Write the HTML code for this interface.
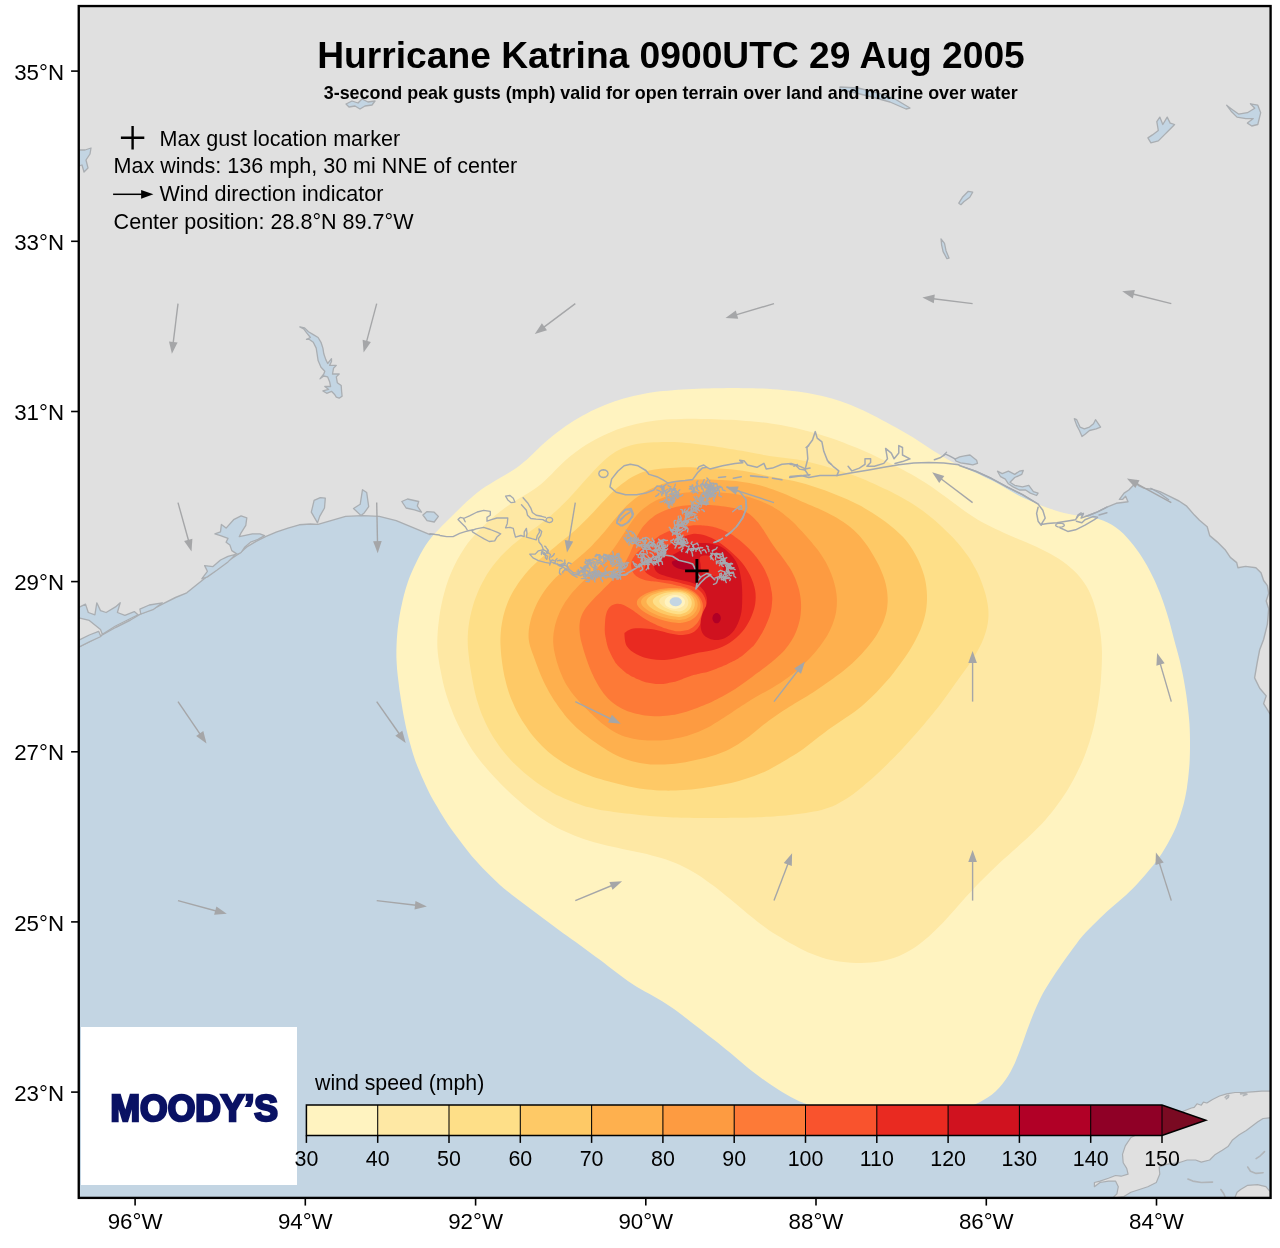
<!DOCTYPE html>
<html lang="en"><head><meta charset="utf-8"><title>Hurricane Katrina 0900UTC 29 Aug 2005</title>
<style>
html,body{margin:0;padding:0;background:#fff}
svg{display:block}
text{font-family:'Liberation Sans', Arial, Helvetica, sans-serif;fill:#000}
.tk{font-size:22.3px}
.lg{font-size:21.55px}
.cb{font-size:21.4px}
</style></head><body>
<svg width="1280" height="1248" viewBox="0 0 1280 1248">
<defs><clipPath id="ax"><rect x="79" y="6" width="1192" height="1192"/></clipPath></defs>
<rect x="0" y="0" width="1280" height="1248" fill="#fff"/>
<g clip-path="url(#ax)">
<rect x="79" y="6" width="1192" height="1192" fill="#c3d5e3"/>

<path d="M70.0,0.0L70.0,648.0L77.1,648.1L79.9,646.3L89.3,641.6L100.5,635.9L115.5,627.5L130.5,620.0L139.9,614.4L153.0,608.8L164.3,603.1L175.5,597.5L186.8,592.8L196.1,585.3L205.5,577.8L216.8,569.4L228.0,560.9L239.3,553.4L246.8,546.9L256.1,541.3L265.5,536.6L276.8,531.9L288.0,528.1L299.3,524.8L310.5,524.0L318.0,524.4L345.6,516.4L362.5,515.6L379.3,516.4L396.2,520.6L413.1,527.6L430.0,534.7L430.0,533.9L439.4,535.0L450.3,536.2L458.1,533.9L465.9,530.8L480.0,520.0L560.0,520.0L640.0,505.0L720.0,490.0L780.0,478.0L790.0,476.6L801.3,475.6L808.8,477.5L820.0,475.6L836.9,475.6L851.9,472.8L868.8,470.0L883.8,467.2L898.8,464.8L913.8,463.1L928.8,462.5L943.8,463.1L960.0,465.8L975.6,471.2L991.2,478.3L1006.9,486.9L1022.5,494.7L1030.3,499.4L1038.1,504.1L1042.8,510.3L1045.2,518.1L1041.2,524.4L1047.5,523.6L1056.9,522.8L1066.2,521.2L1075.6,519.7L1078.8,515.0L1083.4,513.4L1081.1,518.1L1089.7,515.0L1097.5,511.9L1106.9,507.2L1116.2,503.3L1122.5,502.5L1128.0,501.7L1125.6,496.2L1122.5,499.4L1119.4,499.4L1124.1,493.1L1128.8,490.0L1133.4,485.3L1136.6,480.6L1138.1,485.3L1144.4,488.4L1152.2,489.2L1160.0,491.6L1168.7,495.9L1179.0,501.0L1186.7,506.2L1194.4,515.1L1199.5,520.3L1207.2,526.7L1209.7,535.6L1217.4,542.1L1225.1,549.7L1230.3,557.4L1236.7,562.6L1237.9,567.7L1245.6,566.4L1255.9,567.7L1261.0,572.8L1263.6,580.5L1267.4,585.6L1268.7,593.3L1266.2,601.0L1268.7,608.7L1267.4,624.1L1263.6,639.5L1259.7,649.7L1257.2,662.6L1254.6,677.9L1259.7,688.2L1266.2,695.9L1263.6,703.6L1270.0,713.8L1276.4,719.0L1290.0,720.0L1290.0,0.0Z" fill="#e0e0e0" stroke="#aaaeb2" stroke-width="1.4" stroke-linejoin="round"/>
<path d="M1282.8,1091.1L1269.5,1091.1L1261.7,1091.1L1251.9,1091.8L1243.4,1092.5L1235.0,1092.5L1226.6,1093.9L1219.5,1096.0L1212.5,1099.5L1206.9,1103.0L1203.4,1102.1L1201.3,1105.2L1197.0,1103.8L1194.2,1107.3L1191.4,1108.0L1184.4,1110.8L1173.1,1116.4L1159.1,1124.8L1142.2,1131.9L1130.9,1137.5L1125.3,1145.9L1122.5,1154.4L1123.2,1162.8L1126.7,1168.4L1128.1,1174.1L1121.1,1176.2L1115.5,1175.5L1108.4,1178.3L1100.0,1181.1L1094.4,1182.5L1094.4,1186.7L1100.0,1182.5L1108.4,1181.1L1115.5,1181.1L1118.3,1186.7L1116.9,1193.8L1112.7,1198.0L1123.9,1196.6L1130.9,1192.3L1139.4,1189.5L1147.8,1186.7L1156.3,1182.5L1159.8,1174.1L1159.1,1167.0L1167.5,1164.2L1178.8,1162.8L1187.2,1160.0L1195.6,1160.0L1201.3,1162.1L1209.7,1160.0L1215.3,1154.4L1222.3,1150.2L1228.0,1146.6L1232.2,1140.3L1239.2,1134.7L1246.3,1130.5L1251.9,1126.3L1257.5,1122.0L1263.1,1118.5L1269.5,1117.8L1282.8,1117.8Z" fill="#e0e0e0" stroke="#aaaeb2" stroke-width="1.2" stroke-linejoin="round"/>
<path d="M1235.0,1197.3L1237.1,1192.3L1240.6,1189.5L1247.7,1185.3L1257.5,1184.6L1265.9,1186.7L1269.5,1190.9L1282.8,1192.3L1282.8,1199.4L1235.0,1199.4Z" fill="#e0e0e0" stroke="#aaaeb2" stroke-width="1.2" stroke-linejoin="round"/>
<path d="M220.5,535.6L214.9,533.8L220.5,531.9L221.4,524.4L226.1,528.1L233.6,519.7L241.1,515.9L246.8,517.8L245.8,525.3L241.1,532.8L239.3,536.6L252.4,533.8L259.9,533.8L264.6,535.6L258.0,539.4L250.5,542.2L244.9,546.9L241.1,552.5L237.4,554.4L231.8,550.6L229.9,545.0L226.1,542.2L228.0,538.4Z" fill="#c3d5e3" stroke="#aaaeb2" stroke-width="1.3" stroke-linejoin="round"/>
<path d="M201.8,578.8L207.4,571.3L204.6,565.6L213.0,566.6L220.5,560.0L228.0,556.3L235.5,554.4L228.0,561.9L216.8,570.3L207.4,576.9Z" fill="#c3d5e3" stroke="#aaaeb2" stroke-width="1.3" stroke-linejoin="round"/>
<path d="M77.1,607.8L79.9,606.9L85.5,604.1L88.3,612.5L94.9,614.8L96.8,602.8L100.5,610.6L106.1,612.5L115.5,606.9L120.2,602.8L117.4,612.5L124.9,615.3L134.3,611.6L138.0,614.8L130.5,618.5L115.5,626.0L102.4,634.4L100.5,629.4L89.3,620.4L79.9,618.1L77.1,617.8Z" fill="#c3d5e3" stroke="#aaaeb2" stroke-width="1.3" stroke-linejoin="round"/>
<path d="M139.9,609.1L149.3,605.0L162.4,602.8L153.0,609.7L140.8,614.0Z" fill="#c3d5e3" stroke="#aaaeb2" stroke-width="1.3" stroke-linejoin="round"/>
<path d="M77.1,640.3L79.9,639.7L89.3,635.0L98.6,631.3L100.9,636.5L89.3,641.9L79.9,646.6L77.1,648.1Z" fill="#c3d5e3" stroke="#aaaeb2" stroke-width="1.3" stroke-linejoin="round"/>
<path d="M317.5,522.9L311.3,512.2L314.1,500.4L320.3,497.6L325.3,498.1L324.5,508.0L319.7,516.4Z" fill="#c3d5e3" stroke="#aaaeb2" stroke-width="1.3" stroke-linejoin="round"/>
<path d="M361.1,515.6L353.5,508.5L360.2,504.3L362.5,489.7L366.7,492.5L368.7,506.6L364.4,512.7Z" fill="#c3d5e3" stroke="#aaaeb2" stroke-width="1.3" stroke-linejoin="round"/>
<path d="M401.8,501.5L407.5,499.0L418.7,501.5L417.3,506.0L421.5,512.2L414.5,509.9L406.1,508.0Z" fill="#c3d5e3" stroke="#aaaeb2" stroke-width="1.3" stroke-linejoin="round"/>
<path d="M422.9,515.0L427.1,511.6L434.2,512.2L438.4,516.4L434.2,522.0L427.1,520.6Z" fill="#c3d5e3" stroke="#aaaeb2" stroke-width="1.3" stroke-linejoin="round"/>
<path d="M299.8,326.9L304.6,327.9L308.5,331.7L313.3,334.6L318.1,337.5L321.0,342.3L322.9,348.1L323.8,353.8L325.8,359.6L327.7,363.5L331.5,358.7L331.5,361.5L329.6,365.4L336.3,365.4L333.5,368.3L332.5,374.0L339.2,374.0L336.3,376.9L337.3,382.7L341.2,385.6L341.6,391.3L342.1,396.2L339.2,398.1L336.3,397.1L334.4,394.2L331.5,391.3L326.7,393.3L322.9,390.9L328.7,389.4L324.8,386.5L330.6,386.5L329.6,381.7L327.7,376.9L323.8,376.0L320.0,378.8L323.8,374.0L324.8,371.2L321.0,367.3L318.1,360.6L317.1,353.8L316.2,348.1L313.3,342.3L309.4,339.4L306.5,339.4L310.4,337.5L306.5,332.7L303.7,328.8Z" fill="#c3d5e3" stroke="#aaaeb2" stroke-width="1.3" stroke-linejoin="round"/>
<path d="M1147.9,137.9L1152.4,134.9L1158.3,130.5L1156.8,121.6L1159.8,117.1L1162.8,124.5L1167.2,117.1L1170.2,123.1L1174.6,124.5L1168.7,130.5L1164.3,134.9L1158.3,140.9L1150.9,142.9Z" fill="#c3d5e3" stroke="#aaaeb2" stroke-width="1.3" stroke-linejoin="round"/>
<path d="M1226.6,105.2L1232.5,109.7L1238.5,114.1L1247.4,112.7L1254.8,108.2L1250.4,103.8L1257.8,105.2L1260.7,112.7L1257.8,124.5L1251.8,126.0L1247.4,123.1L1253.3,118.6L1245.9,118.6L1237.0,117.1L1231.1,111.2Z" fill="#c3d5e3" stroke="#aaaeb2" stroke-width="1.3" stroke-linejoin="round"/>
<path d="M958.8,203.2L962.4,197.3L968.3,191.3L972.7,192.2L969.8,197.3L963.8,201.7L960.9,204.7Z" fill="#c3d5e3" stroke="#aaaeb2" stroke-width="1.3" stroke-linejoin="round"/>
<path d="M941.0,238.8L944.5,243.3L946.0,250.7L949.0,258.1L946.9,258.7L943.1,251.6L941.6,244.8Z" fill="#c3d5e3" stroke="#aaaeb2" stroke-width="1.3" stroke-linejoin="round"/>
<path d="M840.0,87.0L858.0,88.0L878.0,93.0L895.0,99.0L910.0,108.0L906.0,109.0L890.0,102.0L872.0,97.0L852.0,92.0L840.0,90.0Z" fill="#c3d5e3" stroke="#aaaeb2" stroke-width="1.3" stroke-linejoin="round"/>
<path d="M346.0,104.0L352.0,101.0L358.0,103.0L362.0,99.0L368.0,102.0L375.0,101.0L372.0,105.0L365.0,106.0L360.0,109.0L355.0,106.0L349.0,107.0Z" fill="#c3d5e3" stroke="#aaaeb2" stroke-width="1.3" stroke-linejoin="round"/>
<path d="M79.0,150.0L85.0,150.0L91.0,148.0L90.0,154.0L86.0,160.0L88.0,168.0L84.0,172.0L82.0,165.0L79.0,166.0Z" fill="#c3d5e3" stroke="#aaaeb2" stroke-width="1.3" stroke-linejoin="round"/>
<path d="M955.0,459.1L959.7,456.9L964.4,455.9L970.0,455.0L976.6,460.3L977.5,463.4L972.8,464.8L968.1,464.0L960.6,462.9L955.9,461.0Z" fill="#c3d5e3" stroke="#aaaeb2" stroke-width="1.3" stroke-linejoin="round"/>
<path d="M997.5,471.2L1002.2,473.6L1008.4,471.2L1014.7,474.4L1019.4,471.2L1023.3,470.5L1021.7,474.4L1014.7,477.5L1010.0,482.2L1014.7,485.3L1022.5,486.9L1028.8,485.3L1033.4,491.6L1038.1,493.1L1036.6,495.5L1030.3,493.1L1025.6,490.0L1019.4,490.0L1013.1,486.9L1008.4,483.8L1005.3,479.1L1000.6,476.7Z" fill="#c3d5e3" stroke="#aaaeb2" stroke-width="1.3" stroke-linejoin="round"/>
<path d="M1074.3,418.7L1076.7,425.4L1079.4,430.5L1082.0,436.5L1085.4,433.9L1089.5,430.5L1096.2,428.8L1100.6,427.1L1097.9,423.1L1095.5,419.7L1093.5,423.8L1089.5,427.1L1084.4,428.8L1080.0,427.1L1076.7,419.7Z" fill="#c3d5e3" stroke="#aaaeb2" stroke-width="1.3" stroke-linejoin="round"/>
<path d="M1187.9,1179.0L1192.8,1181.1L1201.3,1182.5L1212.5,1182.1" fill="none" stroke="#b0b4b8" stroke-width="1.6" stroke-linejoin="round" stroke-linecap="round"/>
<path d="M1247.7,1167.0L1250.5,1171.3L1256.1,1173.4L1263.1,1172.7" fill="none" stroke="#b0b4b8" stroke-width="1.6" stroke-linejoin="round" stroke-linecap="round"/>
<path d="M1256.1,1158.6L1260.3,1155.8L1264.5,1151.6" fill="none" stroke="#b0b4b8" stroke-width="1.6" stroke-linejoin="round" stroke-linecap="round"/>
<path d="M1220.9,1189.5L1223.8,1193.8L1225.2,1197.3" fill="none" stroke="#b0b4b8" stroke-width="1.6" stroke-linejoin="round" stroke-linecap="round"/>
<path d="M1225.2,1097.4L1226.6,1096.0L1228.7,1095.3L1228.3,1097.4L1226.3,1098.8" fill="none" stroke="#b0b4b8" stroke-width="1.6" stroke-linejoin="round" stroke-linecap="round"/>
<path d="M1240.6,1093.9L1244.8,1093.2L1247.0,1094.2L1243.4,1095.6" fill="none" stroke="#b0b4b8" stroke-width="1.6" stroke-linejoin="round" stroke-linecap="round"/>
<g>
<path d="M877.9,417.7C880.9,419.3 883.8,420.9 886.7,422.5C889.7,424.1 892.6,425.7 895.5,427.3C898.4,428.9 901.3,430.5 904.2,432.2C907.1,433.8 910.0,435.5 912.8,437.2C915.7,439.0 918.4,440.8 921.2,442.7C924.0,444.5 926.8,446.4 929.5,448.2C932.3,450.0 935.1,451.9 937.9,453.6C940.8,455.4 943.6,457.2 946.5,458.8C949.4,460.5 952.3,462.1 955.3,463.5C958.2,465.0 961.3,466.4 964.3,467.7C967.4,469.1 970.5,470.3 973.5,471.7C976.6,473.0 979.6,474.4 982.6,475.9C985.6,477.3 988.6,478.8 991.5,480.3C994.5,481.9 997.4,483.4 1000.3,485.0C1003.3,486.6 1006.1,488.3 1009.0,490.0C1011.9,491.6 1014.8,493.3 1017.7,494.9C1020.7,496.4 1023.6,497.9 1026.7,499.3C1029.7,500.7 1032.7,502.0 1035.8,503.3C1038.9,504.6 1042.0,505.8 1045.1,507.0C1048.2,508.1 1051.4,509.2 1054.6,510.2C1057.7,511.2 1060.9,512.2 1064.1,513.0C1067.3,513.8 1070.6,514.4 1073.9,515.0C1077.1,515.6 1080.4,515.9 1083.7,516.3C1087.0,516.8 1090.3,517.2 1093.6,517.9C1096.8,518.5 1100.0,519.4 1103.0,520.5C1106.1,521.7 1109.0,523.1 1111.8,524.8C1114.6,526.4 1117.3,528.4 1119.8,530.5C1122.3,532.6 1124.7,535.0 1126.9,537.4C1129.2,539.8 1131.3,542.4 1133.3,545.0C1135.4,547.6 1137.3,550.3 1139.2,553.1C1141.1,555.8 1142.9,558.6 1144.6,561.5C1146.3,564.3 1148.0,567.2 1149.5,570.2C1151.1,573.1 1152.5,576.1 1153.9,579.1C1155.3,582.1 1156.7,585.2 1157.9,588.3C1159.2,591.3 1160.5,594.4 1161.6,597.6C1162.8,600.7 1163.9,603.8 1164.9,607.0C1166.0,610.1 1167.0,613.3 1167.9,616.5C1168.9,619.7 1169.8,622.9 1170.6,626.1C1171.5,629.4 1172.3,632.6 1173.1,635.8C1173.9,639.0 1174.8,642.3 1175.7,645.5C1176.6,648.7 1177.5,651.9 1178.3,655.1C1179.2,658.3 1180.0,661.6 1180.7,664.8C1181.5,668.1 1182.1,671.3 1182.8,674.6C1183.4,677.9 1184.1,681.1 1184.6,684.4C1185.2,687.7 1185.7,691.0 1186.2,694.3C1186.7,697.6 1187.1,700.9 1187.5,704.2C1187.9,707.5 1188.3,710.8 1188.6,714.1C1188.9,717.4 1189.3,720.8 1189.5,724.1C1189.7,727.4 1189.8,730.7 1189.9,734.1C1190.0,737.4 1190.0,740.7 1190.0,744.1C1190.0,747.4 1190.0,750.7 1189.9,754.1C1189.8,757.4 1189.7,760.7 1189.5,764.0C1189.3,767.4 1188.9,770.7 1188.6,774.0C1188.3,777.3 1187.9,780.6 1187.4,783.9C1187.0,787.2 1186.6,790.5 1185.9,793.8C1185.3,797.0 1184.6,800.3 1183.8,803.5C1182.9,806.7 1182.0,809.9 1181.0,813.1C1180.0,816.3 1179.0,819.4 1177.8,822.5C1176.6,825.6 1175.3,828.7 1173.9,831.7C1172.5,834.7 1170.9,837.6 1169.4,840.5C1167.8,843.5 1166.1,846.4 1164.4,849.2C1162.7,852.1 1161.0,854.9 1159.1,857.6C1157.2,860.4 1155.2,863.0 1153.1,865.6C1151.0,868.2 1148.8,870.7 1146.6,873.2C1144.5,875.7 1142.3,878.2 1140.0,880.7C1137.8,883.2 1135.6,885.7 1133.3,888.0C1130.9,890.4 1128.5,892.7 1126.1,895.0C1123.6,897.2 1121.1,899.4 1118.6,901.6C1116.1,903.8 1113.5,905.9 1111.0,908.1C1108.5,910.3 1106.0,912.5 1103.6,914.8C1101.1,917.0 1098.7,919.4 1096.4,921.7C1094.0,924.0 1091.6,926.4 1089.3,928.8C1087.0,931.2 1084.7,933.6 1082.5,936.1C1080.4,938.6 1078.3,941.2 1076.3,943.9C1074.2,946.5 1072.3,949.2 1070.4,951.9C1068.4,954.6 1066.5,957.3 1064.6,960.1C1062.7,962.8 1060.8,965.5 1058.9,968.3C1057.0,971.0 1055.1,973.8 1053.3,976.6C1051.5,979.4 1049.6,982.1 1047.9,985.0C1046.1,987.8 1044.4,990.6 1042.8,993.6C1041.2,996.5 1039.8,999.5 1038.4,1002.5C1037.0,1005.5 1035.7,1008.6 1034.4,1011.6C1033.1,1014.7 1031.8,1017.8 1030.6,1020.9C1029.4,1024.0 1028.2,1027.1 1027.1,1030.3C1026.0,1033.4 1024.9,1036.6 1023.8,1039.7C1022.7,1042.8 1021.5,1046.0 1020.4,1049.1C1019.2,1052.2 1018.0,1055.3 1016.7,1058.4C1015.5,1061.5 1014.2,1064.6 1012.7,1067.5C1011.3,1070.5 1009.7,1073.4 1007.9,1076.2C1006.2,1079.0 1004.2,1081.7 1002.2,1084.2C1000.1,1086.8 997.9,1089.3 995.5,1091.5C993.1,1093.7 990.5,1095.8 987.7,1097.6C985.0,1099.4 982.1,1101.1 979.2,1102.6C976.2,1104.0 973.1,1105.3 970.1,1106.5C967.0,1107.8 963.8,1108.9 960.7,1110.0C957.5,1111.1 954.4,1112.1 951.2,1112.9C948.0,1113.7 944.7,1114.3 941.4,1114.8C938.1,1115.4 934.8,1115.8 931.5,1116.2C928.2,1116.6 924.9,1117.0 921.6,1117.4C918.3,1117.8 915.0,1118.2 911.7,1118.5C908.4,1118.8 905.0,1119.1 901.7,1119.3C898.4,1119.4 895.1,1119.3 891.8,1119.2C888.5,1119.0 885.1,1118.8 881.8,1118.5C878.5,1118.3 875.2,1118.0 871.8,1117.7C868.5,1117.5 865.2,1117.2 861.9,1116.9C858.6,1116.5 855.3,1116.2 852.0,1115.7C848.7,1115.2 845.4,1114.5 842.2,1113.8C839.0,1113.1 835.7,1112.2 832.5,1111.4C829.3,1110.6 826.0,1109.7 822.8,1108.9C819.6,1108.0 816.4,1107.2 813.2,1106.2C810.0,1105.3 806.8,1104.3 803.8,1103.1C800.7,1101.9 797.7,1100.5 794.7,1099.0C791.8,1097.5 788.9,1095.8 786.0,1094.2C783.1,1092.5 780.3,1090.8 777.4,1089.0C774.6,1087.3 771.8,1085.4 769.1,1083.5C766.3,1081.7 763.6,1079.8 760.9,1077.8C758.2,1075.9 755.5,1073.9 752.9,1071.8C750.3,1069.8 747.7,1067.6 745.1,1065.5C742.6,1063.4 740.1,1061.2 737.5,1059.0C735.0,1056.9 732.4,1054.7 729.9,1052.6C727.3,1050.5 724.7,1048.4 722.1,1046.3C719.5,1044.2 716.9,1042.2 714.3,1040.1C711.6,1038.1 709.0,1036.0 706.4,1034.0C703.7,1031.9 701.1,1029.9 698.5,1027.8C695.8,1025.8 693.2,1023.7 690.6,1021.7C687.9,1019.7 685.3,1017.6 682.7,1015.6C680.0,1013.6 677.4,1011.5 674.7,1009.6C672.0,1007.7 669.2,1005.8 666.4,1004.0C663.6,1002.2 660.8,1000.5 657.9,998.8C655.0,997.1 652.1,995.5 649.2,993.8C646.3,992.2 643.4,990.6 640.5,988.9C637.6,987.2 634.8,985.5 632.0,983.7C629.2,981.9 626.5,980.0 623.8,978.0C621.1,976.1 618.5,974.0 615.8,972.0C613.2,970.0 610.5,967.9 607.9,965.9C605.2,963.9 602.6,961.8 599.9,959.8C597.3,957.8 594.6,955.9 591.9,953.9C589.2,951.9 586.5,950.0 583.8,948.0C581.1,946.1 578.4,944.1 575.7,942.1C573.0,940.2 570.3,938.2 567.6,936.3C564.9,934.3 562.2,932.3 559.5,930.4C556.8,928.4 554.2,926.4 551.5,924.4C548.8,922.4 546.1,920.5 543.4,918.5C540.8,916.5 538.1,914.5 535.4,912.5C532.7,910.5 530.1,908.5 527.4,906.5C524.7,904.5 522.1,902.5 519.4,900.5C516.8,898.5 514.1,896.5 511.5,894.4C508.8,892.4 506.2,890.3 503.7,888.2C501.1,886.0 498.7,883.8 496.3,881.5C493.8,879.2 491.5,876.9 489.1,874.5C486.8,872.2 484.4,869.8 482.1,867.4C479.8,865.0 477.5,862.6 475.3,860.1C473.1,857.6 471.0,855.0 468.9,852.4C466.8,849.9 464.8,847.2 462.7,844.6C460.7,841.9 458.7,839.3 456.7,836.6C454.7,834.0 452.7,831.3 450.8,828.5C448.9,825.8 447.1,823.0 445.3,820.2C443.5,817.4 441.8,814.6 440.0,811.7C438.3,808.9 436.6,806.0 434.9,803.1C433.2,800.2 431.6,797.3 430.1,794.4C428.6,791.4 427.2,788.4 425.8,785.4C424.3,782.4 423.0,779.3 421.6,776.3C420.3,773.2 418.9,770.2 417.7,767.1C416.5,764.0 415.3,760.9 414.3,757.7C413.2,754.6 412.3,751.4 411.4,748.2C410.5,745.0 409.6,741.8 408.7,738.5C407.9,735.3 407.1,732.1 406.3,728.8C405.6,725.6 404.9,722.3 404.3,719.1C403.6,715.8 403.1,712.5 402.5,709.2C402.0,705.9 401.4,702.6 400.9,699.3C400.4,696.1 399.9,692.8 399.4,689.5C399.0,686.2 398.6,682.8 398.2,679.5C397.8,676.2 397.4,672.9 397.1,669.6C396.9,666.3 396.6,663.0 396.5,659.6C396.3,656.3 396.4,653.0 396.4,649.7C396.5,646.3 396.6,643.0 396.8,639.7C397.0,636.4 397.3,633.0 397.6,629.7C398.0,626.4 398.4,623.1 398.9,619.8C399.4,616.5 400.0,613.2 400.6,610.0C401.2,606.7 402.0,603.5 402.7,600.2C403.5,597.0 404.3,593.8 405.2,590.6C406.2,587.4 407.1,584.2 408.2,581.0C409.3,577.9 410.6,574.8 411.9,571.8C413.2,568.7 414.6,565.7 416.1,562.7C417.5,559.7 419.0,556.7 420.6,553.8C422.2,550.9 423.8,548.0 425.6,545.2C427.4,542.4 429.4,539.8 431.5,537.2C433.6,534.7 435.9,532.3 438.2,529.9C440.4,527.5 442.8,525.1 445.2,522.8C447.6,520.4 449.9,518.1 452.3,515.7C454.6,513.4 457.0,511.0 459.4,508.7C461.8,506.3 464.1,504.0 466.6,501.8C469.1,499.5 471.6,497.3 474.1,495.2C476.7,493.1 479.3,491.1 482.0,489.1C484.7,487.2 487.5,485.4 490.4,483.7C493.2,481.9 496.1,480.3 499.0,478.6C501.8,476.9 504.8,475.3 507.6,473.6C510.4,471.8 513.3,470.1 516.0,468.2C518.7,466.3 521.3,464.3 523.9,462.1C526.4,460.0 528.8,457.7 531.2,455.4C533.6,453.1 535.9,450.7 538.4,448.4C540.8,446.1 543.2,443.9 545.7,441.7C548.2,439.5 550.8,437.4 553.4,435.3C556.0,433.3 558.7,431.3 561.4,429.3C564.1,427.3 566.8,425.4 569.6,423.6C572.4,421.8 575.2,420.0 578.1,418.3C580.9,416.6 583.8,414.9 586.8,413.4C589.7,411.8 592.7,410.4 595.7,409.0C598.7,407.5 601.8,406.2 604.9,405.0C607.9,403.7 611.1,402.5 614.2,401.4C617.3,400.3 620.5,399.3 623.7,398.4C626.9,397.5 630.1,396.6 633.4,395.9C636.6,395.1 639.9,394.5 643.1,393.9C646.4,393.2 649.7,392.7 653.0,392.3C656.3,391.8 659.6,391.4 662.9,391.1C666.2,390.8 669.6,390.5 672.9,390.2C676.2,389.9 679.5,389.7 682.9,389.5C686.2,389.3 689.5,389.1 692.8,389.0C696.2,388.8 699.5,388.7 702.8,388.6C706.2,388.5 709.5,388.4 712.8,388.3C716.2,388.2 719.5,388.2 722.8,388.2C726.2,388.1 729.5,388.1 732.8,388.1C736.2,388.1 739.5,388.1 742.8,388.2C746.2,388.2 749.5,388.3 752.8,388.3C756.2,388.4 759.5,388.5 762.8,388.6C766.2,388.8 769.5,388.9 772.8,389.2C776.1,389.4 779.5,389.6 782.8,389.9C786.1,390.2 789.4,390.6 792.7,391.0C796.0,391.3 799.3,391.8 802.6,392.3C805.9,392.7 809.2,393.3 812.5,393.9C815.8,394.5 819.0,395.1 822.3,395.9C825.5,396.7 828.7,397.6 831.9,398.5C835.1,399.5 838.3,400.5 841.4,401.6C844.5,402.7 847.7,403.8 850.8,405.1C853.9,406.3 856.9,407.6 860.0,409.0C863.0,410.3 866.0,411.8 869.0,413.2C872.0,414.7 875.0,416.2 877.9,417.7Z" fill="#fff3c0"/>
<path d="M437.7,651.9C437.4,648.6 437.3,645.3 437.3,642.0C437.3,638.7 437.5,635.4 437.7,632.1C437.9,628.7 438.3,625.4 438.7,622.1C439.1,618.8 439.5,615.5 440.0,612.2C440.6,608.9 441.2,605.6 441.9,602.4C442.6,599.1 443.4,595.9 444.3,592.7C445.2,589.5 446.1,586.3 447.2,583.1C448.3,580.0 449.4,576.8 450.7,573.8C452.0,570.7 453.3,567.7 454.8,564.7C456.3,561.7 457.8,558.8 459.5,555.9C461.2,553.0 462.9,550.2 464.8,547.4C466.7,544.7 468.7,542.0 470.8,539.5C472.9,536.9 475.1,534.4 477.4,532.0C479.7,529.6 482.1,527.3 484.5,525.0C486.9,522.7 489.4,520.4 491.9,518.2C494.4,516.1 497.0,513.9 499.6,511.9C502.2,509.8 504.9,507.9 507.6,506.0C510.4,504.1 513.2,502.2 516.0,500.5C518.8,498.7 521.7,497.1 524.5,495.3C527.4,493.6 530.3,492.0 533.0,490.1C535.7,488.3 538.3,486.4 540.9,484.3C543.4,482.2 545.7,479.9 548.1,477.6C550.5,475.3 552.7,472.8 555.0,470.4C557.4,468.1 559.7,465.7 562.1,463.4C564.6,461.1 567.1,458.9 569.6,456.8C572.2,454.7 574.8,452.7 577.5,450.7C580.2,448.8 583.0,446.9 585.8,445.1C588.6,443.3 591.5,441.6 594.4,440.0C597.3,438.4 600.3,436.9 603.3,435.4C606.3,434.0 609.3,432.6 612.4,431.4C615.5,430.2 618.6,429.0 621.8,428.0C624.9,427.0 628.2,426.1 631.4,425.2C634.6,424.4 637.9,423.7 641.1,423.0C644.4,422.4 647.7,421.8 651.0,421.3C654.3,420.8 657.6,420.4 660.9,420.1C664.2,419.8 667.5,419.5 670.9,419.3C674.2,419.1 677.5,419.0 680.9,418.9C684.2,418.8 687.5,418.8 690.9,418.8C694.2,418.8 697.6,418.9 700.9,418.9C704.2,418.9 707.6,419.0 710.9,419.1C714.3,419.2 717.6,419.3 720.9,419.4C724.3,419.5 727.6,419.7 730.9,419.8C734.3,420.0 737.6,420.2 740.9,420.4C744.3,420.7 747.6,420.9 750.9,421.2C754.3,421.5 757.6,421.8 760.9,422.2C764.2,422.6 767.5,423.0 770.8,423.5C774.1,423.9 777.4,424.5 780.7,425.0C784.0,425.6 787.3,426.3 790.5,427.0C793.8,427.7 797.1,428.4 800.3,429.2C803.5,430.0 806.8,430.8 810.0,431.7C813.2,432.6 816.4,433.5 819.6,434.5C822.8,435.5 826.0,436.5 829.2,437.6C832.3,438.6 835.5,439.7 838.6,440.8C841.8,442.0 844.9,443.1 848.0,444.4C851.1,445.6 854.2,446.8 857.3,448.1C860.4,449.4 863.4,450.7 866.5,452.0C869.5,453.4 872.6,454.8 875.6,456.2C878.6,457.7 881.6,459.1 884.6,460.5C887.6,462.0 890.7,463.4 893.6,464.9C896.6,466.4 899.6,468.0 902.5,469.5C905.5,471.1 908.4,472.7 911.3,474.3C914.2,476.0 917.1,477.6 920.0,479.4C922.8,481.1 925.7,482.8 928.5,484.7C931.2,486.5 934.0,488.4 936.7,490.4C939.4,492.3 942.1,494.3 944.8,496.3C947.5,498.3 950.1,500.3 952.8,502.3C955.5,504.3 958.2,506.3 960.9,508.2C963.6,510.2 966.3,512.1 969.0,514.0C971.8,515.9 974.6,517.7 977.4,519.4C980.3,521.1 983.2,522.7 986.1,524.3C989.1,525.9 992.1,527.3 995.1,528.8C998.1,530.2 1001.1,531.6 1004.2,532.9C1007.2,534.3 1010.3,535.6 1013.4,536.9C1016.4,538.2 1019.5,539.5 1022.6,540.8C1025.7,542.1 1028.8,543.4 1031.8,544.7C1034.9,546.1 1037.9,547.4 1040.9,548.9C1043.9,550.3 1046.9,551.8 1049.8,553.5C1052.7,555.1 1055.6,556.8 1058.4,558.6C1061.1,560.4 1063.9,562.3 1066.5,564.3C1069.1,566.3 1071.6,568.5 1074.0,570.8C1076.4,573.1 1078.6,575.5 1080.7,578.0C1082.7,580.6 1084.6,583.3 1086.3,586.1C1088.0,588.9 1089.5,591.9 1090.8,594.9C1092.1,597.9 1093.2,601.0 1094.2,604.2C1095.2,607.4 1096.0,610.6 1096.8,613.8C1097.6,617.0 1098.3,620.3 1098.9,623.6C1099.5,626.9 1100.0,630.2 1100.5,633.5C1100.9,636.8 1101.3,640.1 1101.5,643.4C1101.8,646.7 1101.9,650.0 1102.0,653.4C1102.0,656.7 1101.9,660.0 1101.8,663.4C1101.7,666.7 1101.5,670.0 1101.3,673.4C1101.1,676.7 1100.9,680.0 1100.6,683.4C1100.3,686.7 1100.0,690.0 1099.6,693.3C1099.2,696.6 1098.7,699.9 1098.2,703.2C1097.7,706.5 1097.1,709.8 1096.5,713.1C1095.9,716.4 1095.3,719.6 1094.6,722.9C1093.8,726.2 1093.0,729.4 1092.2,732.6C1091.3,735.8 1090.4,739.0 1089.4,742.2C1088.3,745.4 1087.3,748.5 1086.1,751.7C1085.0,754.8 1083.8,757.9 1082.5,761.0C1081.2,764.0 1079.8,767.0 1078.3,770.1C1076.9,773.1 1075.4,776.0 1073.8,779.0C1072.3,781.9 1070.6,784.8 1068.9,787.7C1067.2,790.6 1065.4,793.4 1063.6,796.1C1061.7,798.9 1059.8,801.6 1057.8,804.3C1055.9,807.0 1053.9,809.7 1051.8,812.3C1049.7,814.9 1047.5,817.4 1045.3,819.9C1043.1,822.3 1040.8,824.8 1038.4,827.2C1036.1,829.5 1033.7,831.9 1031.3,834.2C1028.9,836.5 1026.5,838.8 1024.0,841.1C1021.6,843.3 1019.1,845.5 1016.6,847.8C1014.1,850.0 1011.6,852.1 1009.1,854.4C1006.6,856.6 1004.1,858.8 1001.6,861.0C999.1,863.3 996.7,865.6 994.3,867.9C991.8,870.2 989.5,872.5 987.1,874.9C984.7,877.2 982.4,879.6 980.0,882.0C977.7,884.3 975.4,886.8 973.1,889.2C970.8,891.6 968.6,894.1 966.3,896.6C964.1,899.1 961.9,901.6 959.7,904.1C957.5,906.6 955.3,909.1 953.1,911.6C950.9,914.1 948.6,916.6 946.3,919.0C944.1,921.5 941.8,923.9 939.4,926.2C937.1,928.6 934.7,931.0 932.2,933.2C929.8,935.5 927.3,937.7 924.8,939.8C922.2,942.0 919.6,944.0 916.9,945.9C914.2,947.8 911.4,949.6 908.5,951.3C905.7,952.9 902.7,954.4 899.7,955.7C896.7,957.0 893.6,958.1 890.4,959.0C887.3,959.9 884.0,960.6 880.7,961.2C877.5,961.8 874.2,962.2 870.9,962.5C867.6,962.8 864.3,963.0 860.9,963.1C857.6,963.1 854.3,963.0 851.0,962.8C847.7,962.6 844.4,962.3 841.1,961.8C837.8,961.3 834.5,960.7 831.3,960.0C828.0,959.2 824.8,958.4 821.7,957.4C818.5,956.4 815.4,955.2 812.3,954.0C809.2,952.7 806.2,951.4 803.2,949.9C800.2,948.5 797.3,946.9 794.3,945.3C791.4,943.7 788.5,942.1 785.6,940.4C782.7,938.7 779.9,937.0 777.0,935.3C774.2,933.5 771.4,931.7 768.6,929.9C765.9,928.0 763.2,926.0 760.5,924.0C757.9,922.0 755.3,919.9 752.7,917.8C750.1,915.7 747.5,913.5 745.0,911.4C742.4,909.3 739.8,907.1 737.3,905.0C734.7,902.9 732.1,900.7 729.5,898.6C727.0,896.5 724.4,894.4 721.8,892.3C719.1,890.2 716.5,888.2 713.9,886.1C711.2,884.1 708.5,882.1 705.8,880.2C703.1,878.3 700.3,876.4 697.5,874.6C694.7,872.8 691.8,871.2 688.9,869.6C686.0,868.0 683.0,866.5 680.0,865.1C677.0,863.8 673.9,862.5 670.8,861.3C667.7,860.1 664.5,859.1 661.3,858.1C658.2,857.1 654.9,856.2 651.7,855.4C648.5,854.5 645.2,853.7 642.0,853.0C638.7,852.2 635.5,851.6 632.2,850.9C628.9,850.2 625.7,849.6 622.4,848.9C619.1,848.2 615.8,847.5 612.6,846.8C609.3,846.1 606.1,845.3 602.8,844.5C599.6,843.7 596.4,842.9 593.2,842.0C589.9,841.1 586.8,840.1 583.6,839.0C580.5,838.0 577.3,836.8 574.2,835.6C571.2,834.3 568.1,833.0 565.1,831.6C562.1,830.2 559.1,828.7 556.1,827.2C553.2,825.6 550.3,824.0 547.5,822.2C544.7,820.5 541.9,818.6 539.1,816.7C536.4,814.8 533.7,812.8 531.1,810.8C528.4,808.8 525.8,806.7 523.2,804.6C520.7,802.5 518.2,800.3 515.7,798.1C513.2,795.8 510.7,793.6 508.3,791.3C505.9,789.0 503.5,786.7 501.1,784.3C498.8,781.9 496.5,779.5 494.2,777.1C491.9,774.7 489.7,772.2 487.5,769.6C485.3,767.1 483.2,764.6 481.1,762.0C479.0,759.4 477.0,756.7 475.1,754.0C473.1,751.3 471.3,748.5 469.6,745.7C467.8,742.9 466.1,740.0 464.5,737.1C462.9,734.2 461.3,731.2 459.8,728.2C458.3,725.3 456.9,722.3 455.5,719.2C454.1,716.2 452.9,713.1 451.7,710.0C450.4,706.9 449.3,703.8 448.2,700.6C447.1,697.5 446.1,694.3 445.2,691.1C444.3,687.9 443.5,684.6 442.8,681.4C442.1,678.1 441.4,674.9 440.8,671.6C440.1,668.3 439.5,665.1 439.0,661.8C438.5,658.5 438.0,655.2 437.7,651.9Z" fill="#fee8a4"/>
<path d="M467.7,640.0C467.7,637.3 467.8,634.7 468.0,632.0C468.2,629.4 468.5,626.7 468.9,624.1C469.3,621.4 469.7,618.8 470.3,616.2C470.8,613.6 471.5,611.0 472.2,608.4C472.9,605.9 473.7,603.3 474.5,600.8C475.4,598.3 476.4,595.8 477.4,593.3C478.4,590.8 479.5,588.4 480.6,586.0C481.8,583.6 483.0,581.3 484.4,578.9C485.7,576.6 487.1,574.3 488.5,572.1C490.0,569.9 491.5,567.7 493.1,565.6C494.7,563.4 496.4,561.4 498.1,559.4C499.9,557.3 501.7,555.4 503.6,553.5C505.4,551.5 507.3,549.7 509.3,547.9C511.2,546.1 513.3,544.4 515.4,542.7C517.4,541.0 519.5,539.3 521.7,537.7C523.8,536.1 525.9,534.5 528.1,532.9C530.3,531.4 532.4,529.8 534.6,528.3C536.7,526.7 538.9,525.1 541.0,523.5C543.1,521.8 545.2,520.2 547.3,518.5C549.4,516.8 551.4,515.1 553.4,513.3C555.4,511.6 557.4,509.7 559.3,507.9C561.3,506.1 563.2,504.2 565.1,502.3C566.9,500.4 568.8,498.5 570.6,496.5C572.5,494.6 574.3,492.6 576.1,490.6C577.8,488.6 579.6,486.6 581.4,484.6C583.2,482.6 584.9,480.6 586.7,478.6C588.5,476.6 590.2,474.6 592.0,472.7C593.9,470.7 595.7,468.7 597.6,466.8C599.5,465.0 601.4,463.1 603.3,461.3C605.3,459.5 607.3,457.8 609.4,456.1C611.5,454.5 613.7,453.0 615.9,451.6C618.2,450.2 620.5,449.0 622.9,448.0C625.3,447.0 627.9,446.2 630.4,445.5C633.0,444.8 635.6,444.3 638.2,443.8C640.8,443.4 643.5,443.1 646.1,442.8C648.8,442.5 651.5,442.4 654.1,442.2C656.8,442.1 659.5,442.0 662.1,441.9C664.8,441.9 667.5,441.9 670.1,442.0C672.8,442.0 675.5,442.2 678.1,442.3C680.8,442.5 683.5,442.7 686.1,442.9C688.8,443.1 691.5,443.4 694.1,443.7C696.8,444.0 699.4,444.4 702.1,444.7C704.7,445.1 707.4,445.4 710.0,445.8C712.7,446.2 715.3,446.6 717.9,447.0C720.6,447.4 723.2,447.8 725.9,448.2C728.5,448.7 731.2,449.1 733.8,449.5C736.4,450.0 739.1,450.4 741.7,450.8C744.3,451.3 747.0,451.8 749.6,452.3C752.2,452.8 754.8,453.3 757.5,453.8C760.1,454.3 762.7,454.8 765.4,455.2C768.0,455.7 770.6,456.1 773.3,456.5C775.9,456.8 778.6,457.2 781.2,457.5C783.9,457.8 786.5,458.1 789.2,458.4C791.8,458.7 794.5,459.1 797.1,459.5C799.7,460.0 802.4,460.5 805.0,461.0C807.6,461.6 810.2,462.3 812.8,462.9C815.3,463.6 817.9,464.3 820.5,465.0C823.1,465.7 825.7,466.4 828.2,467.2C830.8,467.9 833.3,468.7 835.9,469.5C838.4,470.3 841.0,471.2 843.5,472.0C846.0,472.9 848.6,473.7 851.1,474.6C853.6,475.5 856.1,476.4 858.6,477.3C861.1,478.3 863.6,479.3 866.1,480.3C868.5,481.4 871.0,482.5 873.4,483.5C875.8,484.6 878.3,485.7 880.7,486.9C883.1,488.0 885.6,489.1 888.0,490.3C890.3,491.5 892.7,492.7 895.1,494.0C897.4,495.2 899.8,496.5 902.1,497.8C904.4,499.1 906.8,500.4 909.1,501.8C911.3,503.2 913.6,504.6 915.8,506.1C918.1,507.5 920.2,509.1 922.4,510.6C924.6,512.2 926.7,513.8 928.8,515.5C930.9,517.1 933.0,518.8 935.0,520.5C937.0,522.3 939.0,524.1 941.0,525.9C942.9,527.7 944.8,529.6 946.7,531.4C948.6,533.3 950.5,535.2 952.4,537.1C954.2,539.1 956.0,541.0 957.8,543.1C959.5,545.1 961.2,547.1 962.9,549.2C964.5,551.3 966.1,553.5 967.6,555.6C969.2,557.8 970.6,560.1 972.0,562.4C973.3,564.6 974.6,567.0 975.8,569.3C977.1,571.7 978.2,574.1 979.3,576.6C980.4,579.0 981.3,581.5 982.2,584.0C983.1,586.5 984.0,589.0 984.7,591.6C985.5,594.1 986.2,596.7 986.7,599.3C987.3,601.9 987.8,604.5 988.1,607.2C988.4,609.8 988.6,612.4 988.5,615.1C988.5,617.7 988.2,620.3 987.8,623.0C987.4,625.6 986.8,628.2 986.1,630.7C985.4,633.3 984.5,635.8 983.6,638.3C982.6,640.7 981.5,643.2 980.4,645.6C979.2,648.0 978.0,650.3 976.7,652.6C975.3,655.0 973.9,657.2 972.5,659.5C971.0,661.7 969.5,663.9 968.0,666.1C966.4,668.3 964.9,670.4 963.3,672.6C961.7,674.8 960.1,676.9 958.6,679.1C957.0,681.2 955.4,683.4 953.9,685.6C952.4,687.8 950.9,690.0 949.3,692.1C947.8,694.3 946.2,696.5 944.6,698.6C943.0,700.8 941.4,702.9 939.8,705.0C938.1,707.1 936.5,709.2 934.8,711.3C933.1,713.4 931.4,715.5 929.7,717.5C928.0,719.6 926.3,721.6 924.6,723.7C922.9,725.7 921.1,727.8 919.4,729.8C917.7,731.8 915.9,733.8 914.1,735.8C912.3,737.8 910.5,739.8 908.7,741.8C906.9,743.8 905.1,745.7 903.3,747.7C901.5,749.7 899.7,751.6 897.8,753.5C896.0,755.5 894.1,757.4 892.2,759.3C890.3,761.2 888.4,763.1 886.5,764.9C884.6,766.8 882.7,768.7 880.8,770.5C878.8,772.4 876.9,774.2 874.9,775.9C872.9,777.7 870.9,779.5 868.9,781.3C866.8,783.0 864.8,784.8 862.8,786.5C860.7,788.2 858.7,789.9 856.6,791.6C854.5,793.2 852.4,794.8 850.2,796.3C848.0,797.9 845.7,799.3 843.4,800.6C841.1,802.0 838.8,803.2 836.4,804.4C834.0,805.5 831.5,806.6 829.1,807.5C826.6,808.4 824.0,809.2 821.5,809.9C818.9,810.5 816.3,811.1 813.7,811.6C811.0,812.1 808.4,812.5 805.8,812.9C803.1,813.3 800.5,813.7 797.8,814.1C795.2,814.4 792.5,814.7 789.9,815.0C787.2,815.3 784.5,815.5 781.9,815.8C779.2,816.0 776.6,816.2 773.9,816.4C771.2,816.6 768.6,816.7 765.9,816.8C763.2,817.0 760.5,817.1 757.9,817.2C755.2,817.3 752.5,817.4 749.9,817.4C747.2,817.5 744.5,817.6 741.8,817.7C739.2,817.7 736.5,817.8 733.8,817.8C731.1,817.9 728.5,817.9 725.8,817.9C723.1,818.0 720.4,818.0 717.8,818.0C715.1,818.0 712.4,818.0 709.8,818.0C707.1,818.0 704.4,818.0 701.7,818.0C699.1,817.9 696.4,817.9 693.7,817.9C691.0,817.8 688.4,817.8 685.7,817.7C683.0,817.7 680.3,817.6 677.7,817.5C675.0,817.5 672.3,817.4 669.7,817.2C667.0,817.1 664.3,816.9 661.7,816.8C659.0,816.6 656.3,816.4 653.7,816.2C651.0,816.0 648.3,815.8 645.7,815.5C643.0,815.3 640.3,815.0 637.7,814.7C635.0,814.4 632.4,814.1 629.7,813.8C627.1,813.5 624.4,813.2 621.7,812.9C619.1,812.6 616.4,812.2 613.8,811.9C611.1,811.5 608.5,811.2 605.8,810.8C603.2,810.4 600.6,810.0 598.0,809.4C595.3,808.9 592.8,808.3 590.2,807.6C587.6,806.9 585.0,806.2 582.5,805.4C579.9,804.6 577.4,803.7 574.9,802.8C572.4,801.9 569.9,800.9 567.5,799.8C565.0,798.8 562.6,797.7 560.2,796.5C557.8,795.4 555.4,794.2 553.0,792.9C550.7,791.6 548.4,790.2 546.2,788.8C543.9,787.4 541.7,785.9 539.5,784.4C537.3,782.9 535.1,781.3 533.0,779.7C530.8,778.1 528.8,776.5 526.7,774.8C524.6,773.1 522.6,771.3 520.6,769.5C518.7,767.7 516.7,765.9 514.8,764.1C512.9,762.2 511.0,760.3 509.2,758.3C507.5,756.3 505.7,754.3 504.1,752.2C502.4,750.1 500.7,748.0 499.2,745.9C497.6,743.7 496.1,741.5 494.6,739.3C493.2,737.1 491.8,734.8 490.5,732.4C489.2,730.1 487.9,727.8 486.8,725.4C485.6,723.0 484.4,720.6 483.4,718.1C482.3,715.7 481.3,713.2 480.4,710.7C479.5,708.2 478.6,705.7 477.9,703.1C477.1,700.6 476.4,698.0 475.7,695.4C475.0,692.8 474.5,690.2 473.9,687.6C473.4,685.0 472.9,682.4 472.4,679.7C471.9,677.1 471.4,674.5 471.0,671.8C470.6,669.2 470.1,666.6 469.8,663.9C469.4,661.3 469.1,658.6 468.8,656.0C468.5,653.3 468.2,650.6 468.0,648.0C467.8,645.3 467.7,642.7 467.7,640.0Z" fill="#fedf88"/>
<path d="M500.4,640.0C500.4,637.3 500.6,634.7 500.8,632.0C501.0,629.3 501.3,626.7 501.8,624.0C502.2,621.4 502.7,618.8 503.3,616.2C504.0,613.6 504.7,611.0 505.5,608.5C506.4,606.0 507.3,603.4 508.3,601.0C509.4,598.5 510.6,596.2 511.8,593.8C513.1,591.4 514.4,589.1 515.9,586.9C517.3,584.6 518.8,582.4 520.4,580.2C521.9,578.1 523.6,576.0 525.3,573.9C527.0,571.9 528.8,569.8 530.6,567.9C532.5,566.0 534.4,564.2 536.4,562.4C538.4,560.6 540.4,558.8 542.4,557.1C544.5,555.3 546.5,553.6 548.6,551.9C550.7,550.2 552.8,548.5 554.9,546.9C557.0,545.2 559.1,543.5 561.1,541.8C563.2,540.1 565.3,538.5 567.4,536.8C569.5,535.1 571.5,533.4 573.6,531.6C575.6,529.9 577.6,528.1 579.5,526.2C581.5,524.4 583.4,522.5 585.3,520.6C587.1,518.7 589.0,516.8 590.9,514.8C592.7,512.9 594.5,510.9 596.3,508.9C598.1,507.0 599.9,505.0 601.8,503.0C603.6,501.1 605.4,499.1 607.3,497.2C609.2,495.3 611.1,493.4 613.0,491.6C615.0,489.7 617.0,488.0 619.1,486.3C621.1,484.6 623.2,482.9 625.4,481.4C627.6,479.8 629.8,478.3 632.1,477.0C634.4,475.6 636.7,474.4 639.2,473.4C641.6,472.4 644.2,471.7 646.7,471.1C649.3,470.4 652.0,470.0 654.6,469.6C657.2,469.2 659.9,468.8 662.6,468.5C665.2,468.3 667.9,468.1 670.6,467.9C673.2,467.7 675.9,467.6 678.6,467.5C681.3,467.4 684.0,467.3 686.6,467.3C689.3,467.3 692.0,467.3 694.7,467.4C697.3,467.5 700.0,467.6 702.7,467.7C705.4,467.8 708.1,468.0 710.7,468.1C713.4,468.3 716.1,468.4 718.8,468.6C721.4,468.8 724.1,468.9 726.8,469.1C729.5,469.3 732.1,469.5 734.8,469.8C737.4,470.1 740.1,470.4 742.7,470.8C745.4,471.3 748.0,471.8 750.6,472.3C753.3,472.9 755.9,473.4 758.5,474.0C761.1,474.6 763.7,475.1 766.4,475.7C769.0,476.2 771.6,476.7 774.3,477.2C776.9,477.7 779.5,478.2 782.2,478.7C784.8,479.2 787.4,479.7 790.1,480.2C792.7,480.7 795.3,481.3 797.9,481.9C800.5,482.5 803.1,483.2 805.7,484.0C808.2,484.8 810.8,485.6 813.3,486.4C815.9,487.3 818.4,488.1 820.9,489.0C823.5,489.9 826.0,490.7 828.5,491.7C831.0,492.6 833.5,493.6 836.0,494.7C838.5,495.7 840.9,496.7 843.4,497.8C845.8,498.9 848.3,499.9 850.7,501.0C853.2,502.1 855.6,503.2 858.0,504.5C860.4,505.7 862.7,507.0 865.0,508.4C867.3,509.7 869.6,511.2 871.8,512.6C874.1,514.0 876.4,515.5 878.6,517.0C880.8,518.5 883.0,520.0 885.1,521.6C887.3,523.2 889.4,524.9 891.4,526.6C893.5,528.3 895.5,530.1 897.5,531.8C899.5,533.6 901.5,535.4 903.3,537.3C905.1,539.3 906.8,541.3 908.4,543.4C910.0,545.5 911.4,547.8 912.8,550.1C914.2,552.3 915.5,554.7 916.7,557.1C917.9,559.5 919.0,561.9 920.1,564.3C921.1,566.8 922.1,569.3 922.9,571.8C923.8,574.3 924.5,576.9 925.1,579.5C925.7,582.1 926.1,584.7 926.4,587.4C926.7,590.0 926.9,592.7 927.0,595.4C927.1,598.0 927.0,600.7 926.8,603.4C926.6,606.0 926.3,608.7 925.9,611.3C925.4,613.9 924.8,616.5 924.1,619.1C923.4,621.7 922.6,624.2 921.6,626.7C920.7,629.2 919.6,631.7 918.5,634.1C917.4,636.5 916.2,638.9 914.9,641.3C913.6,643.6 912.3,645.9 910.9,648.2C909.5,650.5 908.1,652.8 906.6,655.0C905.1,657.2 903.6,659.4 902.0,661.6C900.5,663.8 898.9,665.9 897.2,668.1C895.6,670.2 894.0,672.3 892.3,674.4C890.6,676.5 888.9,678.6 887.2,680.6C885.4,682.7 883.6,684.6 881.8,686.6C880.0,688.6 878.2,690.5 876.3,692.4C874.4,694.3 872.5,696.2 870.6,698.1C868.6,699.9 866.7,701.8 864.7,703.5C862.7,705.3 860.6,707.0 858.5,708.7C856.4,710.4 854.2,711.9 852.1,713.5C849.9,715.0 847.7,716.5 845.4,718.0C843.2,719.5 841.0,721.0 838.8,722.5C836.6,724.0 834.3,725.5 832.1,727.1C829.9,728.6 827.7,730.1 825.6,731.7C823.4,733.3 821.3,735.0 819.2,736.6C817.1,738.3 815.0,739.9 812.9,741.6C810.8,743.2 808.7,744.9 806.5,746.5C804.4,748.1 802.2,749.7 800.0,751.2C797.8,752.7 795.5,754.1 793.3,755.6C791.0,757.0 788.7,758.4 786.4,759.7C784.1,761.1 781.8,762.5 779.5,763.8C777.1,765.2 774.8,766.5 772.4,767.7C770.1,769.0 767.7,770.2 765.3,771.4C762.9,772.5 760.4,773.6 757.9,774.6C755.4,775.6 752.9,776.5 750.4,777.3C747.8,778.2 745.3,779.0 742.7,779.8C740.2,780.6 737.6,781.3 735.0,782.0C732.4,782.6 729.8,783.2 727.2,783.8C724.5,784.4 721.9,784.9 719.3,785.3C716.6,785.8 714.0,786.2 711.3,786.7C708.7,787.1 706.1,787.5 703.4,787.9C700.7,788.3 698.1,788.7 695.4,789.0C692.8,789.3 690.1,789.5 687.4,789.7C684.8,790.0 682.1,790.1 679.4,790.3C676.7,790.4 674.1,790.6 671.4,790.6C668.7,790.7 666.0,790.6 663.4,790.6C660.7,790.5 658.0,790.4 655.3,790.2C652.7,790.0 650.0,789.8 647.3,789.6C644.7,789.3 642.0,788.9 639.4,788.5C636.7,788.1 634.1,787.5 631.5,787.0C628.9,786.4 626.3,785.8 623.7,785.2C621.0,784.6 618.4,784.0 615.8,783.3C613.2,782.7 610.6,782.0 608.1,781.3C605.5,780.6 602.9,779.9 600.3,779.1C597.8,778.4 595.2,777.5 592.7,776.7C590.2,775.8 587.7,774.8 585.2,773.8C582.7,772.8 580.2,771.7 577.8,770.6C575.4,769.5 573.0,768.3 570.6,767.0C568.3,765.8 566.0,764.4 563.7,763.0C561.5,761.5 559.2,760.1 557.0,758.6C554.8,757.0 552.7,755.5 550.6,753.8C548.5,752.1 546.6,750.3 544.7,748.4C542.7,746.6 540.8,744.7 539.0,742.7C537.1,740.8 535.3,738.8 533.6,736.8C531.9,734.7 530.3,732.6 528.8,730.4C527.2,728.2 525.7,726.0 524.2,723.8C522.7,721.5 521.3,719.3 520.0,717.0C518.6,714.6 517.4,712.3 516.2,709.9C515.0,707.5 513.8,705.1 512.8,702.6C511.7,700.2 510.7,697.7 509.8,695.2C508.9,692.7 508.1,690.1 507.3,687.5C506.6,685.0 505.9,682.4 505.3,679.8C504.6,677.2 504.1,674.6 503.6,671.9C503.1,669.3 502.7,666.6 502.3,664.0C502.0,661.3 501.6,658.7 501.3,656.0C501.1,653.4 500.8,650.7 500.7,648.0C500.5,645.3 500.4,642.7 500.4,640.0Z" fill="#fec966"/>
<path d="M528.8,639.8C528.5,637.6 528.5,635.3 528.6,633.0C528.7,630.7 529.0,628.4 529.4,626.1C529.8,623.9 530.3,621.6 530.9,619.3C531.5,617.1 532.2,614.9 533.0,612.7C533.8,610.5 534.7,608.3 535.7,606.2C536.6,604.1 537.7,602.0 538.8,600.0C539.9,598.0 541.1,596.0 542.4,594.0C543.7,592.1 545.0,590.1 546.4,588.3C547.8,586.4 549.3,584.6 550.8,582.9C552.3,581.1 554.0,579.4 555.6,577.8C557.2,576.1 558.9,574.5 560.7,572.9C562.4,571.3 564.1,569.8 565.9,568.3C567.7,566.8 569.5,565.3 571.3,563.8C573.1,562.3 574.9,560.8 576.7,559.3C578.5,557.8 580.3,556.3 582.0,554.7C583.8,553.2 585.5,551.6 587.3,550.0C589.0,548.5 590.7,546.8 592.3,545.2C593.9,543.5 595.5,541.8 597.1,540.1C598.7,538.4 600.2,536.6 601.8,534.8C603.3,533.1 604.8,531.3 606.3,529.5C607.8,527.7 609.3,525.8 610.7,524.0C612.2,522.2 613.7,520.4 615.2,518.6C616.7,516.8 618.2,515.0 619.7,513.2C621.2,511.5 622.8,509.7 624.4,508.0C626.0,506.4 627.7,504.7 629.4,503.2C631.1,501.6 632.9,500.1 634.8,498.7C636.6,497.3 638.6,496.0 640.5,494.7C642.5,493.4 644.4,492.2 646.5,491.0C648.5,489.9 650.6,488.8 652.7,487.9C654.8,486.9 656.9,486.0 659.1,485.2C661.3,484.4 663.5,483.7 665.8,483.1C668.0,482.5 670.3,482.0 672.6,481.5C674.9,481.1 677.2,480.8 679.5,480.5C681.8,480.3 684.1,480.1 686.5,480.0C688.8,479.8 691.2,479.7 693.5,479.7C695.8,479.6 698.2,479.6 700.5,479.6C702.8,479.5 705.2,479.6 707.5,479.6C709.9,479.7 712.2,479.7 714.5,479.8C716.9,479.9 719.2,480.0 721.6,480.1C723.9,480.2 726.2,480.3 728.6,480.5C730.9,480.6 733.2,480.8 735.6,481.0C737.9,481.3 740.2,481.5 742.5,481.9C744.8,482.2 747.1,482.6 749.4,483.1C751.7,483.5 754.0,484.0 756.3,484.5C758.5,485.1 760.8,485.6 763.1,486.3C765.3,486.9 767.5,487.6 769.7,488.4C772.0,489.1 774.1,489.9 776.3,490.7C778.5,491.6 780.7,492.4 782.9,493.3C785.0,494.2 787.2,495.1 789.3,496.0C791.5,496.9 793.6,497.9 795.8,498.8C797.9,499.8 800.0,500.8 802.2,501.7C804.3,502.6 806.5,503.5 808.6,504.4C810.8,505.3 813.0,506.2 815.1,507.2C817.3,508.1 819.4,509.0 821.5,510.0C823.6,511.0 825.8,512.0 827.8,513.0C829.9,514.1 832.0,515.2 834.0,516.3C836.1,517.4 838.1,518.6 840.1,519.9C842.0,521.1 844.0,522.4 845.8,523.8C847.7,525.2 849.6,526.6 851.3,528.1C853.1,529.6 854.9,531.2 856.5,532.8C858.2,534.5 859.8,536.2 861.3,537.9C862.8,539.7 864.2,541.5 865.6,543.4C867.0,545.3 868.3,547.2 869.6,549.2C870.8,551.1 872.0,553.1 873.2,555.2C874.4,557.2 875.5,559.2 876.6,561.3C877.7,563.3 878.8,565.4 879.8,567.5C880.7,569.7 881.7,571.8 882.5,574.0C883.4,576.1 884.1,578.3 884.8,580.6C885.4,582.8 886.0,585.1 886.4,587.3C886.9,589.6 887.2,591.9 887.4,594.2C887.6,596.5 887.7,598.8 887.7,601.1C887.6,603.5 887.4,605.8 887.1,608.0C886.8,610.3 886.3,612.6 885.7,614.8C885.1,617.0 884.3,619.3 883.5,621.4C882.6,623.6 881.7,625.7 880.6,627.8C879.6,629.8 878.5,631.9 877.2,633.9C876.0,635.8 874.7,637.8 873.4,639.7C872.0,641.6 870.6,643.4 869.1,645.3C867.7,647.1 866.2,648.9 864.6,650.6C863.1,652.4 861.5,654.1 859.9,655.8C858.3,657.5 856.6,659.1 854.9,660.7C853.2,662.3 851.5,663.9 849.7,665.5C848.0,667.0 846.2,668.5 844.4,670.0C842.6,671.5 840.7,672.9 838.9,674.3C837.0,675.7 835.1,677.0 833.2,678.4C831.3,679.7 829.3,681.1 827.4,682.4C825.5,683.8 823.6,685.1 821.7,686.5C819.8,687.8 817.8,689.1 815.9,690.4C813.9,691.7 812.0,693.0 810.0,694.2C808.0,695.5 806.0,696.7 804.0,697.9C802.0,699.1 800.0,700.3 798.0,701.5C796.0,702.7 794.0,703.9 792.0,705.2C790.0,706.4 788.0,707.6 786.0,708.9C784.0,710.1 782.1,711.4 780.1,712.7C778.2,714.0 776.3,715.3 774.4,716.7C772.4,718.0 770.6,719.4 768.7,720.8C766.8,722.2 765.0,723.7 763.1,725.1C761.3,726.6 759.5,728.1 757.7,729.5C755.9,731.0 754.1,732.5 752.2,734.0C750.4,735.4 748.6,736.9 746.7,738.3C744.8,739.7 742.9,741.0 741.0,742.3C739.1,743.6 737.1,744.9 735.1,746.0C733.0,747.2 731.0,748.3 728.9,749.4C726.8,750.4 724.7,751.3 722.5,752.2C720.4,753.1 718.2,753.9 716.0,754.7C713.7,755.4 711.5,756.1 709.3,756.7C707.0,757.3 704.7,757.9 702.5,758.4C700.2,759.0 697.9,759.5 695.6,760.0C693.3,760.5 691.0,761.0 688.7,761.4C686.4,761.9 684.1,762.3 681.8,762.7C679.5,763.1 677.2,763.4 674.9,763.7C672.6,763.9 670.3,764.2 667.9,764.3C665.6,764.5 663.3,764.6 660.9,764.6C658.6,764.6 656.3,764.6 653.9,764.5C651.6,764.4 649.3,764.2 647.0,763.9C644.6,763.7 642.3,763.3 640.0,762.9C637.7,762.5 635.5,762.0 633.2,761.5C630.9,760.9 628.7,760.2 626.5,759.5C624.3,758.7 622.1,757.9 620.0,757.0C617.8,756.1 615.7,755.1 613.7,754.0C611.6,752.9 609.6,751.7 607.6,750.5C605.6,749.3 603.7,748.0 601.7,746.8C599.7,745.5 597.8,744.2 595.9,742.8C593.9,741.5 592.0,740.2 590.1,738.8C588.2,737.4 586.4,736.0 584.6,734.6C582.7,733.1 580.9,731.6 579.2,730.1C577.4,728.5 575.7,726.9 574.1,725.3C572.4,723.6 570.8,721.9 569.3,720.2C567.7,718.5 566.2,716.7 564.7,714.9C563.3,713.1 561.8,711.2 560.4,709.3C559.0,707.5 557.7,705.6 556.4,703.6C555.0,701.7 553.7,699.7 552.5,697.8C551.3,695.8 550.1,693.8 548.9,691.7C547.8,689.7 546.7,687.6 545.6,685.6C544.6,683.5 543.6,681.4 542.6,679.2C541.6,677.1 540.7,674.9 539.8,672.8C539.0,670.6 538.1,668.4 537.3,666.2C536.5,664.1 535.7,661.9 534.9,659.7C534.1,657.5 533.2,655.3 532.4,653.1C531.7,650.9 530.8,648.7 530.2,646.5C529.6,644.3 529.0,642.1 528.8,639.8Z" fill="#feb04e"/>
<path d="M553.2,640.0C553.2,638.0 553.3,636.0 553.5,634.1C553.7,632.1 554.1,630.1 554.5,628.2C554.8,626.2 555.3,624.3 555.9,622.4C556.4,620.5 557.1,618.6 557.8,616.7C558.5,614.8 559.3,613.0 560.1,611.2C561.0,609.4 561.9,607.6 562.9,605.9C563.9,604.2 565.0,602.5 566.1,600.8C567.2,599.2 568.4,597.6 569.6,596.0C570.8,594.4 572.1,592.9 573.4,591.3C574.7,589.8 576.1,588.3 577.4,586.9C578.8,585.5 580.3,584.1 581.7,582.7C583.2,581.3 584.6,579.9 586.1,578.6C587.6,577.2 589.1,575.8 590.5,574.5C592.0,573.1 593.4,571.7 594.9,570.3C596.3,568.9 597.7,567.4 599.1,566.0C600.5,564.5 601.8,563.1 603.2,561.6C604.5,560.1 605.8,558.5 607.1,557.0C608.3,555.4 609.6,553.9 610.8,552.3C612.0,550.7 613.2,549.1 614.4,547.4C615.6,545.8 616.7,544.2 617.9,542.5C619.0,540.8 620.1,539.2 621.2,537.5C622.3,535.8 623.4,534.1 624.5,532.5C625.6,530.8 626.7,529.1 627.8,527.4C628.9,525.7 630.0,524.0 631.2,522.4C632.3,520.8 633.5,519.2 634.8,517.6C636.0,516.1 637.3,514.6 638.7,513.1C640.1,511.7 641.5,510.3 643.0,509.1C644.6,507.8 646.1,506.6 647.8,505.4C649.4,504.3 651.1,503.2 652.8,502.3C654.5,501.3 656.3,500.4 658.1,499.6C659.9,498.8 661.8,498.1 663.7,497.4C665.6,496.7 667.5,496.1 669.4,495.6C671.3,495.0 673.3,494.6 675.2,494.2C677.2,493.8 679.1,493.4 681.1,493.2C683.1,492.9 685.1,492.7 687.1,492.5C689.1,492.3 691.1,492.1 693.1,492.0C695.1,491.9 697.1,491.8 699.1,491.7C701.1,491.7 703.1,491.7 705.1,491.7C707.1,491.7 709.1,491.8 711.1,491.9C713.2,492.0 715.2,492.1 717.2,492.2C719.2,492.3 721.2,492.5 723.2,492.7C725.2,492.8 727.2,493.0 729.2,493.3C731.1,493.5 733.1,493.8 735.1,494.1C737.1,494.5 739.1,494.8 741.0,495.2C743.0,495.6 744.9,496.1 746.9,496.6C748.8,497.1 750.7,497.6 752.6,498.2C754.6,498.9 756.4,499.5 758.3,500.2C760.2,500.9 762.1,501.7 763.9,502.5C765.7,503.3 767.6,504.1 769.3,505.0C771.1,505.9 772.9,506.8 774.6,507.9C776.3,508.9 778.0,510.0 779.6,511.1C781.2,512.3 782.8,513.5 784.4,514.7C786.0,516.0 787.5,517.2 789.1,518.5C790.6,519.9 792.0,521.2 793.5,522.6C794.9,524.0 796.3,525.4 797.7,526.9C799.1,528.3 800.5,529.8 801.8,531.3C803.2,532.8 804.5,534.2 805.9,535.7C807.2,537.3 808.5,538.8 809.8,540.3C811.2,541.8 812.5,543.3 813.7,544.9C815.0,546.4 816.3,548.0 817.5,549.6C818.7,551.2 819.9,552.8 821.0,554.4C822.1,556.1 823.2,557.8 824.2,559.5C825.2,561.2 826.2,563.0 827.1,564.8C828.0,566.6 828.9,568.4 829.7,570.2C830.5,572.0 831.3,573.9 831.9,575.7C832.6,577.6 833.3,579.5 833.8,581.4C834.4,583.3 834.9,585.3 835.3,587.2C835.7,589.2 836.1,591.1 836.3,593.1C836.6,595.1 836.8,597.1 836.9,599.1C836.9,601.1 836.9,603.1 836.8,605.0C836.7,607.0 836.5,609.0 836.2,611.0C835.9,612.9 835.5,614.9 835.0,616.8C834.5,618.7 833.9,620.6 833.2,622.5C832.6,624.4 831.8,626.2 831.0,628.1C830.2,629.9 829.3,631.7 828.3,633.4C827.4,635.2 826.3,636.9 825.3,638.6C824.2,640.3 823.1,641.9 821.9,643.5C820.7,645.2 819.5,646.8 818.3,648.3C817.0,649.9 815.8,651.5 814.5,653.0C813.1,654.5 811.8,656.0 810.4,657.4C809.0,658.9 807.6,660.3 806.2,661.7C804.8,663.1 803.3,664.5 801.9,665.9C800.4,667.3 798.9,668.6 797.4,669.9C795.8,671.2 794.3,672.5 792.7,673.7C791.2,675.0 789.6,676.2 788.0,677.4C786.4,678.6 784.7,679.8 783.1,681.0C781.4,682.1 779.8,683.2 778.1,684.3C776.4,685.3 774.7,686.4 772.9,687.4C771.2,688.4 769.4,689.4 767.7,690.4C765.9,691.3 764.2,692.3 762.4,693.2C760.6,694.2 758.9,695.2 757.1,696.2C755.4,697.2 753.7,698.2 752.0,699.2C750.2,700.3 748.5,701.4 746.9,702.4C745.2,703.5 743.5,704.6 741.8,705.8C740.1,706.9 738.5,708.0 736.8,709.1C735.1,710.2 733.5,711.3 731.8,712.4C730.1,713.5 728.4,714.6 726.7,715.7C725.1,716.8 723.4,717.9 721.7,719.0C720.0,720.1 718.3,721.2 716.6,722.3C714.9,723.3 713.2,724.4 711.5,725.4C709.8,726.4 708.0,727.3 706.2,728.2C704.4,729.1 702.6,729.9 700.8,730.7C698.9,731.5 697.0,732.2 695.2,732.9C693.3,733.6 691.4,734.3 689.5,734.9C687.6,735.5 685.7,736.1 683.7,736.7C681.8,737.2 679.9,737.7 677.9,738.1C675.9,738.5 674.0,738.9 672.0,739.2C670.0,739.6 668.0,739.8 666.0,740.0C664.1,740.2 662.1,740.4 660.1,740.5C658.1,740.6 656.1,740.6 654.1,740.6C652.0,740.6 650.0,740.6 648.0,740.5C646.0,740.4 644.0,740.3 642.0,740.0C640.1,739.8 638.1,739.6 636.1,739.3C634.1,738.9 632.2,738.6 630.2,738.1C628.3,737.6 626.4,737.1 624.5,736.5C622.6,735.8 620.8,735.1 619.0,734.3C617.2,733.4 615.4,732.5 613.7,731.5C611.9,730.5 610.3,729.5 608.6,728.3C607.0,727.2 605.4,726.0 603.8,724.8C602.2,723.5 600.7,722.2 599.2,720.9C597.6,719.6 596.1,718.3 594.7,716.9C593.2,715.6 591.7,714.2 590.2,712.8C588.8,711.4 587.4,710.0 585.9,708.6C584.5,707.2 583.1,705.7 581.7,704.3C580.4,702.8 579.0,701.3 577.7,699.8C576.4,698.3 575.1,696.8 573.8,695.2C572.6,693.7 571.4,692.1 570.2,690.4C569.1,688.8 568.0,687.1 566.9,685.4C565.9,683.7 564.9,682.0 564.0,680.2C563.1,678.4 562.2,676.6 561.5,674.8C560.7,672.9 560.0,671.1 559.3,669.2C558.6,667.3 558.0,665.4 557.4,663.5C556.8,661.6 556.3,659.6 555.8,657.7C555.3,655.7 554.8,653.8 554.4,651.8C554.0,649.9 553.7,647.9 553.5,645.9C553.3,644.0 553.1,642.0 553.2,640.0Z" fill="#fd9b41"/>
<path d="M580.1,635.9C579.8,633.9 579.6,632.0 579.5,630.0C579.4,628.0 579.4,626.0 579.6,624.1C579.8,622.1 580.1,620.2 580.6,618.3C581.1,616.5 581.8,614.7 582.7,612.9C583.5,611.2 584.6,609.6 585.8,608.0C586.9,606.4 588.2,604.9 589.5,603.4C590.8,601.9 592.2,600.4 593.6,599.0C595.0,597.5 596.4,596.1 597.8,594.7C599.2,593.3 600.6,591.9 602.1,590.4C603.5,589.0 604.9,587.6 606.3,586.2C607.7,584.8 609.1,583.3 610.5,581.9C611.9,580.4 613.2,578.9 614.5,577.4C615.8,575.9 617.1,574.4 618.3,572.8C619.5,571.2 620.7,569.6 621.8,567.9C622.9,566.3 624.0,564.6 625.0,562.8C626.0,561.1 626.9,559.4 627.8,557.6C628.8,555.8 629.6,554.0 630.4,552.2C631.2,550.3 632.0,548.5 632.8,546.6C633.5,544.8 634.3,542.9 635.0,541.1C635.8,539.2 636.6,537.4 637.5,535.6C638.4,533.9 639.4,532.1 640.4,530.4C641.5,528.8 642.7,527.1 643.9,525.6C645.1,524.1 646.5,522.6 647.9,521.2C649.3,519.9 650.8,518.6 652.4,517.4C654.0,516.2 655.6,515.1 657.3,514.1C659.0,513.1 660.8,512.2 662.6,511.4C664.4,510.6 666.3,509.8 668.1,509.2C670.0,508.5 671.9,507.9 673.9,507.4C675.8,506.9 677.7,506.5 679.7,506.2C681.7,505.8 683.6,505.6 685.6,505.4C687.6,505.2 689.6,505.1 691.6,505.0C693.6,504.9 695.6,504.9 697.6,504.8C699.6,504.8 701.6,504.8 703.6,504.9C705.6,504.9 707.6,505.0 709.6,505.1C711.6,505.3 713.6,505.4 715.6,505.6C717.6,505.8 719.6,506.0 721.6,506.2C723.6,506.4 725.6,506.7 727.5,507.0C729.5,507.3 731.5,507.6 733.4,508.0C735.4,508.3 737.4,508.7 739.2,509.3C741.1,509.8 743.0,510.5 744.7,511.3C746.5,512.1 748.1,513.2 749.7,514.3C751.3,515.5 752.7,516.8 754.1,518.2C755.5,519.6 756.8,521.1 758.1,522.6C759.4,524.2 760.5,525.8 761.7,527.4C762.8,529.0 763.9,530.7 765.0,532.4C766.1,534.1 767.1,535.8 768.1,537.5C769.2,539.2 770.2,540.9 771.3,542.6C772.4,544.3 773.6,545.9 774.8,547.5C775.9,549.1 777.2,550.7 778.4,552.3C779.6,553.9 780.9,555.4 782.1,557.0C783.3,558.6 784.5,560.2 785.7,561.9C786.8,563.5 788.0,565.1 789.1,566.8C790.2,568.5 791.2,570.2 792.1,571.9C793.1,573.7 793.9,575.5 794.7,577.3C795.5,579.1 796.2,581.0 796.9,582.9C797.5,584.7 798.2,586.6 798.7,588.6C799.2,590.5 799.6,592.4 800.0,594.4C800.4,596.4 800.6,598.3 800.8,600.3C801.0,602.3 801.1,604.3 801.1,606.3C801.1,608.3 801.0,610.3 800.8,612.2C800.7,614.2 800.4,616.2 800.1,618.1C799.7,620.1 799.3,622.0 798.7,624.0C798.2,625.9 797.6,627.8 796.9,629.6C796.2,631.5 795.5,633.3 794.6,635.1C793.7,636.9 792.7,638.6 791.7,640.3C790.7,642.0 789.5,643.7 788.4,645.3C787.2,646.9 786.0,648.4 784.7,649.9C783.3,651.4 782.0,652.9 780.5,654.3C779.1,655.7 777.6,657.0 776.1,658.3C774.6,659.7 773.1,660.9 771.5,662.2C770.0,663.4 768.4,664.6 766.8,665.9C765.2,667.1 763.6,668.2 762.0,669.4C760.4,670.7 758.8,671.9 757.2,673.1C755.6,674.3 754.0,675.5 752.4,676.7C750.8,677.9 749.2,679.1 747.6,680.3C746.0,681.5 744.3,682.7 742.7,683.8C741.0,684.9 739.4,686.1 737.7,687.2C736.0,688.3 734.4,689.4 732.7,690.5C731.0,691.5 729.3,692.6 727.6,693.6C725.8,694.6 724.1,695.6 722.3,696.6C720.6,697.5 718.8,698.4 717.0,699.3C715.2,700.2 713.4,701.1 711.6,701.9C709.8,702.7 707.9,703.6 706.1,704.3C704.2,705.1 702.4,705.9 700.5,706.6C698.7,707.4 696.8,708.1 694.9,708.8C693.0,709.4 691.1,710.1 689.2,710.7C687.3,711.3 685.4,711.9 683.5,712.5C681.6,713.0 679.6,713.5 677.7,713.9C675.7,714.4 673.8,714.8 671.8,715.1C669.8,715.4 667.8,715.7 665.9,715.8C663.9,716.0 661.9,716.1 659.9,716.2C657.9,716.2 655.9,716.2 653.9,716.2C651.9,716.1 649.9,716.0 647.9,715.8C645.9,715.5 643.9,715.3 642.0,715.0C640.0,714.6 638.1,714.2 636.1,713.8C634.2,713.3 632.3,712.7 630.4,712.0C628.5,711.4 626.7,710.7 624.9,709.9C623.0,709.0 621.3,708.2 619.5,707.2C617.8,706.2 616.1,705.1 614.5,704.0C612.9,702.8 611.4,701.6 609.9,700.2C608.5,698.9 607.1,697.5 605.8,696.0C604.5,694.5 603.2,692.9 602.1,691.3C600.9,689.7 599.8,688.0 598.8,686.3C597.8,684.6 596.8,682.9 595.9,681.1C594.9,679.3 594.0,677.5 593.2,675.7C592.3,673.9 591.5,672.1 590.7,670.2C590.0,668.4 589.2,666.5 588.5,664.7C587.8,662.8 587.1,660.9 586.5,659.0C585.8,657.1 585.2,655.2 584.6,653.3C584.0,651.4 583.4,649.5 582.9,647.5C582.3,645.6 581.8,643.7 581.3,641.8C580.8,639.8 580.4,637.9 580.1,635.9Z" fill="#fd7a37"/>
<path d="M605.3,619.0C605.2,620.0 605.1,621.0 605.1,622.0C605.0,623.0 604.9,624.0 604.9,625.0C604.8,626.0 604.8,627.0 604.8,628.0C604.7,629.0 604.7,630.0 604.8,631.0C604.8,632.0 604.9,632.9 605.0,633.9C605.2,634.9 605.3,635.9 605.5,636.9C605.7,637.9 605.9,638.9 606.1,639.8C606.2,640.8 606.4,641.8 606.7,642.8C606.9,643.8 607.1,644.7 607.4,645.7C607.7,646.6 608.0,647.6 608.3,648.5C608.7,649.4 609.1,650.4 609.5,651.3C609.9,652.2 610.3,653.1 610.7,654.0C611.2,654.9 611.6,655.8 612.1,656.7C612.5,657.6 613.0,658.5 613.5,659.3C614.0,660.2 614.5,661.1 615.0,661.9C615.6,662.7 616.1,663.5 616.8,664.2C617.4,665.0 618.1,665.7 618.8,666.4C619.5,667.1 620.2,667.8 621.0,668.5C621.7,669.1 622.5,669.8 623.2,670.4C624.0,671.1 624.7,671.7 625.5,672.4C626.3,673.0 627.1,673.6 627.9,674.1C628.7,674.7 629.6,675.2 630.4,675.7C631.3,676.2 632.2,676.6 633.1,677.1C634.0,677.5 634.9,677.9 635.8,678.4C636.7,678.8 637.6,679.2 638.6,679.6C639.5,680.0 640.4,680.4 641.3,680.7C642.3,681.1 643.2,681.4 644.1,681.7C645.1,682.0 646.1,682.3 647.0,682.5C648.0,682.7 649.0,682.9 650.0,683.1C650.9,683.2 651.9,683.4 652.9,683.5C653.9,683.7 654.9,683.8 655.9,683.9C656.9,684.0 657.9,684.1 658.9,684.1C659.9,684.1 660.8,684.1 661.8,684.1C662.8,684.0 663.8,683.9 664.8,683.7C665.8,683.6 666.8,683.4 667.7,683.2C668.7,683.0 669.7,682.8 670.7,682.6C671.7,682.4 672.6,682.2 673.6,682.0C674.6,681.7 675.5,681.5 676.5,681.2C677.5,680.9 678.4,680.6 679.4,680.3C680.3,679.9 681.2,679.6 682.2,679.2C683.1,678.8 684.0,678.5 685.0,678.1C685.9,677.7 686.8,677.4 687.8,677.0C688.7,676.7 689.6,676.3 690.6,676.0C691.5,675.7 692.5,675.4 693.4,675.1C694.4,674.8 695.4,674.6 696.4,674.4C697.3,674.1 698.3,673.9 699.3,673.7C700.3,673.5 701.3,673.3 702.2,673.1C703.2,672.9 704.2,672.7 705.2,672.5C706.1,672.2 707.1,672.0 708.1,671.7C709.0,671.4 710.0,671.1 710.9,670.8C711.9,670.5 712.8,670.1 713.7,669.8C714.7,669.4 715.6,669.0 716.5,668.7C717.5,668.3 718.4,667.9 719.3,667.6C720.3,667.2 721.2,666.8 722.1,666.4C723.0,666.0 723.9,665.6 724.9,665.2C725.8,664.8 726.7,664.4 727.6,663.9C728.5,663.5 729.4,663.1 730.3,662.6C731.2,662.2 732.1,661.7 733.0,661.3C733.9,660.8 734.8,660.4 735.6,659.9C736.5,659.4 737.4,659.0 738.3,658.4C739.1,657.9 740.0,657.4 740.8,656.8C741.6,656.3 742.4,655.7 743.2,655.0C744.0,654.4 744.7,653.8 745.5,653.1C746.2,652.5 747.0,651.8 747.7,651.1C748.5,650.5 749.2,649.8 750.0,649.1C750.7,648.4 751.4,647.8 752.1,647.1C752.8,646.4 753.5,645.7 754.2,644.9C754.8,644.2 755.4,643.4 756.0,642.6C756.6,641.8 757.2,640.9 757.7,640.1C758.3,639.3 758.8,638.4 759.3,637.5C759.8,636.7 760.3,635.8 760.8,635.0C761.3,634.1 761.9,633.2 762.4,632.4C762.8,631.5 763.3,630.6 763.8,629.7C764.3,628.9 764.7,628.0 765.1,627.1C765.6,626.2 765.9,625.2 766.3,624.3C766.7,623.4 767.1,622.5 767.5,621.5C767.9,620.6 768.2,619.7 768.6,618.7C769.0,617.8 769.3,616.9 769.6,615.9C769.9,615.0 770.2,614.0 770.5,613.1C770.8,612.1 771.0,611.1 771.1,610.2C771.3,609.2 771.4,608.2 771.6,607.2C771.7,606.2 771.8,605.2 771.9,604.2C772.0,603.2 772.1,602.2 772.1,601.2C772.2,600.2 772.3,599.2 772.3,598.3C772.2,597.3 772.2,596.3 772.1,595.3C772.0,594.3 771.9,593.3 771.8,592.3C771.6,591.3 771.4,590.3 771.2,589.4C771.1,588.4 770.9,587.4 770.6,586.4C770.4,585.4 770.2,584.5 770.0,583.5C769.7,582.5 769.5,581.6 769.2,580.6C768.9,579.7 768.5,578.7 768.2,577.8C767.8,576.9 767.4,575.9 767.0,575.0C766.6,574.1 766.2,573.2 765.8,572.3C765.4,571.4 765.0,570.5 764.5,569.6C764.1,568.7 763.6,567.8 763.1,566.9C762.6,566.0 762.1,565.2 761.6,564.4C761.0,563.5 760.5,562.7 759.9,561.9C759.3,561.1 758.7,560.3 758.1,559.5C757.5,558.7 756.9,557.9 756.3,557.1C755.7,556.3 755.0,555.5 754.4,554.7C753.8,554.0 753.1,553.2 752.4,552.5C751.8,551.7 751.1,551.0 750.4,550.3C749.7,549.5 749.0,548.8 748.3,548.1C747.6,547.4 746.9,546.7 746.2,546.0C745.4,545.3 744.7,544.6 744.0,543.9C743.2,543.3 742.5,542.6 741.7,541.9C741.0,541.3 740.2,540.7 739.4,540.1C738.6,539.5 737.8,538.9 737.0,538.3C736.2,537.7 735.4,537.1 734.6,536.5C733.7,535.9 732.9,535.4 732.1,534.8C731.2,534.3 730.4,533.7 729.5,533.3C728.7,532.8 727.8,532.3 726.9,531.9C726.0,531.5 725.1,531.1 724.1,530.7C723.2,530.3 722.3,529.9 721.4,529.6C720.4,529.2 719.5,528.8 718.5,528.5C717.6,528.2 716.7,527.9 715.7,527.6C714.7,527.3 713.8,527.1 712.8,526.8C711.8,526.6 710.8,526.5 709.9,526.3C708.9,526.1 707.9,526.0 706.9,525.8C705.9,525.7 704.9,525.6 703.9,525.5C702.9,525.4 701.9,525.3 700.9,525.2C699.9,525.2 698.9,525.2 697.9,525.2C696.9,525.2 695.9,525.3 694.9,525.3C693.9,525.4 692.9,525.4 691.9,525.5C690.9,525.6 689.9,525.7 688.9,525.8C688.0,525.9 687.0,526.0 686.0,526.2C685.0,526.3 684.0,526.5 683.0,526.7C682.1,526.9 681.1,527.2 680.1,527.4C679.1,527.6 678.2,527.9 677.2,528.2C676.2,528.4 675.3,528.7 674.3,529.0C673.4,529.3 672.4,529.7 671.5,530.0C670.6,530.4 669.7,530.8 668.7,531.2C667.8,531.6 666.9,532.0 666.0,532.4C665.1,532.8 664.2,533.2 663.3,533.7C662.4,534.2 661.5,534.6 660.7,535.1C659.8,535.6 659.0,536.2 658.1,536.7C657.3,537.3 656.5,537.9 655.7,538.5C654.9,539.1 654.1,539.7 653.3,540.2C652.5,540.8 651.6,541.4 650.8,542.0C650.0,542.6 649.2,543.2 648.4,543.7C647.5,544.3 646.7,544.9 645.9,545.4C645.1,546.0 644.2,546.6 643.4,547.2C642.6,547.8 641.9,548.4 641.1,549.0C640.3,549.7 639.6,550.3 638.9,551.0C638.1,551.7 637.4,552.4 636.8,553.1C636.1,553.9 635.4,554.6 634.8,555.4C634.3,556.2 633.7,557.0 633.2,557.8C632.7,558.7 632.3,559.6 632.0,560.5C631.7,561.4 631.4,562.3 631.3,563.2C631.1,564.2 631.1,565.1 631.1,566.1C631.2,567.0 631.3,567.9 631.6,568.9C631.8,569.8 632.2,570.7 632.6,571.5C633.0,572.4 633.5,573.2 634.1,573.9C634.7,574.7 635.4,575.3 636.1,576.0C636.9,576.6 637.7,577.1 638.5,577.6C639.4,578.1 640.3,578.5 641.2,578.8C642.1,579.2 643.0,579.4 644.0,579.7C645.0,580.0 645.9,580.2 646.9,580.4C647.9,580.6 648.9,580.7 649.9,580.9C650.9,581.0 651.9,581.1 652.8,581.3C653.8,581.4 654.8,581.5 655.8,581.6C656.8,581.7 657.8,581.9 658.8,582.0C659.8,582.1 660.8,582.3 661.8,582.5C662.8,582.6 663.8,582.8 664.7,583.0C665.7,583.2 666.7,583.4 667.7,583.6C668.7,583.8 669.7,583.9 670.6,584.1C671.6,584.3 672.6,584.5 673.6,584.8C674.6,585.0 675.6,585.2 676.5,585.4C677.5,585.6 678.5,585.8 679.5,586.1C680.4,586.3 681.4,586.5 682.4,586.8C683.3,587.1 684.3,587.3 685.3,587.6C686.2,587.9 687.2,588.2 688.1,588.6C689.0,589.0 689.9,589.4 690.8,589.8C691.6,590.3 692.5,590.8 693.3,591.3C694.2,591.8 695.0,592.4 695.7,593.0C696.5,593.6 697.2,594.3 697.9,595.0C698.6,595.7 699.2,596.4 699.7,597.2C700.3,598.0 700.8,598.9 701.2,599.8C701.6,600.6 702.0,601.5 702.3,602.5C702.6,603.4 702.8,604.3 702.9,605.2C703.0,606.2 703.0,607.2 702.9,608.1C702.9,609.1 702.7,610.1 702.5,611.0C702.3,612.0 702.1,613.0 701.8,613.9C701.5,614.8 701.1,615.8 700.7,616.7C700.3,617.6 699.9,618.5 699.4,619.4C699.0,620.2 698.5,621.1 697.9,621.9C697.4,622.7 696.8,623.5 696.1,624.2C695.5,624.9 694.7,625.6 694.0,626.2C693.3,626.9 692.5,627.5 691.7,628.0C690.8,628.5 690.0,629.0 689.1,629.4C688.2,629.8 687.3,630.1 686.4,630.3C685.4,630.5 684.4,630.7 683.5,630.8C682.5,631.0 681.5,631.1 680.5,631.2C679.5,631.2 678.5,631.2 677.6,631.2C676.6,631.1 675.6,631.0 674.6,630.9C673.7,630.7 672.7,630.5 671.7,630.3C670.8,630.0 669.8,629.7 668.8,629.5C667.9,629.2 666.9,628.9 666.0,628.6C665.0,628.3 664.1,628.0 663.1,627.7C662.2,627.3 661.2,627.0 660.3,626.6C659.4,626.2 658.5,625.8 657.5,625.4C656.6,625.0 655.7,624.6 654.8,624.1C653.9,623.7 653.0,623.2 652.1,622.8C651.2,622.3 650.3,621.9 649.5,621.4C648.6,621.0 647.7,620.5 646.8,620.0C645.9,619.5 645.1,619.0 644.2,618.5C643.4,618.0 642.6,617.4 641.7,616.8C640.9,616.3 640.1,615.7 639.3,615.1C638.5,614.5 637.7,613.9 636.9,613.3C636.1,612.7 635.3,612.1 634.5,611.5C633.6,610.9 632.8,610.4 632.0,609.8C631.2,609.3 630.3,608.7 629.5,608.2C628.6,607.7 627.7,607.2 626.9,606.7C626.0,606.2 625.1,605.7 624.2,605.3C623.4,604.9 622.5,604.6 621.5,604.3C620.6,604.1 619.7,603.9 618.8,603.9C617.8,603.8 616.9,603.9 616.0,604.0C615.0,604.2 614.1,604.4 613.3,604.8C612.4,605.1 611.6,605.6 610.9,606.1C610.2,606.7 609.5,607.3 608.9,608.1C608.4,608.8 607.9,609.6 607.4,610.5C607.0,611.3 606.7,612.3 606.4,613.2C606.1,614.1 605.9,615.1 605.7,616.0C605.5,617.0 605.4,618.0 605.3,619.0Z" fill="#f9532d"/>
<path d="M624.5,635.0C624.6,637.4 624.9,643.0 626.9,646.2C628.9,649.4 632.5,652.1 636.5,654.2C640.5,656.4 645.8,658.1 650.9,659.0C656.0,660.0 661.6,660.2 666.9,659.8C672.3,659.4 677.6,657.8 682.9,656.6C688.3,655.4 693.6,653.8 699.0,652.6C704.3,651.4 709.9,651.0 715.0,649.4C720.1,647.8 724.9,646.0 729.4,643.0C734.0,640.1 738.8,635.8 742.2,631.8C745.7,627.8 748.1,623.5 750.3,619.0C752.4,614.4 754.3,609.4 755.1,604.6C755.9,599.7 755.9,594.9 755.1,590.1C754.3,585.3 752.4,580.2 750.3,575.7C748.1,571.2 745.4,566.9 742.2,562.9C739.0,558.9 735.0,555.2 731.0,551.7C727.0,548.1 722.5,544.4 718.2,541.7C713.9,539.1 709.7,536.9 705.4,535.6C701.1,534.3 696.8,533.4 692.6,533.9C688.3,534.4 683.5,536.8 679.7,538.5C676.0,540.3 673.1,542.5 670.1,544.5C667.2,546.4 664.8,548.1 662.1,550.1C659.4,552.1 656.5,554.3 654.1,556.5C651.7,558.6 649.3,560.7 647.7,562.9C646.1,565.0 644.5,567.4 644.5,569.3C644.5,571.2 645.6,572.5 647.7,574.1C649.8,575.7 653.6,577.8 657.3,578.9C661.0,580.0 665.9,579.7 670.1,580.5C674.4,581.3 678.9,582.6 682.9,583.7C687.0,584.8 691.0,585.3 694.2,586.9C697.4,588.5 700.2,590.7 702.2,593.3C704.2,596.0 705.8,599.5 706.2,602.9C706.6,606.4 705.5,610.7 704.6,614.2C703.6,617.6 702.3,620.8 700.6,623.8C698.8,626.7 697.1,629.9 694.2,631.8C691.2,633.7 687.0,634.7 682.9,635.0C678.9,635.3 674.4,634.2 670.1,633.4C665.9,632.6 661.6,631.0 657.3,630.2C653.0,629.4 648.5,628.9 644.5,628.6C640.5,628.3 636.3,628.1 633.3,628.6C630.2,629.1 627.5,630.7 626.1,631.8C624.6,632.9 624.3,632.6 624.5,635.0Z" fill="#e92a21"/>
<path d="M654.1,566.1C654.1,563.8 654.6,560.6 657.3,558.9C660.0,557.1 666.4,557.0 670.1,555.7C673.9,554.3 677.1,552.5 679.7,550.9C682.4,549.3 683.5,547.3 686.2,546.1C688.8,544.8 692.0,543.8 695.8,543.3C699.5,542.9 704.4,542.8 708.6,543.3C712.7,543.9 717.0,544.7 720.6,546.5C724.2,548.3 727.4,551.1 730.2,554.1C733.0,557.1 735.6,560.1 737.4,564.5C739.3,568.9 740.6,574.6 741.4,580.5C742.2,586.4 742.4,593.9 742.2,599.7C742.1,605.6 742.0,610.7 740.6,615.8C739.3,620.8 736.9,626.5 734.2,630.2C731.6,633.9 728.1,636.6 724.6,638.2C721.1,639.8 716.9,640.3 713.4,639.8C709.9,639.3 705.9,637.4 703.8,635.0C701.6,632.6 700.8,628.9 700.6,625.4C700.3,621.9 701.1,617.9 702.2,614.2C703.2,610.4 706.5,606.4 707.0,602.9C707.5,599.5 706.5,596.0 705.4,593.3C704.3,590.7 702.7,588.7 700.6,586.9C698.4,585.2 696.0,584.1 692.6,582.9C689.1,581.7 684.0,580.8 679.7,579.7C675.5,578.6 670.7,577.7 666.9,576.5C663.2,575.3 659.4,574.2 657.3,572.5C655.2,570.8 654.1,568.4 654.1,566.1Z" fill="#d0121f"/>
<path d="M700.6,556.5C702.4,555.1 708.6,555.4 711.8,556.5C715.0,557.5 717.9,560.5 719.8,562.9C721.7,565.3 723.3,568.5 723.0,570.9C722.7,573.3 720.6,576.8 718.2,577.3C715.8,577.8 711.3,574.9 708.6,574.1C705.9,573.3 703.5,574.1 702.2,572.5C700.8,570.9 700.8,567.2 700.6,564.5C700.3,561.8 698.7,557.8 700.6,556.5Z" fill="#e92a21"/>
<path d="M672.5,561.3C673.7,560.4 677.2,559.2 679.7,559.4C682.3,559.5 685.4,560.7 687.8,562.1C690.2,563.5 693.4,566.1 694.2,567.7C695.0,569.3 694.2,571.3 692.6,571.7C691.0,572.1 687.2,570.8 684.6,570.1C681.9,569.4 678.5,568.6 676.5,567.7C674.5,566.8 673.2,565.6 672.5,564.5C671.9,563.4 671.3,562.1 672.5,561.3Z" fill="#b10026"/>
<path d="M720.8,618.2C720.8,618.8 720.7,619.5 720.5,620.1C720.2,620.7 719.9,621.3 719.5,621.8C719.2,622.3 718.7,622.7 718.2,622.9C717.7,623.2 717.1,623.3 716.6,623.3C716.1,623.3 715.5,623.2 715.0,622.9C714.5,622.7 714.0,622.3 713.7,621.8C713.3,621.3 713.0,620.7 712.8,620.1C712.5,619.5 712.4,618.8 712.4,618.2C712.4,617.5 712.5,616.8 712.8,616.2C713.0,615.6 713.3,615.0 713.7,614.5C714.0,614.1 714.5,613.7 715.0,613.4C715.5,613.2 716.1,613.0 716.6,613.0C717.1,613.0 717.7,613.2 718.2,613.4C718.7,613.7 719.2,614.1 719.5,614.5C719.9,615.0 720.2,615.6 720.5,616.2C720.7,616.8 720.8,617.5 720.8,618.2Z" fill="#b10026"/>
<path d="M700.6,605.6C700.6,606.9 700.4,608.2 700.0,609.5C699.7,610.7 699.1,612.0 698.4,613.1C697.7,614.3 696.8,615.4 695.8,616.4C694.7,617.4 693.5,618.4 692.3,619.2C691.0,620.0 689.5,620.7 688.1,621.3C686.6,621.8 685.0,622.3 683.4,622.5C681.8,622.8 680.8,623.1 678.5,623.0C676.1,622.9 672.2,622.3 669.2,621.8C666.2,621.2 663.2,620.4 660.4,619.5C657.6,618.6 654.9,617.6 652.5,616.5C650.1,615.5 647.8,614.3 645.9,613.1C644.0,611.9 642.3,610.7 640.9,609.5C639.6,608.4 638.5,607.2 637.8,606.0C637.2,604.9 636.8,603.8 636.8,602.7C636.8,601.6 637.2,600.5 637.8,599.5C638.5,598.4 639.6,597.4 640.9,596.4C642.3,595.4 644.0,594.4 645.9,593.5C647.8,592.6 650.1,591.8 652.5,591.0C654.9,590.3 657.6,589.6 660.4,589.1C663.2,588.7 666.2,588.3 669.2,588.1C672.2,588.0 676.1,588.1 678.5,588.2C680.8,588.3 681.8,588.4 683.4,588.6C685.0,588.9 686.6,589.4 688.1,589.9C689.5,590.5 691.0,591.2 692.3,592.0C693.5,592.8 694.7,593.7 695.8,594.8C696.8,595.8 697.7,596.9 698.4,598.0C699.1,599.2 699.7,600.5 700.0,601.7C700.4,603.0 700.6,604.3 700.6,605.6Z" fill="#fd9b41"/>
<path d="M697.7,604.7C697.7,605.8 697.5,607.0 697.2,608.1C696.9,609.2 696.4,610.3 695.8,611.3C695.2,612.3 694.4,613.3 693.5,614.2C692.6,615.1 691.6,615.9 690.5,616.6C689.3,617.3 688.1,617.9 686.8,618.4C685.5,618.9 684.1,619.3 682.7,619.6C681.4,619.8 680.6,620.1 678.5,619.9C676.4,619.8 672.8,619.4 670.1,618.9C667.4,618.3 664.7,617.6 662.2,616.9C659.7,616.1 657.3,615.2 655.1,614.2C652.9,613.3 650.9,612.2 649.1,611.2C647.4,610.2 645.9,609.1 644.7,608.1C643.5,607.1 642.5,606.0 641.9,605.0C641.3,604.0 641.0,603.0 641.0,602.1C641.0,601.1 641.3,600.2 641.9,599.3C642.5,598.4 643.5,597.5 644.7,596.6C645.9,595.7 647.4,594.9 649.1,594.1C650.9,593.3 652.9,592.6 655.1,591.9C657.3,591.3 659.7,590.7 662.2,590.3C664.7,589.9 667.4,589.5 670.1,589.4C672.8,589.3 676.4,589.4 678.5,589.5C680.6,589.6 681.4,589.6 682.7,589.9C684.1,590.1 685.5,590.5 686.8,591.0C688.1,591.5 689.3,592.1 690.5,592.8C691.6,593.5 692.6,594.3 693.5,595.2C694.4,596.1 695.2,597.1 695.8,598.1C696.4,599.1 696.9,600.2 697.2,601.3C697.5,602.4 697.7,603.6 697.7,604.7Z" fill="#feb04e"/>
<path d="M694.8,603.8C694.8,604.7 694.7,605.7 694.4,606.7C694.1,607.6 693.7,608.6 693.2,609.5C692.7,610.3 692.0,611.2 691.2,611.9C690.5,612.7 689.6,613.4 688.7,614.0C687.7,614.6 686.6,615.2 685.6,615.6C684.5,616.0 683.3,616.3 682.1,616.6C680.9,616.8 680.3,617.0 678.5,616.9C676.7,616.8 673.6,616.4 671.3,616.0C669.0,615.5 666.7,614.9 664.6,614.3C662.4,613.6 660.3,612.8 658.5,612.0C656.6,611.2 654.9,610.3 653.4,609.4C651.9,608.5 650.6,607.6 649.6,606.7C648.6,605.8 647.7,604.9 647.2,604.0C646.7,603.2 646.4,602.3 646.4,601.5C646.4,600.7 646.7,599.9 647.2,599.1C647.7,598.3 648.6,597.5 649.6,596.8C650.6,596.0 651.9,595.3 653.4,594.6C654.9,593.9 656.6,593.3 658.5,592.7C660.3,592.2 662.4,591.7 664.6,591.3C666.7,590.9 669.0,590.7 671.3,590.5C673.6,590.4 676.7,590.5 678.5,590.6C680.3,590.7 680.9,590.7 682.1,590.9C683.3,591.2 684.5,591.5 685.6,591.9C686.6,592.3 687.7,592.9 688.7,593.5C689.6,594.1 690.5,594.8 691.2,595.6C692.0,596.3 692.7,597.2 693.2,598.0C693.7,598.9 694.1,599.9 694.4,600.8C694.7,601.8 694.8,602.8 694.8,603.8Z" fill="#fec966"/>
<path d="M691.8,603.0C691.8,603.9 691.6,604.7 691.4,605.5C691.2,606.3 690.9,607.1 690.4,607.9C690.0,608.6 689.5,609.3 688.9,610.0C688.2,610.6 687.5,611.2 686.8,611.7C686.0,612.3 685.1,612.7 684.2,613.1C683.3,613.4 682.4,613.7 681.4,613.9C680.5,614.1 679.9,614.2 678.5,614.2C677.0,614.1 674.6,613.8 672.8,613.4C670.9,613.0 669.0,612.5 667.3,612.0C665.6,611.4 664.0,610.8 662.5,610.1C661.0,609.4 659.6,608.6 658.4,607.9C657.2,607.1 656.2,606.4 655.4,605.6C654.5,604.9 653.9,604.1 653.5,603.4C653.0,602.7 652.8,601.9 652.8,601.2C652.8,600.5 653.0,599.8 653.5,599.2C653.9,598.5 654.5,597.8 655.4,597.2C656.2,596.6 657.2,595.9 658.4,595.4C659.6,594.8 661.0,594.2 662.5,593.7C664.0,593.3 665.6,592.8 667.3,592.5C669.0,592.2 670.9,592.0 672.8,591.9C674.6,591.8 677.0,591.8 678.5,591.9C679.9,591.9 680.5,592.0 681.4,592.2C682.4,592.4 683.3,592.6 684.2,593.0C685.1,593.4 686.0,593.8 686.8,594.3C687.5,594.8 688.2,595.4 688.9,596.1C689.5,596.7 690.0,597.5 690.4,598.2C690.9,598.9 691.2,599.7 691.4,600.6C691.6,601.4 691.8,602.2 691.8,603.0Z" fill="#fedf88"/>
<path d="M688.4,602.4C688.4,603.1 688.3,603.7 688.1,604.4C688.0,605.1 687.7,605.7 687.4,606.3C687.1,606.9 686.7,607.5 686.2,608.0C685.8,608.6 685.2,609.0 684.7,609.5C684.1,609.9 683.4,610.3 682.8,610.5C682.1,610.8 681.4,611.1 680.7,611.2C680.0,611.4 679.5,611.5 678.5,611.4C677.4,611.4 675.6,611.1 674.2,610.8C672.8,610.6 671.4,610.2 670.1,609.7C668.8,609.3 667.6,608.7 666.5,608.2C665.4,607.6 664.3,607.0 663.4,606.4C662.5,605.8 661.8,605.2 661.1,604.6C660.5,604.0 660.0,603.4 659.7,602.8C659.4,602.2 659.2,601.6 659.2,601.0C659.2,600.5 659.4,599.9 659.7,599.4C660.0,598.8 660.5,598.3 661.1,597.8C661.8,597.2 662.5,596.7 663.4,596.2C664.3,595.8 665.4,595.3 666.5,594.9C667.6,594.5 668.8,594.2 670.1,593.9C671.4,593.6 672.8,593.4 674.2,593.3C675.6,593.2 677.4,593.3 678.5,593.3C679.5,593.4 680.0,593.4 680.7,593.6C681.4,593.7 682.1,593.9 682.8,594.2C683.4,594.5 684.1,594.9 684.7,595.3C685.2,595.7 685.8,596.2 686.2,596.7C686.7,597.3 687.1,597.9 687.4,598.5C687.7,599.1 688.0,599.7 688.1,600.4C688.3,601.0 688.4,601.7 688.4,602.4Z" fill="#fee8a4"/>
<path d="M685.0,601.9C685.0,602.4 684.9,602.9 684.8,603.4C684.6,603.9 684.4,604.4 684.0,604.9C683.7,605.3 683.3,605.8 682.8,606.2C682.3,606.5 681.8,606.9 681.2,607.2C680.6,607.5 680.0,607.8 679.3,608.0C678.6,608.3 677.9,608.4 677.1,608.5C676.4,608.7 675.6,608.7 674.9,608.7C674.1,608.7 673.3,608.7 672.6,608.5C671.9,608.4 671.1,608.3 670.4,608.0C669.8,607.8 669.1,607.5 668.5,607.2C667.9,606.9 667.4,606.5 666.9,606.2C666.4,605.8 666.0,605.3 665.7,604.9C665.4,604.4 665.1,603.9 664.9,603.4C664.8,602.9 664.7,602.4 664.7,601.9C664.7,601.4 664.8,600.9 664.9,600.4C665.1,599.9 665.4,599.4 665.7,599.0C666.0,598.5 666.4,598.1 666.9,597.7C667.4,597.3 667.9,596.9 668.5,596.6C669.1,596.3 669.8,596.0 670.4,595.8C671.1,595.6 671.9,595.4 672.6,595.3C673.3,595.2 674.1,595.1 674.9,595.1C675.6,595.1 676.4,595.2 677.1,595.3C677.9,595.4 678.6,595.6 679.3,595.8C680.0,596.0 680.6,596.3 681.2,596.6C681.8,596.9 682.3,597.3 682.8,597.7C683.3,598.1 683.7,598.5 684.0,599.0C684.4,599.4 684.6,599.9 684.8,600.4C684.9,600.9 685.0,601.4 685.0,601.9Z" fill="#fff3c0"/>
<path d="M681.8,601.7C681.8,602.0 681.8,602.3 681.7,602.7C681.6,603.0 681.4,603.3 681.2,603.6C681.0,603.9 680.8,604.2 680.5,604.5C680.2,604.7 679.9,605.0 679.5,605.2C679.2,605.4 678.8,605.6 678.4,605.7C678.0,605.9 677.5,606.0 677.1,606.0C676.7,606.1 676.2,606.2 675.7,606.2C675.3,606.2 674.8,606.1 674.4,606.0C673.9,606.0 673.5,605.9 673.1,605.7C672.7,605.6 672.3,605.4 671.9,605.2C671.6,605.0 671.3,604.7 671.0,604.5C670.7,604.2 670.4,603.9 670.3,603.6C670.1,603.3 669.9,603.0 669.8,602.7C669.7,602.3 669.6,602.0 669.6,601.7C669.6,601.3 669.7,601.0 669.8,600.7C669.9,600.3 670.1,600.0 670.3,599.7C670.4,599.4 670.7,599.1 671.0,598.9C671.3,598.6 671.6,598.4 671.9,598.2C672.3,598.0 672.7,597.8 673.1,597.6C673.5,597.5 673.9,597.4 674.4,597.3C674.8,597.2 675.3,597.2 675.7,597.2C676.2,597.2 676.7,597.2 677.1,597.3C677.5,597.4 678.0,597.5 678.4,597.6C678.8,597.8 679.2,598.0 679.5,598.2C679.9,598.4 680.2,598.6 680.5,598.9C680.8,599.1 681.0,599.4 681.2,599.7C681.4,600.0 681.6,600.3 681.7,600.7C681.8,601.0 681.8,601.3 681.8,601.7Z" fill="#c3d5e3"/>
</g>
<path d="M430.0,533.9L439.4,535.0L440.0,535.5L446.6,536.6L453.1,536.6L459.7,533.3L465.2,531.6L469.5,530.5L472.8,530.0" fill="none" stroke="#a4a9b0" stroke-width="1.35" stroke-linejoin="round" stroke-linecap="round"/>
<path d="M467.3,530.0L465.2,526.7L461.9,523.4L458.0,519.6L460.2,517.4L463.5,518.2L465.2,521.8L463.5,518.5L469.5,515.8L477.2,512.0L483.7,510.3L490.3,511.4L490.3,515.2L487.0,517.4L487.0,521.2L491.4,519.6L496.9,518.0L507.8,518.0L507.3,523.4L505.6,527.8L510.0,527.3L513.3,528.4L514.4,533.3L515.5,537.1L520.9,535.5L524.2,536.6L524.2,532.2L526.4,528.4L527.0,533.3L526.4,537.1L531.9,538.7L536.2,539.8L537.3,535.5L539.5,532.2L539.0,528.9L541.7,531.6L540.6,535.5L538.4,538.7L539.0,542.0L541.7,545.3L543.4,549.7L547.2,551.9L550.5,554.6L549.4,558.4L550.5,561.7L555.9,563.9L560.3,565.0L565.8,565.5L569.1,569.4L573.4,572.7L580.0,573.7" fill="none" stroke="#a4a9b0" stroke-width="1.35" stroke-linejoin="round" stroke-linecap="round"/>
<path d="M471.7,530.5L476.1,528.9L483.7,527.3L490.3,529.5L496.9,532.2L500.7,533.8L496.9,537.1L494.7,540.9L489.2,541.5L483.7,538.7L478.3,535.5L472.8,532.2L471.7,530.5" fill="none" stroke="#a4a9b0" stroke-width="1.35" stroke-linejoin="round" stroke-linecap="round"/>
<path d="M543.4,549.7L538.4,550.8L535.2,554.1L529.7,554.1L533.0,557.9L538.4,560.6L545.0,562.3L550.5,563.4" fill="none" stroke="#a4a9b0" stroke-width="1.35" stroke-linejoin="round" stroke-linecap="round"/>
<path d="M541.7,550.8L545.0,554.6L547.7,556.2L546.6,559.5" fill="none" stroke="#a4a9b0" stroke-width="1.2" stroke-linejoin="round" stroke-linecap="round"/>
<path d="M505.6,496.1L510.0,495.5L513.3,498.3L514.9,502.1L511.1,502.7L507.8,499.9L505.6,496.1" fill="none" stroke="#a4a9b0" stroke-width="1.3" stroke-linejoin="round" stroke-linecap="round"/>
<path d="M523.1,497.7L527.5,502.7L530.8,508.1L532.4,512.5L536.2,515.2L541.7,516.3L545.5,517.4" fill="none" stroke="#a4a9b0" stroke-width="1.4" stroke-linejoin="round" stroke-linecap="round"/>
<path d="M521.5,504.8L526.4,510.3L527.5,515.2L530.8,518.5L536.2,519.1L542.8,519.6L546.3,521.6" fill="none" stroke="#a4a9b0" stroke-width="1.4" stroke-linejoin="round" stroke-linecap="round"/>
<path d="M552.7,519.9L552.2,521.2L551.0,522.2L549.4,522.6L547.7,522.2L546.5,521.2L546.1,519.9L546.5,518.6L547.7,517.7L549.4,517.3L551.0,517.7L552.2,518.6L552.7,519.9" fill="none" stroke="#a4a9b0" stroke-width="1.3" stroke-linejoin="round" stroke-linecap="round"/>
<path d="M560.0,565.6L566.2,568.8L572.5,575.0L577.2,577.3" fill="none" stroke="#a4a9b0" stroke-width="1.3" stroke-linejoin="round" stroke-linecap="round"/>
<path d="M600.6,575.8L613.1,577.3L625.6,574.2L635.0,568.8L644.4,562.5L653.8,557.0L663.1,554.7L672.5,556.2L678.8,560.2L688.1,562.5L692.8,564.1L695.2,568.8" fill="none" stroke="#a4a9b0" stroke-width="1.6" stroke-linejoin="round" stroke-linecap="round"/>
<path d="M617.0,520.3L619.4,515.6L625.6,509.4L631.1,508.6L633.4,514.1L628.8,521.9L622.5,525.8L617.0,523.4L617.0,520.3" fill="none" stroke="#a4a9b0" stroke-width="1.5" stroke-linejoin="round" stroke-linecap="round"/>
<path d="M620.2,519.5L625.6,514.8L630.3,511.7" fill="none" stroke="#a4a9b0" stroke-width="1.3" stroke-linejoin="round" stroke-linecap="round"/>
<path d="M714.7,579.7L710.0,575.0L705.3,578.1L700.6,582.8L695.9,588.8L697.5,581.2L701.4,576.6L706.9,573.4L710.8,574.7" fill="none" stroke="#a4a9b0" stroke-width="1.6" stroke-linejoin="round" stroke-linecap="round"/>
<path d="M695.2,568.8L697.5,573.4L700.6,577.3" fill="none" stroke="#a4a9b0" stroke-width="1.4" stroke-linejoin="round" stroke-linecap="round"/>
<path d="M745.9,500.0L746.7,507.8L742.8,517.2L737.3,525.8" fill="none" stroke="#a4a9b0" stroke-width="1.5" stroke-linejoin="round" stroke-linecap="round"/>
<path d="M735.0,528.1L730.3,532.8L726.4,535.9" fill="none" stroke="#a4a9b0" stroke-width="1.5" stroke-linejoin="round" stroke-linecap="round"/>
<path d="M722.5,538.3L717.8,541.4L713.9,542.5" fill="none" stroke="#a4a9b0" stroke-width="1.5" stroke-linejoin="round" stroke-linecap="round"/>
<path d="M732.7,511.7L736.6,508.6L741.2,505.5" fill="none" stroke="#a4a9b0" stroke-width="1.3" stroke-linejoin="round" stroke-linecap="round"/>
<path d="M610.0,486.9L611.6,479.1L617.8,471.2L624.1,465.8L630.3,464.2L638.1,465.8L645.9,470.5L649.1,474.4L656.9,476.7L663.1,479.8L667.8,483.0L663.1,486.9L656.9,486.1L653.8,490.0L645.9,493.1L636.6,494.7L625.6,494.7L616.2,492.3L610.0,486.9" fill="none" stroke="#a4a9b0" stroke-width="1.5" stroke-linejoin="round" stroke-linecap="round"/>
<path d="M608.1,473.6L607.5,475.5L605.8,477.0L603.4,477.5L601.1,477.0L599.4,475.5L598.8,473.6L599.4,471.6L601.1,470.2L603.4,469.7L605.8,470.2L607.5,471.6L608.1,473.6" fill="none" stroke="#a4a9b0" stroke-width="1.4" stroke-linejoin="round" stroke-linecap="round"/>
<path d="M667.8,483.0L675.6,481.4L685.0,480.6L692.8,479.4L697.5,472.8L702.2,468.1L706.9,467.3L703.8,465.0L699.1,466.6L697.5,468.9" fill="none" stroke="#a4a9b0" stroke-width="1.5" stroke-linejoin="round" stroke-linecap="round"/>
<path d="M706.9,467.3L710.0,468.9L722.5,465.8L735.0,463.4L742.8,462.7L739.7,460.3L744.4,461.1L747.5,465.0L756.9,467.3L763.9,463.4L766.2,468.9L772.5,468.1L781.9,464.2L791.2,463.4L800.6,466.6L805.3,468.9L810.0,468.1" fill="none" stroke="#a4a9b0" stroke-width="1.5" stroke-linejoin="round" stroke-linecap="round"/>
<path d="M718.6,477.5L725.6,476.7" fill="none" stroke="#a4a9b0" stroke-width="1.6" stroke-linejoin="round" stroke-linecap="round"/>
<path d="M733.4,478.3L741.2,476.7" fill="none" stroke="#a4a9b0" stroke-width="1.6" stroke-linejoin="round" stroke-linecap="round"/>
<path d="M750.6,475.9L767.8,477.5" fill="none" stroke="#a4a9b0" stroke-width="1.6" stroke-linejoin="round" stroke-linecap="round"/>
<path d="M772.5,478.3L781.9,479.8" fill="none" stroke="#a4a9b0" stroke-width="1.6" stroke-linejoin="round" stroke-linecap="round"/>
<path d="M789.7,477.5L805.3,475.2L810.0,474.7" fill="none" stroke="#a4a9b0" stroke-width="1.6" stroke-linejoin="round" stroke-linecap="round"/>
<path d="M727.2,486.9L739.7,491.6L745.9,499.4L746.2,508.8L742.8,518.1L735.8,527.5" fill="none" stroke="#a4a9b0" stroke-width="1.6" stroke-linejoin="round" stroke-linecap="round"/>
<path d="M731.9,531.4L725.6,535.6" fill="none" stroke="#a4a9b0" stroke-width="1.5" stroke-linejoin="round" stroke-linecap="round"/>
<path d="M719.4,540.0L714.7,542.3" fill="none" stroke="#a4a9b0" stroke-width="1.5" stroke-linejoin="round" stroke-linecap="round"/>
<path d="M738.1,507.2L741.2,505.6L742.0,508.8L738.9,509.5L738.1,507.2" fill="none" stroke="#a4a9b0" stroke-width="1.3" stroke-linejoin="round" stroke-linecap="round"/>
<path d="M617.0,522.8L619.4,516.6L625.6,509.5L631.1,510.3L632.7,516.6L627.2,522.8L620.9,525.9L617.0,522.8" fill="none" stroke="#a4a9b0" stroke-width="1.5" stroke-linejoin="round" stroke-linecap="round"/>
<path d="M620.2,521.2L624.8,515.8L629.5,512.7" fill="none" stroke="#a4a9b0" stroke-width="1.3" stroke-linejoin="round" stroke-linecap="round"/>
<path d="M790.0,476.6L801.3,475.6L808.8,477.5L820.0,475.6L836.9,475.6L851.9,472.8L868.8,470.0L883.8,467.2L898.8,464.8L913.8,463.1L928.8,462.5L943.8,463.1L958.8,464.8L960.0,465.8L975.6,471.2L991.2,478.3L1006.9,486.9" fill="none" stroke="#a4a9b0" stroke-width="1.5" stroke-linejoin="round" stroke-linecap="round"/>
<path d="M808.8,475.6L805.0,470.0L807.8,458.8L806.9,447.5L812.5,440.0L815.3,431.6L817.2,438.1L821.9,441.9L823.8,451.3L827.5,460.6L833.1,466.3L838.8,470.9L836.9,475.6" fill="none" stroke="#a4a9b0" stroke-width="1.5" stroke-linejoin="round" stroke-linecap="round"/>
<path d="M805.9,447.5L808.8,445.6" fill="none" stroke="#a4a9b0" stroke-width="1.3" stroke-linejoin="round" stroke-linecap="round"/>
<path d="M828.4,462.5L831.3,464.4" fill="none" stroke="#a4a9b0" stroke-width="1.3" stroke-linejoin="round" stroke-linecap="round"/>
<path d="M790.0,464.4L795.6,465.3L799.4,469.1L805.0,470.0" fill="none" stroke="#a4a9b0" stroke-width="1.4" stroke-linejoin="round" stroke-linecap="round"/>
<path d="M793.8,466.3L797.5,464.4" fill="none" stroke="#a4a9b0" stroke-width="1.3" stroke-linejoin="round" stroke-linecap="round"/>
<path d="M848.1,466.3L851.9,470.9L859.4,468.1L865.0,464.4L865.0,458.8L870.6,458.8L870.6,462.5L866.9,466.3L874.4,466.3L883.8,463.4L887.5,458.8L885.6,448.4L891.3,453.1L894.1,458.8L898.8,453.1L898.8,445.6L902.5,447.5L902.5,455.0L910.0,458.8L902.5,461.6L895.0,463.4" fill="none" stroke="#a4a9b0" stroke-width="1.5" stroke-linejoin="round" stroke-linecap="round"/>
<path d="M934.4,459.7L940.0,457.8L945.6,454.1L949.4,455.9L955.0,458.8" fill="none" stroke="#a4a9b0" stroke-width="1.5" stroke-linejoin="round" stroke-linecap="round"/>
<path d="M943.8,455.0L946.6,452.2" fill="none" stroke="#a4a9b0" stroke-width="1.2" stroke-linejoin="round" stroke-linecap="round"/>
<path d="M1006.9,486.9L1022.5,494.7L1030.3,499.4L1038.1,504.1L1042.8,510.3L1045.2,518.1L1041.2,524.4L1047.5,523.6L1056.9,522.8L1066.2,521.2L1075.6,519.7L1078.8,515.0L1083.4,513.4L1081.1,518.1L1089.7,515.0L1097.5,511.9L1106.9,507.2" fill="none" stroke="#a4a9b0" stroke-width="1.5" stroke-linejoin="round" stroke-linecap="round"/>
<path d="M1038.1,507.2L1036.6,513.4L1038.1,521.2L1041.2,525.2" fill="none" stroke="#a4a9b0" stroke-width="1.5" stroke-linejoin="round" stroke-linecap="round"/>
<path d="M1064.4,525.2L1063.8,526.2L1062.2,526.9L1060.0,527.2L1057.8,526.9L1056.2,526.2L1055.6,525.2L1056.2,524.1L1057.8,523.4L1060.0,523.1L1062.2,523.4L1063.8,524.1L1064.4,525.2" fill="none" stroke="#a4a9b0" stroke-width="1.3" stroke-linejoin="round" stroke-linecap="round"/>
<path d="M1060.0,527.8L1067.8,531.4L1075.6,529.8L1085.0,525.2L1094.4,519.7L1097.5,517.3L1092.8,516.6L1085.0,519.7L1081.9,522.8L1076.4,521.2" fill="none" stroke="#a4a9b0" stroke-width="1.5" stroke-linejoin="round" stroke-linecap="round"/>
<path d="M1099.1,515.0L1106.9,512.7" fill="none" stroke="#a4a9b0" stroke-width="1.5" stroke-linejoin="round" stroke-linecap="round"/>
<path d="M1076.4,518.1L1078.0,514.7L1081.1,512.7" fill="none" stroke="#a4a9b0" stroke-width="1.2" stroke-linejoin="round" stroke-linecap="round"/>
<path d="M1150.8,488.2L1159.7,493.3L1168.7,499.7" fill="none" stroke="#a4a9b0" stroke-width="1.3" stroke-linejoin="round" stroke-linecap="round"/>
<path d="M714.9,487.5L716.6,487.3L717.8,489.1" fill="none" stroke="#a4a9b0" stroke-width="1.4" stroke-linejoin="round" stroke-linecap="round"/>
<path d="M712.1,489.0L712.2,486.8L711.1,484.0L709.3,481.6L709.8,480.5" fill="none" stroke="#a4a9b0" stroke-width="1.4" stroke-linejoin="round" stroke-linecap="round"/>
<path d="M717.3,489.4L719.1,490.4L719.6,493.1L718.9,495.5L721.5,496.8" fill="none" stroke="#a4a9b0" stroke-width="1.4" stroke-linejoin="round" stroke-linecap="round"/>
<path d="M713.8,485.4L713.9,488.1L711.7,489.7" fill="none" stroke="#a4a9b0" stroke-width="1.4" stroke-linejoin="round" stroke-linecap="round"/>
<path d="M708.4,488.5L705.6,487.6L705.6,484.6" fill="none" stroke="#a4a9b0" stroke-width="1.4" stroke-linejoin="round" stroke-linecap="round"/>
<path d="M707.4,484.3L705.8,482.7L707.0,481.1L708.3,479.5L706.9,478.1" fill="none" stroke="#a4a9b0" stroke-width="1.4" stroke-linejoin="round" stroke-linecap="round"/>
<path d="M709.2,488.3L708.1,490.6L708.4,492.8L709.0,495.1L710.5,496.7" fill="none" stroke="#a4a9b0" stroke-width="1.4" stroke-linejoin="round" stroke-linecap="round"/>
<path d="M708.3,493.1L710.5,491.4L710.6,488.9L711.2,487.4" fill="none" stroke="#a4a9b0" stroke-width="1.4" stroke-linejoin="round" stroke-linecap="round"/>
<path d="M706.0,493.1L704.5,493.0L702.2,493.9L701.0,496.3L699.5,498.6" fill="none" stroke="#a4a9b0" stroke-width="1.4" stroke-linejoin="round" stroke-linecap="round"/>
<path d="M708.1,493.0L709.7,495.5L711.8,494.5L714.3,494.7" fill="none" stroke="#a4a9b0" stroke-width="1.4" stroke-linejoin="round" stroke-linecap="round"/>
<path d="M716.6,493.6L715.6,495.4L715.0,497.2L713.4,499.0L714.2,501.3" fill="none" stroke="#a4a9b0" stroke-width="1.4" stroke-linejoin="round" stroke-linecap="round"/>
<path d="M708.2,494.5L707.2,496.0L705.5,497.6L703.3,498.1L701.1,499.2" fill="none" stroke="#a4a9b0" stroke-width="1.4" stroke-linejoin="round" stroke-linecap="round"/>
<path d="M713.3,487.6L713.0,489.3L713.3,491.4" fill="none" stroke="#a4a9b0" stroke-width="1.4" stroke-linejoin="round" stroke-linecap="round"/>
<path d="M709.5,493.0L709.2,490.4L706.3,490.5" fill="none" stroke="#a4a9b0" stroke-width="1.4" stroke-linejoin="round" stroke-linecap="round"/>
<path d="M717.5,486.5L716.9,483.8L714.8,483.6" fill="none" stroke="#a4a9b0" stroke-width="1.4" stroke-linejoin="round" stroke-linecap="round"/>
<path d="M711.5,489.3L713.2,488.3L715.8,488.8" fill="none" stroke="#a4a9b0" stroke-width="1.4" stroke-linejoin="round" stroke-linecap="round"/>
<path d="M717.4,487.0L719.8,486.1L722.2,487.8L722.5,489.9L725.0,490.7" fill="none" stroke="#a4a9b0" stroke-width="1.4" stroke-linejoin="round" stroke-linecap="round"/>
<path d="M712.7,490.7L710.8,488.7L709.8,487.8L710.6,486.6" fill="none" stroke="#a4a9b0" stroke-width="1.4" stroke-linejoin="round" stroke-linecap="round"/>
<path d="M715.4,492.0L716.1,490.6L718.0,490.0L719.0,487.5L720.6,487.3" fill="none" stroke="#a4a9b0" stroke-width="1.4" stroke-linejoin="round" stroke-linecap="round"/>
<path d="M712.1,492.4L710.7,494.6L711.2,496.1L713.8,496.6L714.9,494.9" fill="none" stroke="#a4a9b0" stroke-width="1.4" stroke-linejoin="round" stroke-linecap="round"/>
<path d="M709.7,492.9L711.0,492.2L713.1,493.6L714.1,492.9" fill="none" stroke="#a4a9b0" stroke-width="1.4" stroke-linejoin="round" stroke-linecap="round"/>
<path d="M707.5,495.6L705.0,495.1L703.3,493.6L702.2,493.1" fill="none" stroke="#a4a9b0" stroke-width="1.4" stroke-linejoin="round" stroke-linecap="round"/>
<path d="M705.5,502.9L706.5,501.5L706.7,499.0" fill="none" stroke="#a4a9b0" stroke-width="1.4" stroke-linejoin="round" stroke-linecap="round"/>
<path d="M706.1,494.0L705.6,492.3L706.9,489.7" fill="none" stroke="#a4a9b0" stroke-width="1.4" stroke-linejoin="round" stroke-linecap="round"/>
<path d="M699.4,506.5L698.5,507.4L697.4,509.2" fill="none" stroke="#a4a9b0" stroke-width="1.4" stroke-linejoin="round" stroke-linecap="round"/>
<path d="M706.1,496.6L705.2,495.5L704.8,493.6L706.5,491.4L709.4,492.3" fill="none" stroke="#a4a9b0" stroke-width="1.4" stroke-linejoin="round" stroke-linecap="round"/>
<path d="M709.1,496.2L706.8,495.0L705.6,493.4L704.1,494.0" fill="none" stroke="#a4a9b0" stroke-width="1.4" stroke-linejoin="round" stroke-linecap="round"/>
<path d="M699.5,503.3L701.7,504.8L700.8,507.2" fill="none" stroke="#a4a9b0" stroke-width="1.4" stroke-linejoin="round" stroke-linecap="round"/>
<path d="M706.9,497.3L705.6,496.4L703.7,497.8L701.5,497.3L699.9,498.0" fill="none" stroke="#a4a9b0" stroke-width="1.4" stroke-linejoin="round" stroke-linecap="round"/>
<path d="M709.1,496.7L707.0,498.5L707.7,500.4L709.3,500.0" fill="none" stroke="#a4a9b0" stroke-width="1.4" stroke-linejoin="round" stroke-linecap="round"/>
<path d="M707.9,497.6L708.8,495.0L710.3,494.0L709.0,491.9" fill="none" stroke="#a4a9b0" stroke-width="1.4" stroke-linejoin="round" stroke-linecap="round"/>
<path d="M701.6,509.7L703.3,510.2L704.3,511.5" fill="none" stroke="#a4a9b0" stroke-width="1.4" stroke-linejoin="round" stroke-linecap="round"/>
<path d="M707.2,494.3L705.5,494.6L704.0,492.8L703.5,491.0L702.6,488.5" fill="none" stroke="#a4a9b0" stroke-width="1.4" stroke-linejoin="round" stroke-linecap="round"/>
<path d="M703.2,502.8L704.8,502.8L706.4,503.2L708.7,504.1" fill="none" stroke="#a4a9b0" stroke-width="1.4" stroke-linejoin="round" stroke-linecap="round"/>
<path d="M700.9,495.2L701.4,497.5L700.1,499.5" fill="none" stroke="#a4a9b0" stroke-width="1.4" stroke-linejoin="round" stroke-linecap="round"/>
<path d="M707.5,501.6L708.2,503.0L706.3,504.9L703.5,503.8L701.0,503.2" fill="none" stroke="#a4a9b0" stroke-width="1.4" stroke-linejoin="round" stroke-linecap="round"/>
<path d="M702.8,497.4L703.4,498.9L701.0,500.4L699.9,499.5L699.0,498.0" fill="none" stroke="#a4a9b0" stroke-width="1.4" stroke-linejoin="round" stroke-linecap="round"/>
<path d="M701.6,498.0L701.8,500.1L701.7,502.8" fill="none" stroke="#a4a9b0" stroke-width="1.4" stroke-linejoin="round" stroke-linecap="round"/>
<path d="M706.3,495.8L705.8,494.0L704.5,493.2L703.1,493.8" fill="none" stroke="#a4a9b0" stroke-width="1.4" stroke-linejoin="round" stroke-linecap="round"/>
<path d="M697.7,502.9L695.5,501.6L696.0,499.5L695.0,497.8L694.0,496.7" fill="none" stroke="#a4a9b0" stroke-width="1.4" stroke-linejoin="round" stroke-linecap="round"/>
<path d="M702.3,501.3L704.0,501.9L705.5,501.9" fill="none" stroke="#a4a9b0" stroke-width="1.4" stroke-linejoin="round" stroke-linecap="round"/>
<path d="M708.5,497.7L707.1,497.1L707.1,494.1" fill="none" stroke="#a4a9b0" stroke-width="1.4" stroke-linejoin="round" stroke-linecap="round"/>
<path d="M710.7,497.2L712.2,495.9L713.4,493.6L712.0,492.3L710.2,493.7" fill="none" stroke="#a4a9b0" stroke-width="1.4" stroke-linejoin="round" stroke-linecap="round"/>
<path d="M698.2,502.4L698.5,505.4L696.5,505.8" fill="none" stroke="#a4a9b0" stroke-width="1.4" stroke-linejoin="round" stroke-linecap="round"/>
<path d="M703.1,500.0L701.0,500.7L699.7,501.3" fill="none" stroke="#a4a9b0" stroke-width="1.4" stroke-linejoin="round" stroke-linecap="round"/>
<path d="M704.2,499.8L702.1,499.2L699.6,500.7L697.6,499.1L696.5,496.5" fill="none" stroke="#a4a9b0" stroke-width="1.4" stroke-linejoin="round" stroke-linecap="round"/>
<path d="M695.9,510.9L695.4,509.8L696.5,508.9L695.5,506.2" fill="none" stroke="#a4a9b0" stroke-width="1.4" stroke-linejoin="round" stroke-linecap="round"/>
<path d="M689.1,507.8L688.1,509.8L685.8,511.8" fill="none" stroke="#a4a9b0" stroke-width="1.4" stroke-linejoin="round" stroke-linecap="round"/>
<path d="M696.4,506.6L695.3,505.1L694.0,504.7L692.5,506.7L693.8,508.4" fill="none" stroke="#a4a9b0" stroke-width="1.4" stroke-linejoin="round" stroke-linecap="round"/>
<path d="M691.5,515.8L693.0,515.3L693.2,513.7L691.4,512.8L691.1,511.0" fill="none" stroke="#a4a9b0" stroke-width="1.4" stroke-linejoin="round" stroke-linecap="round"/>
<path d="M688.0,517.7L688.8,516.5L690.9,514.8L691.9,513.4L694.5,513.9" fill="none" stroke="#a4a9b0" stroke-width="1.4" stroke-linejoin="round" stroke-linecap="round"/>
<path d="M696.9,506.4L696.1,507.4L694.8,507.6L693.4,510.0L691.0,510.1" fill="none" stroke="#a4a9b0" stroke-width="1.4" stroke-linejoin="round" stroke-linecap="round"/>
<path d="M691.6,510.4L691.8,507.6L691.5,506.2L691.5,504.9" fill="none" stroke="#a4a9b0" stroke-width="1.4" stroke-linejoin="round" stroke-linecap="round"/>
<path d="M691.7,506.8L692.0,505.1L692.0,502.3L690.5,501.0" fill="none" stroke="#a4a9b0" stroke-width="1.4" stroke-linejoin="round" stroke-linecap="round"/>
<path d="M696.1,514.2L694.8,514.7L694.9,517.1L693.9,518.7L691.2,518.9" fill="none" stroke="#a4a9b0" stroke-width="1.4" stroke-linejoin="round" stroke-linecap="round"/>
<path d="M687.2,516.6L685.8,517.4L685.6,520.2L687.0,522.5" fill="none" stroke="#a4a9b0" stroke-width="1.4" stroke-linejoin="round" stroke-linecap="round"/>
<path d="M689.9,516.4L688.5,517.3L687.4,516.5L686.3,514.9L686.3,512.6" fill="none" stroke="#a4a9b0" stroke-width="1.4" stroke-linejoin="round" stroke-linecap="round"/>
<path d="M692.5,511.2L695.2,510.6L697.6,512.4" fill="none" stroke="#a4a9b0" stroke-width="1.4" stroke-linejoin="round" stroke-linecap="round"/>
<path d="M691.9,511.3L689.2,512.4L688.1,513.6L686.7,513.1" fill="none" stroke="#a4a9b0" stroke-width="1.4" stroke-linejoin="round" stroke-linecap="round"/>
<path d="M685.0,514.7L686.4,515.2L688.2,514.2L690.2,513.7" fill="none" stroke="#a4a9b0" stroke-width="1.4" stroke-linejoin="round" stroke-linecap="round"/>
<path d="M696.4,505.0L695.3,505.9L694.2,505.1L692.5,503.2L694.2,501.1" fill="none" stroke="#a4a9b0" stroke-width="1.4" stroke-linejoin="round" stroke-linecap="round"/>
<path d="M682.7,513.8L682.4,512.5L682.5,510.0L680.7,509.4" fill="none" stroke="#a4a9b0" stroke-width="1.4" stroke-linejoin="round" stroke-linecap="round"/>
<path d="M691.0,513.6L689.1,512.1L686.6,511.6L683.8,511.9L682.5,513.1" fill="none" stroke="#a4a9b0" stroke-width="1.4" stroke-linejoin="round" stroke-linecap="round"/>
<path d="M687.4,515.8L686.6,513.4L684.8,512.2L684.4,510.8L685.1,509.2" fill="none" stroke="#a4a9b0" stroke-width="1.4" stroke-linejoin="round" stroke-linecap="round"/>
<path d="M697.0,516.5L696.1,517.4L697.0,518.8L697.8,519.7" fill="none" stroke="#a4a9b0" stroke-width="1.4" stroke-linejoin="round" stroke-linecap="round"/>
<path d="M687.2,520.5L685.7,520.9L684.1,521.0" fill="none" stroke="#a4a9b0" stroke-width="1.4" stroke-linejoin="round" stroke-linecap="round"/>
<path d="M690.9,508.7L691.6,506.8L692.8,506.6L694.2,508.5L696.9,508.5" fill="none" stroke="#a4a9b0" stroke-width="1.4" stroke-linejoin="round" stroke-linecap="round"/>
<path d="M688.8,519.6L690.0,519.3L690.7,520.4L693.6,520.6L695.0,521.0" fill="none" stroke="#a4a9b0" stroke-width="1.4" stroke-linejoin="round" stroke-linecap="round"/>
<path d="M695.7,510.6L697.9,509.4L699.5,510.7" fill="none" stroke="#a4a9b0" stroke-width="1.4" stroke-linejoin="round" stroke-linecap="round"/>
<path d="M688.4,515.0L688.6,512.7L691.0,512.7L692.3,513.1" fill="none" stroke="#a4a9b0" stroke-width="1.4" stroke-linejoin="round" stroke-linecap="round"/>
<path d="M685.5,518.1L685.8,515.1L686.0,512.7L687.0,511.9" fill="none" stroke="#a4a9b0" stroke-width="1.4" stroke-linejoin="round" stroke-linecap="round"/>
<path d="M696.2,505.5L695.4,507.3L697.5,508.8" fill="none" stroke="#a4a9b0" stroke-width="1.4" stroke-linejoin="round" stroke-linecap="round"/>
<path d="M687.9,520.3L688.6,522.0L687.4,523.1" fill="none" stroke="#a4a9b0" stroke-width="1.4" stroke-linejoin="round" stroke-linecap="round"/>
<path d="M697.5,506.6L699.3,504.3L700.7,502.2L700.7,499.3L701.0,497.9" fill="none" stroke="#a4a9b0" stroke-width="1.4" stroke-linejoin="round" stroke-linecap="round"/>
<path d="M685.2,520.1L685.1,518.6L686.6,517.9L685.9,515.6" fill="none" stroke="#a4a9b0" stroke-width="1.4" stroke-linejoin="round" stroke-linecap="round"/>
<path d="M679.2,531.1L679.9,530.0L681.1,529.5L682.6,528.6" fill="none" stroke="#a4a9b0" stroke-width="1.4" stroke-linejoin="round" stroke-linecap="round"/>
<path d="M682.5,522.1L683.6,521.2L685.7,522.0L688.6,521.0" fill="none" stroke="#a4a9b0" stroke-width="1.4" stroke-linejoin="round" stroke-linecap="round"/>
<path d="M686.0,520.6L687.3,521.2L686.8,524.0L685.1,525.1" fill="none" stroke="#a4a9b0" stroke-width="1.4" stroke-linejoin="round" stroke-linecap="round"/>
<path d="M677.7,524.6L677.0,523.0L677.4,521.5L678.5,519.0L678.3,516.2" fill="none" stroke="#a4a9b0" stroke-width="1.4" stroke-linejoin="round" stroke-linecap="round"/>
<path d="M681.7,522.0L681.4,523.3L681.1,524.7" fill="none" stroke="#a4a9b0" stroke-width="1.4" stroke-linejoin="round" stroke-linecap="round"/>
<path d="M675.9,526.1L674.7,524.9L674.1,522.1L674.4,520.7L675.9,520.4" fill="none" stroke="#a4a9b0" stroke-width="1.4" stroke-linejoin="round" stroke-linecap="round"/>
<path d="M682.6,523.6L683.7,526.2L684.5,527.3L686.9,527.0" fill="none" stroke="#a4a9b0" stroke-width="1.4" stroke-linejoin="round" stroke-linecap="round"/>
<path d="M687.3,520.5L685.5,520.9L684.6,523.4L682.7,523.0" fill="none" stroke="#a4a9b0" stroke-width="1.4" stroke-linejoin="round" stroke-linecap="round"/>
<path d="M678.8,524.9L677.5,527.2L677.3,529.4L679.1,530.2L680.4,529.9" fill="none" stroke="#a4a9b0" stroke-width="1.4" stroke-linejoin="round" stroke-linecap="round"/>
<path d="M682.6,523.0L682.2,524.7L680.1,525.0L679.5,526.2" fill="none" stroke="#a4a9b0" stroke-width="1.4" stroke-linejoin="round" stroke-linecap="round"/>
<path d="M681.1,524.5L682.9,525.1L684.1,527.3L685.8,527.1" fill="none" stroke="#a4a9b0" stroke-width="1.4" stroke-linejoin="round" stroke-linecap="round"/>
<path d="M676.7,524.8L678.7,524.0L679.6,525.6L682.4,526.8" fill="none" stroke="#a4a9b0" stroke-width="1.4" stroke-linejoin="round" stroke-linecap="round"/>
<path d="M677.3,528.3L675.6,528.3L674.6,525.9L676.1,524.7L677.2,525.3" fill="none" stroke="#a4a9b0" stroke-width="1.4" stroke-linejoin="round" stroke-linecap="round"/>
<path d="M678.3,521.8L678.9,523.4L678.0,524.5" fill="none" stroke="#a4a9b0" stroke-width="1.4" stroke-linejoin="round" stroke-linecap="round"/>
<path d="M677.9,531.2L676.1,529.1L674.4,528.4L672.9,529.9L670.5,529.7" fill="none" stroke="#a4a9b0" stroke-width="1.4" stroke-linejoin="round" stroke-linecap="round"/>
<path d="M676.4,530.4L674.5,530.6L673.2,530.0L671.6,530.9L670.3,529.9" fill="none" stroke="#a4a9b0" stroke-width="1.4" stroke-linejoin="round" stroke-linecap="round"/>
<path d="M683.8,527.3L684.8,528.0L687.0,527.7L688.1,528.9L687.5,531.8" fill="none" stroke="#a4a9b0" stroke-width="1.4" stroke-linejoin="round" stroke-linecap="round"/>
<path d="M681.1,521.9L679.9,519.4L681.4,518.3L680.2,515.8" fill="none" stroke="#a4a9b0" stroke-width="1.4" stroke-linejoin="round" stroke-linecap="round"/>
<path d="M679.9,520.9L678.2,523.0L677.9,524.9L679.5,526.6" fill="none" stroke="#a4a9b0" stroke-width="1.4" stroke-linejoin="round" stroke-linecap="round"/>
<path d="M680.3,518.3L680.1,519.7L681.6,520.1" fill="none" stroke="#a4a9b0" stroke-width="1.4" stroke-linejoin="round" stroke-linecap="round"/>
<path d="M677.6,529.6L678.7,527.4L678.7,524.8L681.2,524.1" fill="none" stroke="#a4a9b0" stroke-width="1.4" stroke-linejoin="round" stroke-linecap="round"/>
<path d="M684.4,524.2L682.5,523.6L681.0,524.2" fill="none" stroke="#a4a9b0" stroke-width="1.4" stroke-linejoin="round" stroke-linecap="round"/>
<path d="M678.6,528.4L678.5,529.8L676.9,531.9L675.8,534.1" fill="none" stroke="#a4a9b0" stroke-width="1.4" stroke-linejoin="round" stroke-linecap="round"/>
<path d="M677.9,530.6L679.6,529.4L681.2,529.5" fill="none" stroke="#a4a9b0" stroke-width="1.4" stroke-linejoin="round" stroke-linecap="round"/>
<path d="M679.2,533.1L680.6,532.4L682.6,530.5L685.1,529.9L686.3,528.4" fill="none" stroke="#a4a9b0" stroke-width="1.4" stroke-linejoin="round" stroke-linecap="round"/>
<path d="M677.8,539.2L678.7,540.7L677.0,542.7L675.3,542.8" fill="none" stroke="#a4a9b0" stroke-width="1.4" stroke-linejoin="round" stroke-linecap="round"/>
<path d="M675.2,540.8L676.8,539.4L678.0,538.6L679.1,536.5" fill="none" stroke="#a4a9b0" stroke-width="1.4" stroke-linejoin="round" stroke-linecap="round"/>
<path d="M672.8,533.1L672.1,532.1L670.9,530.7L670.3,528.4L669.2,527.3" fill="none" stroke="#a4a9b0" stroke-width="1.4" stroke-linejoin="round" stroke-linecap="round"/>
<path d="M675.8,531.1L676.2,528.8L674.9,528.5L673.9,527.7" fill="none" stroke="#a4a9b0" stroke-width="1.4" stroke-linejoin="round" stroke-linecap="round"/>
<path d="M676.5,534.1L674.4,533.7L672.6,532.2L673.0,530.7L672.4,529.4" fill="none" stroke="#a4a9b0" stroke-width="1.4" stroke-linejoin="round" stroke-linecap="round"/>
<path d="M676.7,538.2L675.0,540.0L674.6,542.6" fill="none" stroke="#a4a9b0" stroke-width="1.4" stroke-linejoin="round" stroke-linecap="round"/>
<path d="M677.5,533.9L679.7,533.8L681.0,535.6" fill="none" stroke="#a4a9b0" stroke-width="1.4" stroke-linejoin="round" stroke-linecap="round"/>
<path d="M676.1,532.2L678.0,533.9L678.0,535.4L677.8,536.7L679.4,537.2" fill="none" stroke="#a4a9b0" stroke-width="1.4" stroke-linejoin="round" stroke-linecap="round"/>
<path d="M675.5,531.8L674.4,533.5L673.2,533.8L672.4,535.2" fill="none" stroke="#a4a9b0" stroke-width="1.4" stroke-linejoin="round" stroke-linecap="round"/>
<path d="M678.8,536.5L677.3,538.6L678.6,540.0L678.9,541.8L678.7,543.7" fill="none" stroke="#a4a9b0" stroke-width="1.4" stroke-linejoin="round" stroke-linecap="round"/>
<path d="M680.0,537.6L678.1,539.8L678.0,541.4L679.0,543.0" fill="none" stroke="#a4a9b0" stroke-width="1.4" stroke-linejoin="round" stroke-linecap="round"/>
<path d="M681.0,539.8L681.4,537.6L683.0,535.1" fill="none" stroke="#a4a9b0" stroke-width="1.4" stroke-linejoin="round" stroke-linecap="round"/>
<path d="M677.6,531.2L677.1,533.4L676.7,536.2L678.0,538.1L677.5,539.2" fill="none" stroke="#a4a9b0" stroke-width="1.4" stroke-linejoin="round" stroke-linecap="round"/>
<path d="M673.7,539.1L672.5,540.2L671.0,540.5" fill="none" stroke="#a4a9b0" stroke-width="1.4" stroke-linejoin="round" stroke-linecap="round"/>
<path d="M679.5,538.3L680.3,536.6L682.0,537.0" fill="none" stroke="#a4a9b0" stroke-width="1.4" stroke-linejoin="round" stroke-linecap="round"/>
<path d="M683.0,542.5L682.1,543.4L680.7,544.3L679.0,544.0L677.7,543.4" fill="none" stroke="#a4a9b0" stroke-width="1.4" stroke-linejoin="round" stroke-linecap="round"/>
<path d="M680.6,541.2L680.4,543.1L681.6,544.2L683.9,543.0" fill="none" stroke="#a4a9b0" stroke-width="1.4" stroke-linejoin="round" stroke-linecap="round"/>
<path d="M681.6,541.9L679.8,542.7L678.0,542.5L676.9,540.0L677.7,539.0" fill="none" stroke="#a4a9b0" stroke-width="1.4" stroke-linejoin="round" stroke-linecap="round"/>
<path d="M682.6,547.1L683.4,545.5L682.1,543.3" fill="none" stroke="#a4a9b0" stroke-width="1.4" stroke-linejoin="round" stroke-linecap="round"/>
<path d="M677.0,541.9L679.2,543.1L682.1,543.8L683.6,542.5L684.2,540.9" fill="none" stroke="#a4a9b0" stroke-width="1.4" stroke-linejoin="round" stroke-linecap="round"/>
<path d="M678.0,543.8L675.3,545.1L674.0,544.3L672.2,542.6L670.8,541.8" fill="none" stroke="#a4a9b0" stroke-width="1.4" stroke-linejoin="round" stroke-linecap="round"/>
<path d="M682.5,540.9L680.3,540.3L679.9,538.5L678.1,536.2" fill="none" stroke="#a4a9b0" stroke-width="1.4" stroke-linejoin="round" stroke-linecap="round"/>
<path d="M687.3,542.6L687.0,541.1L686.4,538.9L683.7,539.1L681.9,538.7" fill="none" stroke="#a4a9b0" stroke-width="1.4" stroke-linejoin="round" stroke-linecap="round"/>
<path d="M685.8,545.6L686.9,546.6L689.7,546.0" fill="none" stroke="#a4a9b0" stroke-width="1.4" stroke-linejoin="round" stroke-linecap="round"/>
<path d="M678.1,542.6L680.5,542.8L681.6,543.4" fill="none" stroke="#a4a9b0" stroke-width="1.4" stroke-linejoin="round" stroke-linecap="round"/>
<path d="M685.0,545.6L682.2,544.9L681.0,543.3L682.5,541.6L685.0,542.3" fill="none" stroke="#a4a9b0" stroke-width="1.4" stroke-linejoin="round" stroke-linecap="round"/>
<path d="M681.3,544.5L681.2,546.8L678.7,548.0" fill="none" stroke="#a4a9b0" stroke-width="1.4" stroke-linejoin="round" stroke-linecap="round"/>
<path d="M688.1,542.6L687.5,543.6L686.0,543.6L683.9,541.9" fill="none" stroke="#a4a9b0" stroke-width="1.4" stroke-linejoin="round" stroke-linecap="round"/>
<path d="M677.0,543.5L676.3,545.7L675.0,548.1" fill="none" stroke="#a4a9b0" stroke-width="1.4" stroke-linejoin="round" stroke-linecap="round"/>
<path d="M688.3,546.6L689.0,548.4L687.8,549.1L687.6,550.6L685.9,552.2" fill="none" stroke="#a4a9b0" stroke-width="1.4" stroke-linejoin="round" stroke-linecap="round"/>
<path d="M685.5,542.1L684.1,540.8L681.3,541.7L679.7,539.2" fill="none" stroke="#a4a9b0" stroke-width="1.4" stroke-linejoin="round" stroke-linecap="round"/>
<path d="M683.1,548.3L681.3,550.2L681.9,551.6" fill="none" stroke="#a4a9b0" stroke-width="1.4" stroke-linejoin="round" stroke-linecap="round"/>
<path d="M685.1,545.1L683.8,544.1L683.7,542.6L683.1,540.4L683.9,538.0" fill="none" stroke="#a4a9b0" stroke-width="1.4" stroke-linejoin="round" stroke-linecap="round"/>
<path d="M683.8,545.6L681.5,544.6L681.1,543.4L682.3,542.2L683.8,543.2" fill="none" stroke="#a4a9b0" stroke-width="1.4" stroke-linejoin="round" stroke-linecap="round"/>
<path d="M677.2,541.8L678.7,542.0L680.0,543.4" fill="none" stroke="#a4a9b0" stroke-width="1.4" stroke-linejoin="round" stroke-linecap="round"/>
<path d="M669.9,491.2L667.3,492.3L666.8,495.2L666.9,496.8" fill="none" stroke="#a4a9b0" stroke-width="1.4" stroke-linejoin="round" stroke-linecap="round"/>
<path d="M663.4,493.5L662.2,491.9L660.8,491.7" fill="none" stroke="#a4a9b0" stroke-width="1.4" stroke-linejoin="round" stroke-linecap="round"/>
<path d="M663.3,490.8L661.9,488.3L663.7,486.0" fill="none" stroke="#a4a9b0" stroke-width="1.4" stroke-linejoin="round" stroke-linecap="round"/>
<path d="M664.1,490.2L663.6,488.8L662.9,486.8L661.6,486.4" fill="none" stroke="#a4a9b0" stroke-width="1.4" stroke-linejoin="round" stroke-linecap="round"/>
<path d="M660.8,492.8L660.4,491.4L658.1,490.4L656.7,489.9" fill="none" stroke="#a4a9b0" stroke-width="1.4" stroke-linejoin="round" stroke-linecap="round"/>
<path d="M664.5,488.0L662.6,486.9L660.4,487.0" fill="none" stroke="#a4a9b0" stroke-width="1.4" stroke-linejoin="round" stroke-linecap="round"/>
<path d="M662.1,490.0L662.6,487.3L661.3,485.5" fill="none" stroke="#a4a9b0" stroke-width="1.4" stroke-linejoin="round" stroke-linecap="round"/>
<path d="M664.6,490.6L666.0,492.9L666.0,495.7" fill="none" stroke="#a4a9b0" stroke-width="1.4" stroke-linejoin="round" stroke-linecap="round"/>
<path d="M663.8,493.3L661.6,494.0L662.0,495.7" fill="none" stroke="#a4a9b0" stroke-width="1.4" stroke-linejoin="round" stroke-linecap="round"/>
<path d="M663.1,491.9L665.4,491.0L667.4,489.2" fill="none" stroke="#a4a9b0" stroke-width="1.4" stroke-linejoin="round" stroke-linecap="round"/>
<path d="M658.9,493.4L658.3,494.7L655.7,496.3" fill="none" stroke="#a4a9b0" stroke-width="1.4" stroke-linejoin="round" stroke-linecap="round"/>
<path d="M670.4,494.2L671.7,494.7L672.8,497.4L674.2,497.2" fill="none" stroke="#a4a9b0" stroke-width="1.4" stroke-linejoin="round" stroke-linecap="round"/>
<path d="M674.2,490.3L672.5,490.2L671.4,491.8L672.3,493.1" fill="none" stroke="#a4a9b0" stroke-width="1.4" stroke-linejoin="round" stroke-linecap="round"/>
<path d="M674.7,488.8L673.1,489.6L671.8,491.1" fill="none" stroke="#a4a9b0" stroke-width="1.4" stroke-linejoin="round" stroke-linecap="round"/>
<path d="M674.2,489.8L675.8,490.5L677.2,492.1L676.4,493.3L675.3,496.0" fill="none" stroke="#a4a9b0" stroke-width="1.4" stroke-linejoin="round" stroke-linecap="round"/>
<path d="M669.2,489.0L670.7,488.3L673.0,489.8L674.1,489.3L675.6,488.7" fill="none" stroke="#a4a9b0" stroke-width="1.4" stroke-linejoin="round" stroke-linecap="round"/>
<path d="M674.2,488.8L675.5,490.5L675.0,493.0" fill="none" stroke="#a4a9b0" stroke-width="1.4" stroke-linejoin="round" stroke-linecap="round"/>
<path d="M670.8,489.7L669.2,490.4L668.2,491.2L666.6,492.7L665.8,495.2" fill="none" stroke="#a4a9b0" stroke-width="1.4" stroke-linejoin="round" stroke-linecap="round"/>
<path d="M670.7,486.8L669.3,486.6L667.9,485.2" fill="none" stroke="#a4a9b0" stroke-width="1.4" stroke-linejoin="round" stroke-linecap="round"/>
<path d="M672.5,490.8L673.6,488.3L674.6,486.5L675.4,484.1" fill="none" stroke="#a4a9b0" stroke-width="1.4" stroke-linejoin="round" stroke-linecap="round"/>
<path d="M672.6,496.7L674.4,498.6L674.8,500.0L673.1,500.6L672.0,502.4" fill="none" stroke="#a4a9b0" stroke-width="1.4" stroke-linejoin="round" stroke-linecap="round"/>
<path d="M678.4,496.9L677.7,495.2L678.9,493.6L678.0,491.6L679.8,489.8" fill="none" stroke="#a4a9b0" stroke-width="1.4" stroke-linejoin="round" stroke-linecap="round"/>
<path d="M672.6,497.1L674.1,497.5L676.2,495.7L678.5,495.3" fill="none" stroke="#a4a9b0" stroke-width="1.4" stroke-linejoin="round" stroke-linecap="round"/>
<path d="M675.0,496.0L677.3,497.5L678.5,497.9" fill="none" stroke="#a4a9b0" stroke-width="1.4" stroke-linejoin="round" stroke-linecap="round"/>
<path d="M677.0,493.1L676.8,494.5L674.9,494.9" fill="none" stroke="#a4a9b0" stroke-width="1.4" stroke-linejoin="round" stroke-linecap="round"/>
<path d="M672.5,494.2L674.5,495.2L677.4,495.0L678.1,497.1" fill="none" stroke="#a4a9b0" stroke-width="1.4" stroke-linejoin="round" stroke-linecap="round"/>
<path d="M670.7,499.3L669.2,497.5L667.3,497.9" fill="none" stroke="#a4a9b0" stroke-width="1.4" stroke-linejoin="round" stroke-linecap="round"/>
<path d="M678.6,496.6L681.0,496.0L682.8,494.8" fill="none" stroke="#a4a9b0" stroke-width="1.4" stroke-linejoin="round" stroke-linecap="round"/>
<path d="M676.0,491.6L673.5,493.2L671.9,493.8L669.1,494.5" fill="none" stroke="#a4a9b0" stroke-width="1.4" stroke-linejoin="round" stroke-linecap="round"/>
<path d="M676.9,498.4L677.8,496.4L676.2,494.9" fill="none" stroke="#a4a9b0" stroke-width="1.4" stroke-linejoin="round" stroke-linecap="round"/>
<path d="M671.6,502.9L672.7,501.6L672.9,500.2" fill="none" stroke="#a4a9b0" stroke-width="1.4" stroke-linejoin="round" stroke-linecap="round"/>
<path d="M665.9,500.2L664.8,499.6L663.5,501.2L661.5,501.7L660.1,502.2" fill="none" stroke="#a4a9b0" stroke-width="1.4" stroke-linejoin="round" stroke-linecap="round"/>
<path d="M671.3,499.1L670.1,501.9L670.0,504.7L668.6,506.9L670.0,508.3" fill="none" stroke="#a4a9b0" stroke-width="1.4" stroke-linejoin="round" stroke-linecap="round"/>
<path d="M664.6,502.8L666.6,501.6L666.2,500.4" fill="none" stroke="#a4a9b0" stroke-width="1.4" stroke-linejoin="round" stroke-linecap="round"/>
<path d="M673.2,499.8L672.8,498.7L670.5,497.7L669.5,496.3" fill="none" stroke="#a4a9b0" stroke-width="1.4" stroke-linejoin="round" stroke-linecap="round"/>
<path d="M667.9,501.7L670.8,501.4L671.5,502.7L672.2,505.6" fill="none" stroke="#a4a9b0" stroke-width="1.4" stroke-linejoin="round" stroke-linecap="round"/>
<path d="M671.8,503.3L673.9,502.5L674.8,500.0L673.8,497.8" fill="none" stroke="#a4a9b0" stroke-width="1.4" stroke-linejoin="round" stroke-linecap="round"/>
<path d="M672.5,501.9L670.7,501.4L669.1,502.9" fill="none" stroke="#a4a9b0" stroke-width="1.4" stroke-linejoin="round" stroke-linecap="round"/>
<path d="M670.3,498.3L672.2,498.8L673.2,500.9" fill="none" stroke="#a4a9b0" stroke-width="1.4" stroke-linejoin="round" stroke-linecap="round"/>
<path d="M667.2,503.9L666.4,502.1L667.1,501.0L666.7,498.9L666.3,497.4" fill="none" stroke="#a4a9b0" stroke-width="1.4" stroke-linejoin="round" stroke-linecap="round"/>
<path d="M665.5,501.0L666.9,502.0L668.8,504.2L668.1,506.2L668.8,507.7" fill="none" stroke="#a4a9b0" stroke-width="1.4" stroke-linejoin="round" stroke-linecap="round"/>
<path d="M696.7,488.8L696.3,486.4L697.6,483.9L696.4,483.0L697.9,480.9" fill="none" stroke="#a4a9b0" stroke-width="1.4" stroke-linejoin="round" stroke-linecap="round"/>
<path d="M692.0,488.2L690.4,487.9L689.3,488.9" fill="none" stroke="#a4a9b0" stroke-width="1.4" stroke-linejoin="round" stroke-linecap="round"/>
<path d="M693.6,489.1L693.5,487.8L692.6,486.8L692.3,484.9" fill="none" stroke="#a4a9b0" stroke-width="1.4" stroke-linejoin="round" stroke-linecap="round"/>
<path d="M692.8,485.3L691.4,486.8L689.8,486.5" fill="none" stroke="#a4a9b0" stroke-width="1.4" stroke-linejoin="round" stroke-linecap="round"/>
<path d="M693.9,489.9L693.8,491.3L691.2,491.8" fill="none" stroke="#a4a9b0" stroke-width="1.4" stroke-linejoin="round" stroke-linecap="round"/>
<path d="M698.9,485.7L697.2,486.6L697.2,489.5L698.9,490.8" fill="none" stroke="#a4a9b0" stroke-width="1.4" stroke-linejoin="round" stroke-linecap="round"/>
<path d="M695.8,486.4L694.7,487.6L694.4,490.1L694.5,492.0" fill="none" stroke="#a4a9b0" stroke-width="1.4" stroke-linejoin="round" stroke-linecap="round"/>
<path d="M690.0,488.7L692.3,489.9L694.4,492.0L697.0,491.9L697.9,493.8" fill="none" stroke="#a4a9b0" stroke-width="1.4" stroke-linejoin="round" stroke-linecap="round"/>
<path d="M694.4,488.9L694.7,490.9L693.1,493.2" fill="none" stroke="#a4a9b0" stroke-width="1.4" stroke-linejoin="round" stroke-linecap="round"/>
<path d="M699.8,486.9L700.7,484.7L702.4,484.1L703.2,481.5L704.2,479.7" fill="none" stroke="#a4a9b0" stroke-width="1.4" stroke-linejoin="round" stroke-linecap="round"/>
<path d="M707.6,488.0L709.7,490.0L711.0,490.3" fill="none" stroke="#a4a9b0" stroke-width="1.4" stroke-linejoin="round" stroke-linecap="round"/>
<path d="M705.2,485.4L703.4,484.7L701.5,483.9" fill="none" stroke="#a4a9b0" stroke-width="1.4" stroke-linejoin="round" stroke-linecap="round"/>
<path d="M706.6,485.1L708.3,485.1L709.5,485.4L711.0,486.2" fill="none" stroke="#a4a9b0" stroke-width="1.4" stroke-linejoin="round" stroke-linecap="round"/>
<path d="M703.5,484.2L704.5,486.2L704.5,487.5L706.4,487.8" fill="none" stroke="#a4a9b0" stroke-width="1.4" stroke-linejoin="round" stroke-linecap="round"/>
<path d="M707.4,486.8L709.2,486.6L709.9,484.1L710.7,483.2L713.7,483.3" fill="none" stroke="#a4a9b0" stroke-width="1.4" stroke-linejoin="round" stroke-linecap="round"/>
<path d="M703.9,485.9L705.8,484.8L705.4,483.2" fill="none" stroke="#a4a9b0" stroke-width="1.4" stroke-linejoin="round" stroke-linecap="round"/>
<path d="M701.7,486.0L701.6,487.6L701.8,488.9" fill="none" stroke="#a4a9b0" stroke-width="1.4" stroke-linejoin="round" stroke-linecap="round"/>
<path d="M706.6,485.0L704.8,484.4L703.0,484.8L701.5,484.3" fill="none" stroke="#a4a9b0" stroke-width="1.4" stroke-linejoin="round" stroke-linecap="round"/>
<path d="M709.0,488.0L708.1,486.4L708.2,484.4" fill="none" stroke="#a4a9b0" stroke-width="1.4" stroke-linejoin="round" stroke-linecap="round"/>
<path d="M709.5,488.7L708.2,489.3L708.4,491.0L707.2,491.5" fill="none" stroke="#a4a9b0" stroke-width="1.4" stroke-linejoin="round" stroke-linecap="round"/>
<path d="M709.2,488.6L709.4,486.7L708.8,485.0" fill="none" stroke="#a4a9b0" stroke-width="1.4" stroke-linejoin="round" stroke-linecap="round"/>
<path d="M714.9,489.4L712.8,488.2L712.8,485.7L713.4,484.3L716.1,483.5" fill="none" stroke="#a4a9b0" stroke-width="1.4" stroke-linejoin="round" stroke-linecap="round"/>
<path d="M710.5,494.8L708.8,495.4L707.5,497.7" fill="none" stroke="#a4a9b0" stroke-width="1.4" stroke-linejoin="round" stroke-linecap="round"/>
<path d="M715.3,491.5L717.3,490.5L718.7,489.1" fill="none" stroke="#a4a9b0" stroke-width="1.4" stroke-linejoin="round" stroke-linecap="round"/>
<path d="M716.7,491.6L714.9,490.0L713.2,490.7L713.7,492.8" fill="none" stroke="#a4a9b0" stroke-width="1.4" stroke-linejoin="round" stroke-linecap="round"/>
<path d="M714.9,489.9L714.2,492.3L712.7,492.4L710.5,493.5" fill="none" stroke="#a4a9b0" stroke-width="1.4" stroke-linejoin="round" stroke-linecap="round"/>
<path d="M635.7,542.5L633.9,543.4L632.0,543.8L630.5,541.5" fill="none" stroke="#a4a9b0" stroke-width="1.4" stroke-linejoin="round" stroke-linecap="round"/>
<path d="M633.6,541.6L635.0,541.9L636.6,541.5L638.5,540.4L638.1,538.0" fill="none" stroke="#a4a9b0" stroke-width="1.4" stroke-linejoin="round" stroke-linecap="round"/>
<path d="M635.4,543.6L636.0,542.0L635.4,540.9L637.1,539.0L636.4,537.5" fill="none" stroke="#a4a9b0" stroke-width="1.4" stroke-linejoin="round" stroke-linecap="round"/>
<path d="M637.4,541.0L636.5,539.8L635.3,538.8L634.0,536.8" fill="none" stroke="#a4a9b0" stroke-width="1.4" stroke-linejoin="round" stroke-linecap="round"/>
<path d="M632.0,540.7L630.5,539.6L628.6,541.4L626.2,540.1" fill="none" stroke="#a4a9b0" stroke-width="1.4" stroke-linejoin="round" stroke-linecap="round"/>
<path d="M633.3,532.6L634.1,533.7L634.9,535.0L635.9,536.2" fill="none" stroke="#a4a9b0" stroke-width="1.4" stroke-linejoin="round" stroke-linecap="round"/>
<path d="M638.2,539.4L635.6,540.5L634.7,539.6L633.1,540.2" fill="none" stroke="#a4a9b0" stroke-width="1.4" stroke-linejoin="round" stroke-linecap="round"/>
<path d="M631.6,537.9L630.5,539.7L628.3,539.5L627.4,541.5" fill="none" stroke="#a4a9b0" stroke-width="1.4" stroke-linejoin="round" stroke-linecap="round"/>
<path d="M630.2,538.8L628.6,539.6L627.2,539.5L624.8,539.1L624.1,537.5" fill="none" stroke="#a4a9b0" stroke-width="1.4" stroke-linejoin="round" stroke-linecap="round"/>
<path d="M632.5,533.7L631.9,531.6L629.1,531.0" fill="none" stroke="#a4a9b0" stroke-width="1.4" stroke-linejoin="round" stroke-linecap="round"/>
<path d="M630.2,536.7L628.6,536.3L628.0,534.8L625.9,534.9" fill="none" stroke="#a4a9b0" stroke-width="1.4" stroke-linejoin="round" stroke-linecap="round"/>
<path d="M634.1,541.1L635.2,542.4L637.2,544.4L639.4,546.0L642.1,545.5" fill="none" stroke="#a4a9b0" stroke-width="1.4" stroke-linejoin="round" stroke-linecap="round"/>
<path d="M630.8,538.7L631.6,541.0L630.2,542.0L629.0,543.8L629.2,545.1" fill="none" stroke="#a4a9b0" stroke-width="1.4" stroke-linejoin="round" stroke-linecap="round"/>
<path d="M629.6,535.5L628.9,534.3L627.9,531.9L626.3,530.1" fill="none" stroke="#a4a9b0" stroke-width="1.4" stroke-linejoin="round" stroke-linecap="round"/>
<path d="M627.2,536.4L625.9,538.5L626.1,540.7L627.5,542.7" fill="none" stroke="#a4a9b0" stroke-width="1.4" stroke-linejoin="round" stroke-linecap="round"/>
<path d="M634.7,540.8L633.5,538.8L631.0,537.3" fill="none" stroke="#a4a9b0" stroke-width="1.4" stroke-linejoin="round" stroke-linecap="round"/>
<path d="M645.4,543.1L645.8,541.1L645.3,538.4" fill="none" stroke="#a4a9b0" stroke-width="1.4" stroke-linejoin="round" stroke-linecap="round"/>
<path d="M641.9,547.3L641.4,545.1L640.1,544.9L637.3,544.6" fill="none" stroke="#a4a9b0" stroke-width="1.4" stroke-linejoin="round" stroke-linecap="round"/>
<path d="M645.5,548.0L643.8,548.2L643.0,550.9" fill="none" stroke="#a4a9b0" stroke-width="1.4" stroke-linejoin="round" stroke-linecap="round"/>
<path d="M643.9,544.5L644.9,543.0L644.6,541.1L646.4,540.6" fill="none" stroke="#a4a9b0" stroke-width="1.4" stroke-linejoin="round" stroke-linecap="round"/>
<path d="M643.4,538.3L646.1,537.4L648.1,538.1L649.5,539.7" fill="none" stroke="#a4a9b0" stroke-width="1.4" stroke-linejoin="round" stroke-linecap="round"/>
<path d="M640.5,540.2L642.6,539.9L643.5,542.2" fill="none" stroke="#a4a9b0" stroke-width="1.4" stroke-linejoin="round" stroke-linecap="round"/>
<path d="M646.2,540.6L643.9,540.6L642.9,541.8" fill="none" stroke="#a4a9b0" stroke-width="1.4" stroke-linejoin="round" stroke-linecap="round"/>
<path d="M637.1,543.9L635.8,541.9L633.1,541.4L631.4,540.3L631.4,538.4" fill="none" stroke="#a4a9b0" stroke-width="1.4" stroke-linejoin="round" stroke-linecap="round"/>
<path d="M647.0,544.6L646.8,546.2L648.3,548.0" fill="none" stroke="#a4a9b0" stroke-width="1.4" stroke-linejoin="round" stroke-linecap="round"/>
<path d="M645.6,548.4L646.8,545.8L648.5,543.3L649.7,541.8" fill="none" stroke="#a4a9b0" stroke-width="1.4" stroke-linejoin="round" stroke-linecap="round"/>
<path d="M645.1,548.2L646.4,549.2L646.7,551.3L647.4,553.3" fill="none" stroke="#a4a9b0" stroke-width="1.4" stroke-linejoin="round" stroke-linecap="round"/>
<path d="M645.8,546.8L645.5,545.1L642.8,544.3" fill="none" stroke="#a4a9b0" stroke-width="1.4" stroke-linejoin="round" stroke-linecap="round"/>
<path d="M647.2,545.3L649.6,546.2L652.0,545.5L653.0,546.9" fill="none" stroke="#a4a9b0" stroke-width="1.4" stroke-linejoin="round" stroke-linecap="round"/>
<path d="M640.4,542.2L638.4,542.2L638.2,543.6L637.1,546.0L636.6,547.5" fill="none" stroke="#a4a9b0" stroke-width="1.4" stroke-linejoin="round" stroke-linecap="round"/>
<path d="M639.0,540.2L641.4,540.5L642.9,538.0" fill="none" stroke="#a4a9b0" stroke-width="1.4" stroke-linejoin="round" stroke-linecap="round"/>
<path d="M644.2,544.8L645.3,545.3L647.9,544.7L648.7,543.4L650.6,541.7" fill="none" stroke="#a4a9b0" stroke-width="1.4" stroke-linejoin="round" stroke-linecap="round"/>
<path d="M641.8,544.2L640.7,545.4L638.5,545.7L636.3,544.0" fill="none" stroke="#a4a9b0" stroke-width="1.4" stroke-linejoin="round" stroke-linecap="round"/>
<path d="M648.9,547.5L649.1,545.1L651.3,544.4" fill="none" stroke="#a4a9b0" stroke-width="1.4" stroke-linejoin="round" stroke-linecap="round"/>
<path d="M647.6,544.3L646.6,545.1L644.6,546.9L643.2,546.4" fill="none" stroke="#a4a9b0" stroke-width="1.4" stroke-linejoin="round" stroke-linecap="round"/>
<path d="M656.3,546.4L655.8,548.7L653.7,550.4" fill="none" stroke="#a4a9b0" stroke-width="1.4" stroke-linejoin="round" stroke-linecap="round"/>
<path d="M651.4,541.9L653.5,543.0L653.0,545.1L652.1,546.5" fill="none" stroke="#a4a9b0" stroke-width="1.4" stroke-linejoin="round" stroke-linecap="round"/>
<path d="M654.4,550.4L651.7,550.1L649.3,549.0L649.3,546.7" fill="none" stroke="#a4a9b0" stroke-width="1.4" stroke-linejoin="round" stroke-linecap="round"/>
<path d="M655.0,547.6L656.4,549.4L655.6,551.1L652.6,550.7" fill="none" stroke="#a4a9b0" stroke-width="1.4" stroke-linejoin="round" stroke-linecap="round"/>
<path d="M653.6,541.8L653.4,544.4L654.0,545.8L656.2,547.3" fill="none" stroke="#a4a9b0" stroke-width="1.4" stroke-linejoin="round" stroke-linecap="round"/>
<path d="M654.9,544.3L652.6,543.8L651.3,542.5" fill="none" stroke="#a4a9b0" stroke-width="1.4" stroke-linejoin="round" stroke-linecap="round"/>
<path d="M657.1,545.3L657.3,543.5L659.0,541.8L661.3,542.9" fill="none" stroke="#a4a9b0" stroke-width="1.4" stroke-linejoin="round" stroke-linecap="round"/>
<path d="M653.4,542.6L654.3,541.2L652.4,539.4L652.3,538.2" fill="none" stroke="#a4a9b0" stroke-width="1.4" stroke-linejoin="round" stroke-linecap="round"/>
<path d="M651.8,544.5L654.6,544.1L656.0,546.0L657.8,546.4L659.5,545.7" fill="none" stroke="#a4a9b0" stroke-width="1.4" stroke-linejoin="round" stroke-linecap="round"/>
<path d="M650.4,545.5L651.9,544.6L653.2,543.6L654.9,544.5" fill="none" stroke="#a4a9b0" stroke-width="1.4" stroke-linejoin="round" stroke-linecap="round"/>
<path d="M650.3,542.5L652.6,543.0L654.5,543.9" fill="none" stroke="#a4a9b0" stroke-width="1.4" stroke-linejoin="round" stroke-linecap="round"/>
<path d="M650.4,548.3L648.3,549.3L646.0,549.2L644.0,549.0L642.5,548.3" fill="none" stroke="#a4a9b0" stroke-width="1.4" stroke-linejoin="round" stroke-linecap="round"/>
<path d="M657.2,546.3L659.1,547.8L658.8,550.0L657.1,550.3L654.8,552.1" fill="none" stroke="#a4a9b0" stroke-width="1.4" stroke-linejoin="round" stroke-linecap="round"/>
<path d="M663.2,549.2L664.6,549.6L666.0,549.8L667.7,548.9" fill="none" stroke="#a4a9b0" stroke-width="1.4" stroke-linejoin="round" stroke-linecap="round"/>
<path d="M665.2,547.0L662.7,547.2L662.6,550.1L663.8,550.7L665.6,550.3" fill="none" stroke="#a4a9b0" stroke-width="1.4" stroke-linejoin="round" stroke-linecap="round"/>
<path d="M660.0,545.1L660.9,542.9L660.4,540.5L658.6,539.6" fill="none" stroke="#a4a9b0" stroke-width="1.4" stroke-linejoin="round" stroke-linecap="round"/>
<path d="M664.3,547.8L663.8,550.0L661.3,550.7L661.0,553.5" fill="none" stroke="#a4a9b0" stroke-width="1.4" stroke-linejoin="round" stroke-linecap="round"/>
<path d="M660.2,544.1L661.5,541.8L663.3,539.5L665.8,540.5L667.5,540.4" fill="none" stroke="#a4a9b0" stroke-width="1.4" stroke-linejoin="round" stroke-linecap="round"/>
<path d="M660.7,548.3L661.7,546.4L661.6,544.0" fill="none" stroke="#a4a9b0" stroke-width="1.4" stroke-linejoin="round" stroke-linecap="round"/>
<path d="M662.1,552.4L663.7,554.1L663.7,555.9" fill="none" stroke="#a4a9b0" stroke-width="1.4" stroke-linejoin="round" stroke-linecap="round"/>
<path d="M663.6,545.9L662.3,543.2L660.2,541.1L658.7,539.1" fill="none" stroke="#a4a9b0" stroke-width="1.4" stroke-linejoin="round" stroke-linecap="round"/>
<path d="M664.1,544.1L662.6,542.4L661.3,541.8L661.7,540.3" fill="none" stroke="#a4a9b0" stroke-width="1.4" stroke-linejoin="round" stroke-linecap="round"/>
<path d="M661.3,552.1L659.7,553.2L658.3,554.4" fill="none" stroke="#a4a9b0" stroke-width="1.4" stroke-linejoin="round" stroke-linecap="round"/>
<path d="M659.3,544.7L660.3,542.2L661.5,542.0L663.6,541.1" fill="none" stroke="#a4a9b0" stroke-width="1.4" stroke-linejoin="round" stroke-linecap="round"/>
<path d="M662.9,543.9L661.5,541.8L662.1,540.4" fill="none" stroke="#a4a9b0" stroke-width="1.4" stroke-linejoin="round" stroke-linecap="round"/>
<path d="M662.5,547.0L663.8,548.1L665.7,547.5L667.3,546.6L667.7,545.0" fill="none" stroke="#a4a9b0" stroke-width="1.4" stroke-linejoin="round" stroke-linecap="round"/>
<path d="M662.6,548.0L664.3,548.3L665.5,547.0" fill="none" stroke="#a4a9b0" stroke-width="1.4" stroke-linejoin="round" stroke-linecap="round"/>
<path d="M664.4,549.8L664.6,551.0L664.3,553.4L663.2,554.2L664.5,556.7" fill="none" stroke="#a4a9b0" stroke-width="1.4" stroke-linejoin="round" stroke-linecap="round"/>
<path d="M661.0,558.5L662.1,556.5L661.2,553.9L662.2,552.6L663.8,552.2" fill="none" stroke="#a4a9b0" stroke-width="1.4" stroke-linejoin="round" stroke-linecap="round"/>
<path d="M661.6,558.8L660.1,558.8L659.3,561.0L658.5,562.1" fill="none" stroke="#a4a9b0" stroke-width="1.4" stroke-linejoin="round" stroke-linecap="round"/>
<path d="M659.7,557.7L658.7,556.2L657.5,554.1L657.1,552.0L656.2,549.9" fill="none" stroke="#a4a9b0" stroke-width="1.4" stroke-linejoin="round" stroke-linecap="round"/>
<path d="M665.7,553.1L663.8,554.6L663.0,557.1" fill="none" stroke="#a4a9b0" stroke-width="1.4" stroke-linejoin="round" stroke-linecap="round"/>
<path d="M658.6,548.4L659.5,550.9L661.2,551.6L663.6,552.1" fill="none" stroke="#a4a9b0" stroke-width="1.4" stroke-linejoin="round" stroke-linecap="round"/>
<path d="M659.6,557.5L659.7,555.5L658.1,553.9L656.8,551.5" fill="none" stroke="#a4a9b0" stroke-width="1.4" stroke-linejoin="round" stroke-linecap="round"/>
<path d="M657.5,550.9L657.5,549.6L659.4,547.9L658.6,545.7" fill="none" stroke="#a4a9b0" stroke-width="1.4" stroke-linejoin="round" stroke-linecap="round"/>
<path d="M660.4,553.6L658.1,552.6L656.8,550.2L659.0,548.5" fill="none" stroke="#a4a9b0" stroke-width="1.4" stroke-linejoin="round" stroke-linecap="round"/>
<path d="M662.9,548.5L662.2,546.3L663.9,545.5L665.9,545.1" fill="none" stroke="#a4a9b0" stroke-width="1.4" stroke-linejoin="round" stroke-linecap="round"/>
<path d="M665.8,552.7L664.2,550.3L662.5,549.8L660.7,549.6L659.7,547.4" fill="none" stroke="#a4a9b0" stroke-width="1.4" stroke-linejoin="round" stroke-linecap="round"/>
<path d="M665.5,551.4L663.5,552.8L664.2,555.5" fill="none" stroke="#a4a9b0" stroke-width="1.4" stroke-linejoin="round" stroke-linecap="round"/>
<path d="M664.2,550.6L662.7,553.1L660.7,553.3L660.2,554.5L660.3,555.8" fill="none" stroke="#a4a9b0" stroke-width="1.4" stroke-linejoin="round" stroke-linecap="round"/>
<path d="M666.3,550.7L665.1,551.1L664.6,553.8L664.2,556.1" fill="none" stroke="#a4a9b0" stroke-width="1.4" stroke-linejoin="round" stroke-linecap="round"/>
<path d="M653.7,562.0L655.1,563.0L655.9,564.5" fill="none" stroke="#a4a9b0" stroke-width="1.4" stroke-linejoin="round" stroke-linecap="round"/>
<path d="M659.4,559.0L660.6,559.4L660.4,561.2L658.7,561.1L658.3,559.4" fill="none" stroke="#a4a9b0" stroke-width="1.4" stroke-linejoin="round" stroke-linecap="round"/>
<path d="M659.8,560.0L662.0,561.7L662.5,564.3" fill="none" stroke="#a4a9b0" stroke-width="1.4" stroke-linejoin="round" stroke-linecap="round"/>
<path d="M646.1,563.0L645.7,561.5L647.9,559.7L650.8,559.7L652.1,562.3" fill="none" stroke="#a4a9b0" stroke-width="1.4" stroke-linejoin="round" stroke-linecap="round"/>
<path d="M648.5,562.3L651.4,562.3L652.5,563.5L653.9,565.1" fill="none" stroke="#a4a9b0" stroke-width="1.4" stroke-linejoin="round" stroke-linecap="round"/>
<path d="M656.9,559.8L656.5,561.8L658.0,562.8L659.0,565.5" fill="none" stroke="#a4a9b0" stroke-width="1.4" stroke-linejoin="round" stroke-linecap="round"/>
<path d="M653.2,562.4L654.1,563.6L655.8,563.7" fill="none" stroke="#a4a9b0" stroke-width="1.4" stroke-linejoin="round" stroke-linecap="round"/>
<path d="M650.1,562.5L651.4,560.7L651.1,558.7L648.4,557.4L648.1,556.1" fill="none" stroke="#a4a9b0" stroke-width="1.4" stroke-linejoin="round" stroke-linecap="round"/>
<path d="M648.1,564.6L648.3,566.6L647.2,568.6L646.1,569.9" fill="none" stroke="#a4a9b0" stroke-width="1.4" stroke-linejoin="round" stroke-linecap="round"/>
<path d="M648.3,563.7L648.3,562.3L647.0,561.0L647.8,559.3" fill="none" stroke="#a4a9b0" stroke-width="1.4" stroke-linejoin="round" stroke-linecap="round"/>
<path d="M651.2,560.0L649.2,561.7L647.8,562.4L648.2,563.8" fill="none" stroke="#a4a9b0" stroke-width="1.4" stroke-linejoin="round" stroke-linecap="round"/>
<path d="M652.6,557.2L653.6,555.6L652.0,553.4L649.9,552.7" fill="none" stroke="#a4a9b0" stroke-width="1.4" stroke-linejoin="round" stroke-linecap="round"/>
<path d="M654.9,561.3L656.2,561.8L657.3,561.0L656.5,559.2L655.5,556.4" fill="none" stroke="#a4a9b0" stroke-width="1.4" stroke-linejoin="round" stroke-linecap="round"/>
<path d="M648.3,564.5L648.8,562.7L649.8,561.1" fill="none" stroke="#a4a9b0" stroke-width="1.4" stroke-linejoin="round" stroke-linecap="round"/>
<path d="M653.1,559.4L654.3,558.7L656.1,557.9L658.1,557.2L659.2,559.2" fill="none" stroke="#a4a9b0" stroke-width="1.4" stroke-linejoin="round" stroke-linecap="round"/>
<path d="M646.4,562.4L647.9,564.3L649.6,564.6" fill="none" stroke="#a4a9b0" stroke-width="1.4" stroke-linejoin="round" stroke-linecap="round"/>
<path d="M654.6,559.7L657.0,558.3L657.0,556.7" fill="none" stroke="#a4a9b0" stroke-width="1.4" stroke-linejoin="round" stroke-linecap="round"/>
<path d="M655.5,558.2L657.3,557.6L657.0,556.0" fill="none" stroke="#a4a9b0" stroke-width="1.4" stroke-linejoin="round" stroke-linecap="round"/>
<path d="M646.7,564.3L644.3,564.0L642.1,563.9L641.5,565.5" fill="none" stroke="#a4a9b0" stroke-width="1.4" stroke-linejoin="round" stroke-linecap="round"/>
<path d="M657.2,561.3L655.9,562.6L653.7,561.9L652.7,561.0" fill="none" stroke="#a4a9b0" stroke-width="1.4" stroke-linejoin="round" stroke-linecap="round"/>
<path d="M650.0,561.4L649.5,562.9L647.7,563.4L645.9,561.4L643.8,562.4" fill="none" stroke="#a4a9b0" stroke-width="1.4" stroke-linejoin="round" stroke-linecap="round"/>
<path d="M647.3,564.0L648.2,566.7L648.7,568.9" fill="none" stroke="#a4a9b0" stroke-width="1.4" stroke-linejoin="round" stroke-linecap="round"/>
<path d="M643.1,550.3L644.2,549.0L644.7,546.6" fill="none" stroke="#a4a9b0" stroke-width="1.4" stroke-linejoin="round" stroke-linecap="round"/>
<path d="M642.7,559.1L641.1,557.8L638.2,557.4L638.3,554.8L636.6,554.5" fill="none" stroke="#a4a9b0" stroke-width="1.4" stroke-linejoin="round" stroke-linecap="round"/>
<path d="M642.7,559.1L642.7,560.7L642.7,563.2" fill="none" stroke="#a4a9b0" stroke-width="1.4" stroke-linejoin="round" stroke-linecap="round"/>
<path d="M643.7,551.5L642.3,550.4L640.5,552.3L639.6,553.9" fill="none" stroke="#a4a9b0" stroke-width="1.4" stroke-linejoin="round" stroke-linecap="round"/>
<path d="M643.0,555.7L643.7,557.5L644.9,558.3L645.6,560.1" fill="none" stroke="#a4a9b0" stroke-width="1.4" stroke-linejoin="round" stroke-linecap="round"/>
<path d="M642.4,554.1L640.1,553.3L639.3,554.3" fill="none" stroke="#a4a9b0" stroke-width="1.4" stroke-linejoin="round" stroke-linecap="round"/>
<path d="M643.0,556.5L644.7,557.5L646.5,558.5L647.7,559.3L649.8,558.9" fill="none" stroke="#a4a9b0" stroke-width="1.4" stroke-linejoin="round" stroke-linecap="round"/>
<path d="M642.0,554.0L643.6,553.7L646.5,554.2L647.2,555.8" fill="none" stroke="#a4a9b0" stroke-width="1.4" stroke-linejoin="round" stroke-linecap="round"/>
<path d="M643.4,553.1L643.8,554.8L644.2,557.7L645.2,559.8L648.0,560.6" fill="none" stroke="#a4a9b0" stroke-width="1.4" stroke-linejoin="round" stroke-linecap="round"/>
<path d="M641.2,561.5L641.5,559.7L642.4,557.8L643.4,557.1L643.0,555.0" fill="none" stroke="#a4a9b0" stroke-width="1.4" stroke-linejoin="round" stroke-linecap="round"/>
<path d="M641.0,560.7L642.0,558.0L640.9,556.2L641.1,554.6" fill="none" stroke="#a4a9b0" stroke-width="1.4" stroke-linejoin="round" stroke-linecap="round"/>
<path d="M636.6,564.9L635.6,564.1L634.4,563.5" fill="none" stroke="#a4a9b0" stroke-width="1.4" stroke-linejoin="round" stroke-linecap="round"/>
<path d="M644.5,564.7L642.6,563.0L641.5,562.4" fill="none" stroke="#a4a9b0" stroke-width="1.4" stroke-linejoin="round" stroke-linecap="round"/>
<path d="M639.9,566.4L641.6,564.5L644.0,564.2L644.2,561.9L644.9,560.7" fill="none" stroke="#a4a9b0" stroke-width="1.4" stroke-linejoin="round" stroke-linecap="round"/>
<path d="M639.7,563.9L638.0,565.6L639.2,567.1" fill="none" stroke="#a4a9b0" stroke-width="1.4" stroke-linejoin="round" stroke-linecap="round"/>
<path d="M637.6,566.8L635.0,566.0L633.8,563.8L632.9,561.6" fill="none" stroke="#a4a9b0" stroke-width="1.4" stroke-linejoin="round" stroke-linecap="round"/>
<path d="M640.2,563.7L641.6,566.2L642.6,568.3L642.5,569.6L640.3,570.8" fill="none" stroke="#a4a9b0" stroke-width="1.4" stroke-linejoin="round" stroke-linecap="round"/>
<path d="M589.8,563.0L589.9,561.1L588.6,559.7L586.5,560.8L585.7,559.5" fill="none" stroke="#a4a9b0" stroke-width="1.4" stroke-linejoin="round" stroke-linecap="round"/>
<path d="M587.9,566.1L588.0,568.0L589.5,568.1L589.9,569.6L589.8,571.8" fill="none" stroke="#a4a9b0" stroke-width="1.4" stroke-linejoin="round" stroke-linecap="round"/>
<path d="M584.1,569.6L584.8,567.6L584.0,566.4" fill="none" stroke="#a4a9b0" stroke-width="1.4" stroke-linejoin="round" stroke-linecap="round"/>
<path d="M585.0,568.0L582.6,568.0L581.5,567.7L580.4,567.2" fill="none" stroke="#a4a9b0" stroke-width="1.4" stroke-linejoin="round" stroke-linecap="round"/>
<path d="M584.8,567.5L585.3,569.5L585.5,570.8L584.3,571.6" fill="none" stroke="#a4a9b0" stroke-width="1.4" stroke-linejoin="round" stroke-linecap="round"/>
<path d="M588.1,565.4L587.4,566.7L587.8,567.9" fill="none" stroke="#a4a9b0" stroke-width="1.4" stroke-linejoin="round" stroke-linecap="round"/>
<path d="M579.3,571.9L578.2,574.5L575.6,574.8L573.7,574.5L572.3,572.9" fill="none" stroke="#a4a9b0" stroke-width="1.4" stroke-linejoin="round" stroke-linecap="round"/>
<path d="M586.2,567.1L584.2,568.5L582.8,568.6L581.8,570.7L580.3,571.0" fill="none" stroke="#a4a9b0" stroke-width="1.4" stroke-linejoin="round" stroke-linecap="round"/>
<path d="M586.6,567.7L584.7,566.8L583.1,568.9L580.8,567.8" fill="none" stroke="#a4a9b0" stroke-width="1.4" stroke-linejoin="round" stroke-linecap="round"/>
<path d="M590.3,564.7L592.2,566.9L594.3,568.3L593.8,569.8L595.1,571.0" fill="none" stroke="#a4a9b0" stroke-width="1.4" stroke-linejoin="round" stroke-linecap="round"/>
<path d="M587.4,571.5L590.0,572.7L590.7,574.1" fill="none" stroke="#a4a9b0" stroke-width="1.4" stroke-linejoin="round" stroke-linecap="round"/>
<path d="M581.1,571.3L582.9,572.7L585.3,571.1" fill="none" stroke="#a4a9b0" stroke-width="1.4" stroke-linejoin="round" stroke-linecap="round"/>
<path d="M579.2,572.0L581.8,571.1L584.7,570.6L587.5,570.5L589.1,572.4" fill="none" stroke="#a4a9b0" stroke-width="1.4" stroke-linejoin="round" stroke-linecap="round"/>
<path d="M587.8,565.0L586.6,563.7L585.0,562.9L585.4,561.5" fill="none" stroke="#a4a9b0" stroke-width="1.4" stroke-linejoin="round" stroke-linecap="round"/>
<path d="M590.5,563.1L589.7,564.1L588.5,563.5L587.5,564.9L584.9,565.9" fill="none" stroke="#a4a9b0" stroke-width="1.4" stroke-linejoin="round" stroke-linecap="round"/>
<path d="M582.9,569.0L581.5,571.7L579.0,572.1L578.3,569.6" fill="none" stroke="#a4a9b0" stroke-width="1.4" stroke-linejoin="round" stroke-linecap="round"/>
<path d="M577.0,570.9L578.1,572.0L578.3,575.0L581.1,575.8L582.6,574.4" fill="none" stroke="#a4a9b0" stroke-width="1.4" stroke-linejoin="round" stroke-linecap="round"/>
<path d="M586.5,565.9L585.1,567.6L582.6,569.0" fill="none" stroke="#a4a9b0" stroke-width="1.4" stroke-linejoin="round" stroke-linecap="round"/>
<path d="M591.8,565.0L591.0,562.3L588.4,561.2L586.8,561.1" fill="none" stroke="#a4a9b0" stroke-width="1.4" stroke-linejoin="round" stroke-linecap="round"/>
<path d="M585.5,573.0L583.7,574.4L583.6,576.1" fill="none" stroke="#a4a9b0" stroke-width="1.4" stroke-linejoin="round" stroke-linecap="round"/>
<path d="M599.4,559.8L597.3,560.9L596.2,559.5L593.7,558.9L592.2,559.1" fill="none" stroke="#a4a9b0" stroke-width="1.4" stroke-linejoin="round" stroke-linecap="round"/>
<path d="M595.8,561.9L598.7,562.4L600.5,563.8L602.5,564.5L603.3,566.4" fill="none" stroke="#a4a9b0" stroke-width="1.4" stroke-linejoin="round" stroke-linecap="round"/>
<path d="M604.0,561.0L605.6,561.7L606.7,560.9" fill="none" stroke="#a4a9b0" stroke-width="1.4" stroke-linejoin="round" stroke-linecap="round"/>
<path d="M594.6,562.5L593.9,561.3L592.2,560.7L590.1,559.9" fill="none" stroke="#a4a9b0" stroke-width="1.4" stroke-linejoin="round" stroke-linecap="round"/>
<path d="M597.6,564.7L598.7,562.4L601.5,561.5" fill="none" stroke="#a4a9b0" stroke-width="1.4" stroke-linejoin="round" stroke-linecap="round"/>
<path d="M601.6,558.4L601.6,556.9L599.6,554.8L597.0,555.2L595.5,556.4" fill="none" stroke="#a4a9b0" stroke-width="1.4" stroke-linejoin="round" stroke-linecap="round"/>
<path d="M590.1,560.9L588.8,560.5L587.6,562.9" fill="none" stroke="#a4a9b0" stroke-width="1.4" stroke-linejoin="round" stroke-linecap="round"/>
<path d="M593.0,562.7L591.1,563.0L590.3,560.9L589.8,559.3" fill="none" stroke="#a4a9b0" stroke-width="1.4" stroke-linejoin="round" stroke-linecap="round"/>
<path d="M599.9,560.5L599.4,558.5L600.3,557.6" fill="none" stroke="#a4a9b0" stroke-width="1.4" stroke-linejoin="round" stroke-linecap="round"/>
<path d="M602.9,556.3L604.1,555.2L606.0,555.2L607.4,555.8L609.5,557.7" fill="none" stroke="#a4a9b0" stroke-width="1.4" stroke-linejoin="round" stroke-linecap="round"/>
<path d="M595.4,567.3L595.4,564.6L596.2,563.1" fill="none" stroke="#a4a9b0" stroke-width="1.4" stroke-linejoin="round" stroke-linecap="round"/>
<path d="M599.0,555.3L596.5,554.3L595.1,556.4" fill="none" stroke="#a4a9b0" stroke-width="1.4" stroke-linejoin="round" stroke-linecap="round"/>
<path d="M594.4,565.8L594.9,568.3L597.6,568.1" fill="none" stroke="#a4a9b0" stroke-width="1.4" stroke-linejoin="round" stroke-linecap="round"/>
<path d="M593.6,563.4L594.0,564.5L594.8,566.5" fill="none" stroke="#a4a9b0" stroke-width="1.4" stroke-linejoin="round" stroke-linecap="round"/>
<path d="M603.5,558.0L605.0,559.7L607.1,558.3" fill="none" stroke="#a4a9b0" stroke-width="1.4" stroke-linejoin="round" stroke-linecap="round"/>
<path d="M600.2,559.7L598.6,557.2L600.1,556.1" fill="none" stroke="#a4a9b0" stroke-width="1.4" stroke-linejoin="round" stroke-linecap="round"/>
<path d="M603.3,556.1L603.2,557.3L604.3,558.0L605.9,558.5" fill="none" stroke="#a4a9b0" stroke-width="1.4" stroke-linejoin="round" stroke-linecap="round"/>
<path d="M610.6,558.5L610.5,561.2L612.2,563.1L612.1,564.6" fill="none" stroke="#a4a9b0" stroke-width="1.4" stroke-linejoin="round" stroke-linecap="round"/>
<path d="M613.7,559.6L612.7,557.2L613.1,555.8L613.4,553.8L612.5,551.4" fill="none" stroke="#a4a9b0" stroke-width="1.4" stroke-linejoin="round" stroke-linecap="round"/>
<path d="M607.1,566.2L605.4,567.7L604.7,569.2L605.8,571.0L606.4,573.1" fill="none" stroke="#a4a9b0" stroke-width="1.4" stroke-linejoin="round" stroke-linecap="round"/>
<path d="M612.8,560.2L614.2,562.8L612.4,564.8L610.8,564.2L610.4,562.1" fill="none" stroke="#a4a9b0" stroke-width="1.4" stroke-linejoin="round" stroke-linecap="round"/>
<path d="M608.9,559.5L607.5,558.0L608.0,556.6" fill="none" stroke="#a4a9b0" stroke-width="1.4" stroke-linejoin="round" stroke-linecap="round"/>
<path d="M605.9,556.4L607.2,556.6L609.5,555.6L612.3,555.7L612.6,557.4" fill="none" stroke="#a4a9b0" stroke-width="1.4" stroke-linejoin="round" stroke-linecap="round"/>
<path d="M611.3,556.0L612.5,556.9L614.6,556.2L617.2,556.4L619.5,554.6" fill="none" stroke="#a4a9b0" stroke-width="1.4" stroke-linejoin="round" stroke-linecap="round"/>
<path d="M610.7,559.9L609.3,558.6L610.2,557.2L612.5,556.5L613.9,557.6" fill="none" stroke="#a4a9b0" stroke-width="1.4" stroke-linejoin="round" stroke-linecap="round"/>
<path d="M605.8,557.1L603.5,557.6L603.5,559.3L605.1,561.7" fill="none" stroke="#a4a9b0" stroke-width="1.4" stroke-linejoin="round" stroke-linecap="round"/>
<path d="M612.9,559.6L615.1,559.5L617.8,558.5L619.0,555.8L617.8,554.3" fill="none" stroke="#a4a9b0" stroke-width="1.4" stroke-linejoin="round" stroke-linecap="round"/>
<path d="M614.7,558.1L616.0,556.5L617.0,554.0L619.0,553.3" fill="none" stroke="#a4a9b0" stroke-width="1.4" stroke-linejoin="round" stroke-linecap="round"/>
<path d="M613.3,558.9L612.9,561.2L611.1,561.5L609.8,560.3L607.4,559.0" fill="none" stroke="#a4a9b0" stroke-width="1.4" stroke-linejoin="round" stroke-linecap="round"/>
<path d="M616.9,559.9L616.4,561.9L615.8,563.7L613.7,565.4L612.2,566.3" fill="none" stroke="#a4a9b0" stroke-width="1.4" stroke-linejoin="round" stroke-linecap="round"/>
<path d="M612.0,559.1L610.6,558.7L610.0,556.3L608.8,554.9" fill="none" stroke="#a4a9b0" stroke-width="1.4" stroke-linejoin="round" stroke-linecap="round"/>
<path d="M611.1,559.6L609.7,557.3L608.7,555.9L606.4,555.0L603.7,554.2" fill="none" stroke="#a4a9b0" stroke-width="1.4" stroke-linejoin="round" stroke-linecap="round"/>
<path d="M604.6,558.8L604.6,560.2L604.3,563.2L601.4,563.2" fill="none" stroke="#a4a9b0" stroke-width="1.4" stroke-linejoin="round" stroke-linecap="round"/>
<path d="M621.1,563.4L619.3,563.8L616.9,563.0" fill="none" stroke="#a4a9b0" stroke-width="1.4" stroke-linejoin="round" stroke-linecap="round"/>
<path d="M618.9,563.5L619.0,565.2L620.3,566.7" fill="none" stroke="#a4a9b0" stroke-width="1.4" stroke-linejoin="round" stroke-linecap="round"/>
<path d="M621.9,566.0L621.0,564.8L620.2,563.2L618.8,563.3" fill="none" stroke="#a4a9b0" stroke-width="1.4" stroke-linejoin="round" stroke-linecap="round"/>
<path d="M623.2,567.8L624.8,567.5L624.6,565.8L625.2,564.1L626.6,564.0" fill="none" stroke="#a4a9b0" stroke-width="1.4" stroke-linejoin="round" stroke-linecap="round"/>
<path d="M623.4,567.1L626.1,567.2L627.5,565.1L627.0,563.9L627.0,562.3" fill="none" stroke="#a4a9b0" stroke-width="1.4" stroke-linejoin="round" stroke-linecap="round"/>
<path d="M618.6,561.6L618.5,559.8L620.0,559.2L621.3,559.6" fill="none" stroke="#a4a9b0" stroke-width="1.4" stroke-linejoin="round" stroke-linecap="round"/>
<path d="M620.0,562.5L619.0,561.7L619.8,559.1L619.7,557.3L617.3,556.2" fill="none" stroke="#a4a9b0" stroke-width="1.4" stroke-linejoin="round" stroke-linecap="round"/>
<path d="M621.1,560.7L621.3,559.3L619.1,558.1L618.4,556.5" fill="none" stroke="#a4a9b0" stroke-width="1.4" stroke-linejoin="round" stroke-linecap="round"/>
<path d="M625.6,567.9L623.2,568.2L621.6,568.7L620.2,570.9" fill="none" stroke="#a4a9b0" stroke-width="1.4" stroke-linejoin="round" stroke-linecap="round"/>
<path d="M619.3,567.0L618.6,568.3L619.6,569.3L618.5,570.9" fill="none" stroke="#a4a9b0" stroke-width="1.4" stroke-linejoin="round" stroke-linecap="round"/>
<path d="M619.8,560.6L618.6,560.5L617.3,560.2" fill="none" stroke="#a4a9b0" stroke-width="1.4" stroke-linejoin="round" stroke-linecap="round"/>
<path d="M620.8,561.7L622.2,562.3L622.1,563.7L621.8,566.5" fill="none" stroke="#a4a9b0" stroke-width="1.4" stroke-linejoin="round" stroke-linecap="round"/>
<path d="M622.3,563.0L621.2,565.1L619.6,566.3L617.7,565.4L616.1,566.4" fill="none" stroke="#a4a9b0" stroke-width="1.4" stroke-linejoin="round" stroke-linecap="round"/>
<path d="M622.8,569.5L621.7,568.3L620.0,566.4" fill="none" stroke="#a4a9b0" stroke-width="1.4" stroke-linejoin="round" stroke-linecap="round"/>
<path d="M623.5,565.3L623.9,563.3L625.7,563.1L628.7,562.8" fill="none" stroke="#a4a9b0" stroke-width="1.4" stroke-linejoin="round" stroke-linecap="round"/>
<path d="M614.5,571.5L611.9,571.6L609.9,571.5L607.1,572.3L605.6,572.3" fill="none" stroke="#a4a9b0" stroke-width="1.4" stroke-linejoin="round" stroke-linecap="round"/>
<path d="M620.4,570.1L617.6,569.9L615.1,571.6" fill="none" stroke="#a4a9b0" stroke-width="1.4" stroke-linejoin="round" stroke-linecap="round"/>
<path d="M615.0,575.3L613.6,576.9L612.5,578.1" fill="none" stroke="#a4a9b0" stroke-width="1.4" stroke-linejoin="round" stroke-linecap="round"/>
<path d="M616.4,577.8L617.7,577.5L620.4,577.5L620.7,579.2" fill="none" stroke="#a4a9b0" stroke-width="1.4" stroke-linejoin="round" stroke-linecap="round"/>
<path d="M615.0,576.1L616.8,577.4L618.4,578.4" fill="none" stroke="#a4a9b0" stroke-width="1.4" stroke-linejoin="round" stroke-linecap="round"/>
<path d="M614.6,572.8L616.0,573.9L615.4,576.6L613.5,577.3" fill="none" stroke="#a4a9b0" stroke-width="1.4" stroke-linejoin="round" stroke-linecap="round"/>
<path d="M615.9,575.6L613.0,575.3L611.3,576.8L609.2,576.0" fill="none" stroke="#a4a9b0" stroke-width="1.4" stroke-linejoin="round" stroke-linecap="round"/>
<path d="M618.9,574.4L621.5,574.8L622.8,575.4L625.4,575.2L627.4,574.2" fill="none" stroke="#a4a9b0" stroke-width="1.4" stroke-linejoin="round" stroke-linecap="round"/>
<path d="M620.2,574.7L620.2,572.1L621.6,571.1L624.4,571.4" fill="none" stroke="#a4a9b0" stroke-width="1.4" stroke-linejoin="round" stroke-linecap="round"/>
<path d="M619.1,569.5L620.5,567.2L620.7,565.1" fill="none" stroke="#a4a9b0" stroke-width="1.4" stroke-linejoin="round" stroke-linecap="round"/>
<path d="M619.4,571.7L619.4,573.7L620.6,574.1L620.1,576.7" fill="none" stroke="#a4a9b0" stroke-width="1.4" stroke-linejoin="round" stroke-linecap="round"/>
<path d="M617.1,574.5L619.6,574.7L620.6,572.6L622.7,571.3" fill="none" stroke="#a4a9b0" stroke-width="1.4" stroke-linejoin="round" stroke-linecap="round"/>
<path d="M618.4,572.5L617.0,573.1L616.4,575.9" fill="none" stroke="#a4a9b0" stroke-width="1.4" stroke-linejoin="round" stroke-linecap="round"/>
<path d="M604.3,573.2L603.9,575.0L602.1,576.1" fill="none" stroke="#a4a9b0" stroke-width="1.4" stroke-linejoin="round" stroke-linecap="round"/>
<path d="M598.8,575.2L596.9,576.3L594.5,576.4L593.1,577.2L590.9,577.8" fill="none" stroke="#a4a9b0" stroke-width="1.4" stroke-linejoin="round" stroke-linecap="round"/>
<path d="M605.8,573.3L604.4,574.0L603.1,573.5L601.2,572.9L598.8,571.2" fill="none" stroke="#a4a9b0" stroke-width="1.4" stroke-linejoin="round" stroke-linecap="round"/>
<path d="M602.2,575.5L600.7,577.9L600.6,579.4" fill="none" stroke="#a4a9b0" stroke-width="1.4" stroke-linejoin="round" stroke-linecap="round"/>
<path d="M597.8,577.6L597.8,575.0L597.8,573.6L596.6,573.0" fill="none" stroke="#a4a9b0" stroke-width="1.4" stroke-linejoin="round" stroke-linecap="round"/>
<path d="M598.5,573.5L595.8,573.8L593.9,573.1" fill="none" stroke="#a4a9b0" stroke-width="1.4" stroke-linejoin="round" stroke-linecap="round"/>
<path d="M613.0,575.5L611.6,574.5L612.3,572.9" fill="none" stroke="#a4a9b0" stroke-width="1.4" stroke-linejoin="round" stroke-linecap="round"/>
<path d="M611.3,572.8L612.2,574.5L613.5,574.7L615.7,574.7" fill="none" stroke="#a4a9b0" stroke-width="1.4" stroke-linejoin="round" stroke-linecap="round"/>
<path d="M605.9,572.0L604.3,572.1L602.9,573.7L601.0,574.8" fill="none" stroke="#a4a9b0" stroke-width="1.4" stroke-linejoin="round" stroke-linecap="round"/>
<path d="M614.3,577.5L616.4,576.5L618.9,578.1L618.3,579.1L616.7,579.1" fill="none" stroke="#a4a9b0" stroke-width="1.4" stroke-linejoin="round" stroke-linecap="round"/>
<path d="M599.3,575.4L600.7,577.8L600.9,579.7L602.5,580.5L602.4,581.7" fill="none" stroke="#a4a9b0" stroke-width="1.4" stroke-linejoin="round" stroke-linecap="round"/>
<path d="M612.4,576.4L613.3,575.1L613.9,573.6L613.3,570.7L615.6,569.2" fill="none" stroke="#a4a9b0" stroke-width="1.4" stroke-linejoin="round" stroke-linecap="round"/>
<path d="M600.9,573.1L602.6,575.0L605.0,574.5L607.2,573.5" fill="none" stroke="#a4a9b0" stroke-width="1.4" stroke-linejoin="round" stroke-linecap="round"/>
<path d="M599.3,574.3L599.0,571.4L596.5,570.9" fill="none" stroke="#a4a9b0" stroke-width="1.4" stroke-linejoin="round" stroke-linecap="round"/>
<path d="M614.1,575.8L611.8,575.6L609.6,575.1L608.5,572.4" fill="none" stroke="#a4a9b0" stroke-width="1.4" stroke-linejoin="round" stroke-linecap="round"/>
<path d="M613.8,576.6L615.2,577.6L616.7,577.3L617.8,578.0" fill="none" stroke="#a4a9b0" stroke-width="1.4" stroke-linejoin="round" stroke-linecap="round"/>
<path d="M598.3,575.6L597.2,575.2L595.4,573.9L595.9,572.6L595.1,571.6" fill="none" stroke="#a4a9b0" stroke-width="1.4" stroke-linejoin="round" stroke-linecap="round"/>
<path d="M611.7,577.7L613.1,578.4L612.9,580.2" fill="none" stroke="#a4a9b0" stroke-width="1.4" stroke-linejoin="round" stroke-linecap="round"/>
<path d="M611.3,574.3L612.0,577.2L613.5,577.0" fill="none" stroke="#a4a9b0" stroke-width="1.4" stroke-linejoin="round" stroke-linecap="round"/>
<path d="M607.4,576.4L606.7,578.1L604.6,577.7" fill="none" stroke="#a4a9b0" stroke-width="1.4" stroke-linejoin="round" stroke-linecap="round"/>
<path d="M596.3,570.6L595.0,568.7L595.1,566.7L596.7,566.5" fill="none" stroke="#a4a9b0" stroke-width="1.4" stroke-linejoin="round" stroke-linecap="round"/>
<path d="M596.1,571.7L597.1,574.0L597.2,575.9L595.9,577.9" fill="none" stroke="#a4a9b0" stroke-width="1.4" stroke-linejoin="round" stroke-linecap="round"/>
<path d="M591.5,571.9L592.8,572.3L594.1,572.4" fill="none" stroke="#a4a9b0" stroke-width="1.4" stroke-linejoin="round" stroke-linecap="round"/>
<path d="M597.9,574.8L598.1,573.2L598.7,570.4" fill="none" stroke="#a4a9b0" stroke-width="1.4" stroke-linejoin="round" stroke-linecap="round"/>
<path d="M589.4,573.9L587.2,574.3L586.0,576.5L585.3,577.6" fill="none" stroke="#a4a9b0" stroke-width="1.4" stroke-linejoin="round" stroke-linecap="round"/>
<path d="M597.3,574.0L594.3,574.2L592.6,576.1L591.1,575.5" fill="none" stroke="#a4a9b0" stroke-width="1.4" stroke-linejoin="round" stroke-linecap="round"/>
<path d="M585.5,573.6L586.3,576.4L589.2,575.9L591.5,577.0" fill="none" stroke="#a4a9b0" stroke-width="1.4" stroke-linejoin="round" stroke-linecap="round"/>
<path d="M589.6,580.7L588.7,581.7L586.0,581.4" fill="none" stroke="#a4a9b0" stroke-width="1.4" stroke-linejoin="round" stroke-linecap="round"/>
<path d="M586.3,575.2L585.3,576.4L583.5,576.9" fill="none" stroke="#a4a9b0" stroke-width="1.4" stroke-linejoin="round" stroke-linecap="round"/>
<path d="M587.7,575.1L588.9,575.4L590.9,577.1L591.9,577.8L592.4,579.5" fill="none" stroke="#a4a9b0" stroke-width="1.4" stroke-linejoin="round" stroke-linecap="round"/>
<path d="M592.5,572.4L594.8,571.0L596.2,572.3" fill="none" stroke="#a4a9b0" stroke-width="1.4" stroke-linejoin="round" stroke-linecap="round"/>
<path d="M588.1,574.2L590.6,572.7L592.2,572.5L593.4,571.4" fill="none" stroke="#a4a9b0" stroke-width="1.4" stroke-linejoin="round" stroke-linecap="round"/>
<path d="M596.0,574.2L595.9,576.2L595.4,578.8L594.4,580.6L595.0,582.1" fill="none" stroke="#a4a9b0" stroke-width="1.4" stroke-linejoin="round" stroke-linecap="round"/>
<path d="M591.3,578.5L589.0,580.0L586.3,578.8L583.7,578.6L581.5,578.6" fill="none" stroke="#a4a9b0" stroke-width="1.4" stroke-linejoin="round" stroke-linecap="round"/>
<path d="M591.1,574.9L592.5,573.5L594.6,574.6L593.8,576.9L592.7,579.5" fill="none" stroke="#a4a9b0" stroke-width="1.4" stroke-linejoin="round" stroke-linecap="round"/>
<path d="M585.6,577.5L585.2,574.8L583.5,572.3L583.4,570.2L585.9,569.0" fill="none" stroke="#a4a9b0" stroke-width="1.4" stroke-linejoin="round" stroke-linecap="round"/>
<path d="M721.7,559.4L719.2,561.0L716.4,561.3L716.5,563.9" fill="none" stroke="#a4a9b0" stroke-width="1.4" stroke-linejoin="round" stroke-linecap="round"/>
<path d="M726.3,562.7L725.0,562.2L724.9,559.9L724.7,558.3" fill="none" stroke="#a4a9b0" stroke-width="1.4" stroke-linejoin="round" stroke-linecap="round"/>
<path d="M727.1,564.3L724.3,563.7L722.8,563.4" fill="none" stroke="#a4a9b0" stroke-width="1.4" stroke-linejoin="round" stroke-linecap="round"/>
<path d="M724.9,563.0L722.1,564.0L720.7,562.8L718.7,563.1L716.8,562.6" fill="none" stroke="#a4a9b0" stroke-width="1.4" stroke-linejoin="round" stroke-linecap="round"/>
<path d="M729.4,567.1L727.8,565.6L726.9,566.4" fill="none" stroke="#a4a9b0" stroke-width="1.4" stroke-linejoin="round" stroke-linecap="round"/>
<path d="M723.8,561.9L722.4,562.8L721.2,563.7L722.1,565.9L723.4,566.6" fill="none" stroke="#a4a9b0" stroke-width="1.4" stroke-linejoin="round" stroke-linecap="round"/>
<path d="M724.2,560.3L721.7,560.1L720.4,561.0L720.6,563.3L719.4,565.7" fill="none" stroke="#a4a9b0" stroke-width="1.4" stroke-linejoin="round" stroke-linecap="round"/>
<path d="M726.5,563.7L729.0,563.9L731.8,563.8" fill="none" stroke="#a4a9b0" stroke-width="1.4" stroke-linejoin="round" stroke-linecap="round"/>
<path d="M731.7,563.7L729.8,564.6L728.4,563.7" fill="none" stroke="#a4a9b0" stroke-width="1.4" stroke-linejoin="round" stroke-linecap="round"/>
<path d="M724.6,562.7L723.4,562.0L723.8,559.4" fill="none" stroke="#a4a9b0" stroke-width="1.4" stroke-linejoin="round" stroke-linecap="round"/>
<path d="M729.4,565.8L728.6,563.6L726.3,562.9L724.4,562.5L722.5,562.7" fill="none" stroke="#a4a9b0" stroke-width="1.4" stroke-linejoin="round" stroke-linecap="round"/>
<path d="M724.9,561.1L724.3,558.9L726.8,557.6" fill="none" stroke="#a4a9b0" stroke-width="1.4" stroke-linejoin="round" stroke-linecap="round"/>
<path d="M725.9,563.3L724.5,561.3L721.8,562.5" fill="none" stroke="#a4a9b0" stroke-width="1.4" stroke-linejoin="round" stroke-linecap="round"/>
<path d="M728.0,564.7L729.2,566.9L729.3,568.1" fill="none" stroke="#a4a9b0" stroke-width="1.4" stroke-linejoin="round" stroke-linecap="round"/>
<path d="M721.4,559.8L723.3,559.5L723.3,556.7L722.8,555.2L721.0,553.8" fill="none" stroke="#a4a9b0" stroke-width="1.4" stroke-linejoin="round" stroke-linecap="round"/>
<path d="M731.2,572.9L734.0,573.9L733.9,575.9L735.7,577.5" fill="none" stroke="#a4a9b0" stroke-width="1.4" stroke-linejoin="round" stroke-linecap="round"/>
<path d="M726.6,570.3L726.7,567.4L725.4,565.3" fill="none" stroke="#a4a9b0" stroke-width="1.4" stroke-linejoin="round" stroke-linecap="round"/>
<path d="M726.3,570.6L727.3,573.2L725.8,574.3L724.6,573.3" fill="none" stroke="#a4a9b0" stroke-width="1.4" stroke-linejoin="round" stroke-linecap="round"/>
<path d="M728.6,569.6L728.7,571.4L728.0,573.5" fill="none" stroke="#a4a9b0" stroke-width="1.4" stroke-linejoin="round" stroke-linecap="round"/>
<path d="M729.6,567.6L731.4,568.4L733.9,567.6" fill="none" stroke="#a4a9b0" stroke-width="1.4" stroke-linejoin="round" stroke-linecap="round"/>
<path d="M731.7,568.1L730.7,566.2L729.9,564.5L730.9,563.1L732.6,563.9" fill="none" stroke="#a4a9b0" stroke-width="1.4" stroke-linejoin="round" stroke-linecap="round"/>
<path d="M733.7,567.6L732.0,568.0L729.7,567.3L728.3,568.8" fill="none" stroke="#a4a9b0" stroke-width="1.4" stroke-linejoin="round" stroke-linecap="round"/>
<path d="M729.5,572.0L729.3,574.6L730.2,575.9L731.5,575.5" fill="none" stroke="#a4a9b0" stroke-width="1.4" stroke-linejoin="round" stroke-linecap="round"/>
<path d="M726.8,568.9L729.0,567.6L730.7,569.0L733.1,568.7L735.1,569.6" fill="none" stroke="#a4a9b0" stroke-width="1.4" stroke-linejoin="round" stroke-linecap="round"/>
<path d="M728.1,568.8L726.6,570.0L727.6,571.9L729.3,573.2L730.7,573.3" fill="none" stroke="#a4a9b0" stroke-width="1.4" stroke-linejoin="round" stroke-linecap="round"/>
<path d="M729.2,567.2L728.1,567.6L726.9,565.6L727.3,563.1" fill="none" stroke="#a4a9b0" stroke-width="1.4" stroke-linejoin="round" stroke-linecap="round"/>
<path d="M726.9,570.9L728.6,572.1L729.7,573.0L731.5,572.5L733.5,572.3" fill="none" stroke="#a4a9b0" stroke-width="1.4" stroke-linejoin="round" stroke-linecap="round"/>
<path d="M718.8,579.0L720.0,576.7L719.7,574.0L721.4,573.3" fill="none" stroke="#a4a9b0" stroke-width="1.4" stroke-linejoin="round" stroke-linecap="round"/>
<path d="M725.1,579.4L725.8,581.5L726.3,582.6" fill="none" stroke="#a4a9b0" stroke-width="1.4" stroke-linejoin="round" stroke-linecap="round"/>
<path d="M717.3,577.2L717.6,580.0L716.6,582.8L715.5,583.6L713.5,584.4" fill="none" stroke="#a4a9b0" stroke-width="1.4" stroke-linejoin="round" stroke-linecap="round"/>
<path d="M725.5,574.7L725.0,572.1L723.1,571.3L720.6,570.3L718.5,571.6" fill="none" stroke="#a4a9b0" stroke-width="1.4" stroke-linejoin="round" stroke-linecap="round"/>
<path d="M723.3,576.1L724.6,573.7L724.8,571.6" fill="none" stroke="#a4a9b0" stroke-width="1.4" stroke-linejoin="round" stroke-linecap="round"/>
<path d="M721.5,578.3L722.8,576.6L724.5,577.5L726.7,578.2L728.5,578.6" fill="none" stroke="#a4a9b0" stroke-width="1.4" stroke-linejoin="round" stroke-linecap="round"/>
<path d="M719.1,577.1L721.3,577.6L721.2,579.1L724.0,579.8" fill="none" stroke="#a4a9b0" stroke-width="1.4" stroke-linejoin="round" stroke-linecap="round"/>
<path d="M724.0,576.8L726.3,578.7L728.6,577.1L730.5,578.9L729.7,580.6" fill="none" stroke="#a4a9b0" stroke-width="1.4" stroke-linejoin="round" stroke-linecap="round"/>
<path d="M721.4,579.7L722.7,579.5L724.6,578.7L726.2,577.1L728.1,575.0" fill="none" stroke="#a4a9b0" stroke-width="1.4" stroke-linejoin="round" stroke-linecap="round"/>
<path d="M726.1,573.6L726.0,576.0L724.7,577.2L722.8,576.6" fill="none" stroke="#a4a9b0" stroke-width="1.4" stroke-linejoin="round" stroke-linecap="round"/>
<path d="M722.6,577.2L723.8,579.2L723.9,580.5" fill="none" stroke="#a4a9b0" stroke-width="1.4" stroke-linejoin="round" stroke-linecap="round"/>
<path d="M721.3,575.5L719.3,576.4L717.9,577.2L716.1,577.6L714.8,578.1" fill="none" stroke="#a4a9b0" stroke-width="1.4" stroke-linejoin="round" stroke-linecap="round"/>
<path d="M720.7,577.1L722.0,574.8L721.2,573.6" fill="none" stroke="#a4a9b0" stroke-width="1.4" stroke-linejoin="round" stroke-linecap="round"/>
<path d="M699.4,549.4L700.0,547.5L702.7,547.7" fill="none" stroke="#a4a9b0" stroke-width="1.4" stroke-linejoin="round" stroke-linecap="round"/>
<path d="M694.0,549.3L691.7,550.7L692.0,552.8L692.4,554.1L692.6,556.0" fill="none" stroke="#a4a9b0" stroke-width="1.4" stroke-linejoin="round" stroke-linecap="round"/>
<path d="M695.8,549.4L697.5,549.3L698.6,547.2" fill="none" stroke="#a4a9b0" stroke-width="1.4" stroke-linejoin="round" stroke-linecap="round"/>
<path d="M693.8,548.8L691.8,548.6L690.5,550.7" fill="none" stroke="#a4a9b0" stroke-width="1.4" stroke-linejoin="round" stroke-linecap="round"/>
<path d="M693.7,547.9L693.3,545.5L691.0,543.7L692.1,541.8" fill="none" stroke="#a4a9b0" stroke-width="1.4" stroke-linejoin="round" stroke-linecap="round"/>
<path d="M692.0,548.3L689.8,549.1L687.7,550.1L687.3,552.8" fill="none" stroke="#a4a9b0" stroke-width="1.4" stroke-linejoin="round" stroke-linecap="round"/>
<path d="M698.1,548.3L695.5,548.7L694.4,548.1L693.4,549.3L693.3,550.6" fill="none" stroke="#a4a9b0" stroke-width="1.4" stroke-linejoin="round" stroke-linecap="round"/>
<path d="M699.2,550.3L700.8,551.8L701.1,553.5" fill="none" stroke="#a4a9b0" stroke-width="1.4" stroke-linejoin="round" stroke-linecap="round"/>
<path d="M698.0,548.4L696.2,548.7L695.9,551.3" fill="none" stroke="#a4a9b0" stroke-width="1.4" stroke-linejoin="round" stroke-linecap="round"/>
<path d="M692.6,546.6L693.4,544.8L695.8,543.9L697.2,543.2L698.3,545.2" fill="none" stroke="#a4a9b0" stroke-width="1.4" stroke-linejoin="round" stroke-linecap="round"/>
<path d="M702.2,550.6L703.8,549.7L705.1,550.2L706.3,552.8" fill="none" stroke="#a4a9b0" stroke-width="1.4" stroke-linejoin="round" stroke-linecap="round"/>
<path d="M719.8,558.1L717.8,557.9L716.7,556.2L714.8,555.1L713.9,553.8" fill="none" stroke="#a4a9b0" stroke-width="1.4" stroke-linejoin="round" stroke-linecap="round"/>
<path d="M712.7,552.0L712.3,550.7L713.7,550.0L715.9,549.1L717.1,547.3" fill="none" stroke="#a4a9b0" stroke-width="1.4" stroke-linejoin="round" stroke-linecap="round"/>
<path d="M720.1,556.9L721.4,556.8L723.1,555.5L722.4,552.8" fill="none" stroke="#a4a9b0" stroke-width="1.4" stroke-linejoin="round" stroke-linecap="round"/>
<path d="M712.3,555.0L711.1,556.5L711.8,558.0L710.8,559.0" fill="none" stroke="#a4a9b0" stroke-width="1.4" stroke-linejoin="round" stroke-linecap="round"/>
<path d="M712.3,554.0L710.7,555.2L710.2,556.8L711.8,558.0L713.3,559.9" fill="none" stroke="#a4a9b0" stroke-width="1.4" stroke-linejoin="round" stroke-linecap="round"/>
<path d="M710.8,553.3L713.4,553.9L714.9,553.6L716.9,553.1L717.7,554.7" fill="none" stroke="#a4a9b0" stroke-width="1.4" stroke-linejoin="round" stroke-linecap="round"/>
<path d="M717.7,557.4L720.4,557.9L722.3,558.6L722.5,560.1" fill="none" stroke="#a4a9b0" stroke-width="1.4" stroke-linejoin="round" stroke-linecap="round"/>
<path d="M715.7,554.3L717.2,554.4L720.1,554.4" fill="none" stroke="#a4a9b0" stroke-width="1.4" stroke-linejoin="round" stroke-linecap="round"/>
<path d="M715.9,554.7L717.6,553.8L719.5,553.9L720.4,556.4" fill="none" stroke="#a4a9b0" stroke-width="1.4" stroke-linejoin="round" stroke-linecap="round"/>
<path d="M716.5,555.4L715.7,556.9L715.6,559.5" fill="none" stroke="#a4a9b0" stroke-width="1.4" stroke-linejoin="round" stroke-linecap="round"/>
<path d="M708.9,551.6L708.9,549.7L707.9,548.7L708.1,546.7L706.6,546.0" fill="none" stroke="#a4a9b0" stroke-width="1.4" stroke-linejoin="round" stroke-linecap="round"/>
<path d="M542.6,553.0L544.3,554.7L546.4,553.0L547.7,550.7" fill="none" stroke="#a4a9b0" stroke-width="1.4" stroke-linejoin="round" stroke-linecap="round"/>
<path d="M547.4,553.3L548.4,550.5L546.5,548.1L545.8,546.9L544.7,546.2" fill="none" stroke="#a4a9b0" stroke-width="1.4" stroke-linejoin="round" stroke-linecap="round"/>
<path d="M544.5,552.6L544.0,554.1L545.7,555.6L545.4,557.9L546.9,558.8" fill="none" stroke="#a4a9b0" stroke-width="1.4" stroke-linejoin="round" stroke-linecap="round"/>
<path d="M543.1,550.9L541.5,552.3L541.5,554.5" fill="none" stroke="#a4a9b0" stroke-width="1.4" stroke-linejoin="round" stroke-linecap="round"/>
<path d="M550.9,557.2L553.3,555.4L554.3,553.7" fill="none" stroke="#a4a9b0" stroke-width="1.4" stroke-linejoin="round" stroke-linecap="round"/>
<path d="M553.8,560.6L552.5,559.9L550.7,561.1L550.3,563.1L549.7,565.0" fill="none" stroke="#a4a9b0" stroke-width="1.4" stroke-linejoin="round" stroke-linecap="round"/>
<path d="M557.4,560.9L559.0,560.3L561.3,560.5L562.2,561.3" fill="none" stroke="#a4a9b0" stroke-width="1.4" stroke-linejoin="round" stroke-linecap="round"/>
<path d="M555.1,560.6L556.1,559.8L557.0,558.6" fill="none" stroke="#a4a9b0" stroke-width="1.4" stroke-linejoin="round" stroke-linecap="round"/>
<path d="M557.1,563.5L558.0,565.0L560.2,566.1L561.7,564.7L563.0,565.6" fill="none" stroke="#a4a9b0" stroke-width="1.4" stroke-linejoin="round" stroke-linecap="round"/>
<path d="M555.4,560.4L555.2,562.2L554.0,563.5" fill="none" stroke="#a4a9b0" stroke-width="1.4" stroke-linejoin="round" stroke-linecap="round"/>
<path d="M562.1,566.5L564.0,565.0L565.3,563.5" fill="none" stroke="#a4a9b0" stroke-width="1.4" stroke-linejoin="round" stroke-linecap="round"/>
<path d="M566.4,570.2L564.9,569.5L564.1,570.7L562.8,571.5L562.9,572.9" fill="none" stroke="#a4a9b0" stroke-width="1.4" stroke-linejoin="round" stroke-linecap="round"/>
<path d="M560.4,565.4L561.0,564.3L562.5,563.8L564.8,562.9L564.8,560.0" fill="none" stroke="#a4a9b0" stroke-width="1.4" stroke-linejoin="round" stroke-linecap="round"/>
<path d="M562.0,567.8L560.1,568.8L559.7,570.3L559.4,573.1L560.8,574.4" fill="none" stroke="#a4a9b0" stroke-width="1.4" stroke-linejoin="round" stroke-linecap="round"/>
<path d="M568.6,568.9L567.5,566.1L567.1,564.6L568.5,562.6L571.0,563.7" fill="none" stroke="#a4a9b0" stroke-width="1.4" stroke-linejoin="round" stroke-linecap="round"/>
<g>
<path d="M178.0,303.6L173.2,342.9" stroke="#a5a6a8" stroke-width="1.4" fill="none"/><path d="M171.9,353.8L169.0,341.4L177.6,342.4Z" fill="#a5a6a8"/>
<path d="M376.7,303.6L366.5,341.9" stroke="#a5a6a8" stroke-width="1.4" fill="none"/><path d="M363.6,352.5L362.6,339.8L370.9,342.0Z" fill="#a5a6a8"/>
<path d="M575.3,303.6L543.6,327.4" stroke="#a5a6a8" stroke-width="1.4" fill="none"/><path d="M534.8,334.0L541.9,323.3L547.0,330.2Z" fill="#a5a6a8"/>
<path d="M774.0,303.6L736.0,314.9" stroke="#a5a6a8" stroke-width="1.4" fill="none"/><path d="M725.5,318.0L735.8,310.5L738.2,318.7Z" fill="#a5a6a8"/>
<path d="M972.6,303.6L933.3,298.8" stroke="#a5a6a8" stroke-width="1.4" fill="none"/><path d="M922.4,297.5L934.8,294.6L933.8,303.2Z" fill="#a5a6a8"/>
<path d="M1171.3,303.6L1132.9,294.0" stroke="#a5a6a8" stroke-width="1.4" fill="none"/><path d="M1122.2,291.3L1134.9,290.1L1132.8,298.4Z" fill="#a5a6a8"/>
<path d="M178.0,502.6L188.6,540.8" stroke="#a5a6a8" stroke-width="1.4" fill="none"/><path d="M191.5,551.4L184.1,540.9L192.4,538.7Z" fill="#a5a6a8"/>
<path d="M376.7,502.6L377.5,542.2" stroke="#a5a6a8" stroke-width="1.4" fill="none"/><path d="M377.7,553.2L373.1,541.3L381.7,541.1Z" fill="#a5a6a8"/>
<path d="M575.3,502.6L568.8,541.7" stroke="#a5a6a8" stroke-width="1.4" fill="none"/><path d="M567.0,552.5L564.7,540.0L573.2,541.4Z" fill="#a5a6a8"/>
<path d="M774.0,502.6L736.3,490.3" stroke="#a5a6a8" stroke-width="1.4" fill="none"/><path d="M725.9,486.9L738.6,486.5L735.9,494.7Z" fill="#a5a6a8"/>
<path d="M972.6,502.6L941.0,478.8" stroke="#a5a6a8" stroke-width="1.4" fill="none"/><path d="M932.2,472.2L944.3,476.0L939.2,482.9Z" fill="#a5a6a8"/>
<path d="M1171.3,502.6L1136.5,483.6" stroke="#a5a6a8" stroke-width="1.4" fill="none"/><path d="M1126.9,478.4L1139.5,480.3L1135.4,487.9Z" fill="#a5a6a8"/>
<path d="M178.0,701.6L200.3,734.3" stroke="#a5a6a8" stroke-width="1.4" fill="none"/><path d="M206.5,743.4L196.2,735.9L203.3,731.1Z" fill="#a5a6a8"/>
<path d="M376.7,701.6L399.4,734.0" stroke="#a5a6a8" stroke-width="1.4" fill="none"/><path d="M405.7,743.1L395.3,735.7L402.3,730.8Z" fill="#a5a6a8"/>
<path d="M575.3,701.6L610.9,719.0" stroke="#a5a6a8" stroke-width="1.4" fill="none"/><path d="M620.8,723.8L608.1,722.4L611.9,714.7Z" fill="#a5a6a8"/>
<path d="M774.0,701.6L798.2,670.3" stroke="#a5a6a8" stroke-width="1.4" fill="none"/><path d="M805.0,661.6L801.0,673.7L794.2,668.5Z" fill="#a5a6a8"/>
<path d="M972.6,701.6L972.6,662.0" stroke="#a5a6a8" stroke-width="1.4" fill="none"/><path d="M972.6,651.0L976.9,663.0L968.3,663.0Z" fill="#a5a6a8"/>
<path d="M1171.3,701.6L1160.2,663.6" stroke="#a5a6a8" stroke-width="1.4" fill="none"/><path d="M1157.1,653.0L1164.6,663.3L1156.4,665.7Z" fill="#a5a6a8"/>
<path d="M178.0,900.6L216.2,911.0" stroke="#a5a6a8" stroke-width="1.4" fill="none"/><path d="M226.8,913.8L214.1,914.8L216.4,906.5Z" fill="#a5a6a8"/>
<path d="M376.7,900.6L416.0,905.3" stroke="#a5a6a8" stroke-width="1.4" fill="none"/><path d="M426.9,906.6L414.5,909.5L415.5,900.9Z" fill="#a5a6a8"/>
<path d="M575.3,900.6L611.9,885.5" stroke="#a5a6a8" stroke-width="1.4" fill="none"/><path d="M622.1,881.3L612.6,889.8L609.4,881.9Z" fill="#a5a6a8"/>
<path d="M774.0,900.6L788.1,863.6" stroke="#a5a6a8" stroke-width="1.4" fill="none"/><path d="M792.1,853.3L791.8,866.1L783.8,863.0Z" fill="#a5a6a8"/>
<path d="M972.6,900.6L972.6,861.0" stroke="#a5a6a8" stroke-width="1.4" fill="none"/><path d="M972.6,850.0L976.9,862.0L968.3,862.0Z" fill="#a5a6a8"/>
<path d="M1171.3,900.6L1159.3,862.9" stroke="#a5a6a8" stroke-width="1.4" fill="none"/><path d="M1155.9,852.4L1163.7,862.5L1155.5,865.1Z" fill="#a5a6a8"/>
</g>
<rect x="81" y="1027" width="216" height="158" fill="#fff"/>
<text x="110.6" y="1121.3" textLength="167.4" lengthAdjust="spacingAndGlyphs" style="font-weight:700;font-size:36.6px;fill:#0a1264;stroke:#0a1264;stroke-width:2.6px;stroke-linejoin:miter">MOODY’S</text>
<rect x="306.40" y="1105" width="71.60" height="30.40000000000009" fill="#fff3c0"/>
<rect x="377.70" y="1105" width="71.60" height="30.40000000000009" fill="#fee8a4"/>
<rect x="449.00" y="1105" width="71.60" height="30.40000000000009" fill="#fedf88"/>
<rect x="520.30" y="1105" width="71.60" height="30.40000000000009" fill="#fec966"/>
<rect x="591.60" y="1105" width="71.60" height="30.40000000000009" fill="#feb04e"/>
<rect x="662.90" y="1105" width="71.60" height="30.40000000000009" fill="#fd9b41"/>
<rect x="734.20" y="1105" width="71.60" height="30.40000000000009" fill="#fd7a37"/>
<rect x="805.50" y="1105" width="71.60" height="30.40000000000009" fill="#f9532d"/>
<rect x="876.80" y="1105" width="71.60" height="30.40000000000009" fill="#e92a21"/>
<rect x="948.10" y="1105" width="71.60" height="30.40000000000009" fill="#d0121f"/>
<rect x="1019.40" y="1105" width="71.60" height="30.40000000000009" fill="#b10026"/>
<rect x="1090.70" y="1105" width="71.60" height="30.40000000000009" fill="#8f0026"/>
<path d="M1162,1105L1205.8,1120.2L1162,1135.4Z" fill="#7a0a22"/>
<path d="M377.70,1105V1135.4" stroke="#000" stroke-width="1.05"/>
<path d="M449.00,1105V1135.4" stroke="#000" stroke-width="1.05"/>
<path d="M520.30,1105V1135.4" stroke="#000" stroke-width="1.05"/>
<path d="M591.60,1105V1135.4" stroke="#000" stroke-width="1.05"/>
<path d="M662.90,1105V1135.4" stroke="#000" stroke-width="1.05"/>
<path d="M734.20,1105V1135.4" stroke="#000" stroke-width="1.05"/>
<path d="M805.50,1105V1135.4" stroke="#000" stroke-width="1.05"/>
<path d="M876.80,1105V1135.4" stroke="#000" stroke-width="1.05"/>
<path d="M948.10,1105V1135.4" stroke="#000" stroke-width="1.05"/>
<path d="M1019.40,1105V1135.4" stroke="#000" stroke-width="1.05"/>
<path d="M1090.70,1105V1135.4" stroke="#000" stroke-width="1.05"/>
<path d="M1162.00,1105V1135.4" stroke="#000" stroke-width="1.05"/>
<path d="M306.4,1105H1162L1205.8,1120.2L1162,1135.4H306.4Z" fill="none" stroke="#000" stroke-width="1.5" stroke-linejoin="miter"/>
<path d="M306.40,1135.4V1142.9" stroke="#000" stroke-width="1.5"/>
<text class="cb" x="306.40" y="1166.3" text-anchor="middle">30</text>
<path d="M377.70,1135.4V1142.9" stroke="#000" stroke-width="1.5"/>
<text class="cb" x="377.70" y="1166.3" text-anchor="middle">40</text>
<path d="M449.00,1135.4V1142.9" stroke="#000" stroke-width="1.5"/>
<text class="cb" x="449.00" y="1166.3" text-anchor="middle">50</text>
<path d="M520.30,1135.4V1142.9" stroke="#000" stroke-width="1.5"/>
<text class="cb" x="520.30" y="1166.3" text-anchor="middle">60</text>
<path d="M591.60,1135.4V1142.9" stroke="#000" stroke-width="1.5"/>
<text class="cb" x="591.60" y="1166.3" text-anchor="middle">70</text>
<path d="M662.90,1135.4V1142.9" stroke="#000" stroke-width="1.5"/>
<text class="cb" x="662.90" y="1166.3" text-anchor="middle">80</text>
<path d="M734.20,1135.4V1142.9" stroke="#000" stroke-width="1.5"/>
<text class="cb" x="734.20" y="1166.3" text-anchor="middle">90</text>
<path d="M805.50,1135.4V1142.9" stroke="#000" stroke-width="1.5"/>
<text class="cb" x="805.50" y="1166.3" text-anchor="middle">100</text>
<path d="M876.80,1135.4V1142.9" stroke="#000" stroke-width="1.5"/>
<text class="cb" x="876.80" y="1166.3" text-anchor="middle">110</text>
<path d="M948.10,1135.4V1142.9" stroke="#000" stroke-width="1.5"/>
<text class="cb" x="948.10" y="1166.3" text-anchor="middle">120</text>
<path d="M1019.40,1135.4V1142.9" stroke="#000" stroke-width="1.5"/>
<text class="cb" x="1019.40" y="1166.3" text-anchor="middle">130</text>
<path d="M1090.70,1135.4V1142.9" stroke="#000" stroke-width="1.5"/>
<text class="cb" x="1090.70" y="1166.3" text-anchor="middle">140</text>
<path d="M1162.00,1135.4V1142.9" stroke="#000" stroke-width="1.5"/>
<text class="cb" x="1162.00" y="1166.3" text-anchor="middle">150</text>
<text x="315" y="1089.5" style="font-size:21.3px">wind speed (mph)</text>
<path d="M685.1,570.9H708.6999999999999M696.9,559.1V582.6999999999999" stroke="#000" stroke-width="2.9" fill="none"/>
</g>
<text x="671" y="68" text-anchor="middle" style="font-weight:700;font-size:37.2px">Hurricane Katrina 0900UTC 29 Aug 2005</text>
<text x="670.7" y="98.6" text-anchor="middle" style="font-weight:700;font-size:17.9px">3-second peak gusts (mph) valid for open terrain over land and marine over water</text>
<path d="M120.89999999999999,137.8H144.29999999999998M132.6,126.10000000000001V149.5" stroke="#000" stroke-width="2.4" fill="none"/>
<text class="lg" x="159.5" y="145.9">Max gust location marker</text>
<text class="lg" x="113.6" y="173.3">Max winds: 136 mph, 30 mi NNE of center</text>
<path d="M113.1,194.3L142.1,194.3" stroke="#000" stroke-width="1.5" fill="none"/><path d="M153.4,194.3L141.1,198.7L141.1,189.9Z" fill="#000"/>
<text class="lg" x="159.5" y="201.3">Wind direction indicator</text>
<text class="lg" x="113.6" y="228.9">Center position: 28.8°N 89.7°W</text>
<rect x="78.75" y="6.05" width="1191.85" height="1191.8500000000001" fill="none" stroke="#000" stroke-width="2.35"/>
<path d="M71.075,71.1H78.75" stroke="#000" stroke-width="1.6"/>
<text class="tk" x="64.0" y="79.69999999999999" text-anchor="end">35°N</text>
<path d="M71.075,241.3H78.75" stroke="#000" stroke-width="1.6"/>
<text class="tk" x="64.0" y="249.9" text-anchor="end">33°N</text>
<path d="M71.075,411.5H78.75" stroke="#000" stroke-width="1.6"/>
<text class="tk" x="64.0" y="420.1" text-anchor="end">31°N</text>
<path d="M71.075,581.6H78.75" stroke="#000" stroke-width="1.6"/>
<text class="tk" x="64.0" y="590.2" text-anchor="end">29°N</text>
<path d="M71.075,751.8H78.75" stroke="#000" stroke-width="1.6"/>
<text class="tk" x="64.0" y="760.4" text-anchor="end">27°N</text>
<path d="M71.075,921.9H78.75" stroke="#000" stroke-width="1.6"/>
<text class="tk" x="64.0" y="930.5" text-anchor="end">25°N</text>
<path d="M71.075,1092.1H78.75" stroke="#000" stroke-width="1.6"/>
<text class="tk" x="64.0" y="1100.6999999999998" text-anchor="end">23°N</text>
<path d="M135.1,1197.9V1205.575" stroke="#000" stroke-width="1.6"/>
<text class="tk" x="135.1" y="1229" text-anchor="middle">96°W</text>
<path d="M305.3,1197.9V1205.575" stroke="#000" stroke-width="1.6"/>
<text class="tk" x="305.3" y="1229" text-anchor="middle">94°W</text>
<path d="M475.6,1197.9V1205.575" stroke="#000" stroke-width="1.6"/>
<text class="tk" x="475.6" y="1229" text-anchor="middle">92°W</text>
<path d="M645.8,1197.9V1205.575" stroke="#000" stroke-width="1.6"/>
<text class="tk" x="645.8" y="1229" text-anchor="middle">90°W</text>
<path d="M816,1197.9V1205.575" stroke="#000" stroke-width="1.6"/>
<text class="tk" x="816" y="1229" text-anchor="middle">88°W</text>
<path d="M986.3,1197.9V1205.575" stroke="#000" stroke-width="1.6"/>
<text class="tk" x="986.3" y="1229" text-anchor="middle">86°W</text>
<path d="M1156.5,1197.9V1205.575" stroke="#000" stroke-width="1.6"/>
<text class="tk" x="1156.5" y="1229" text-anchor="middle">84°W</text>
</svg></body></html>
